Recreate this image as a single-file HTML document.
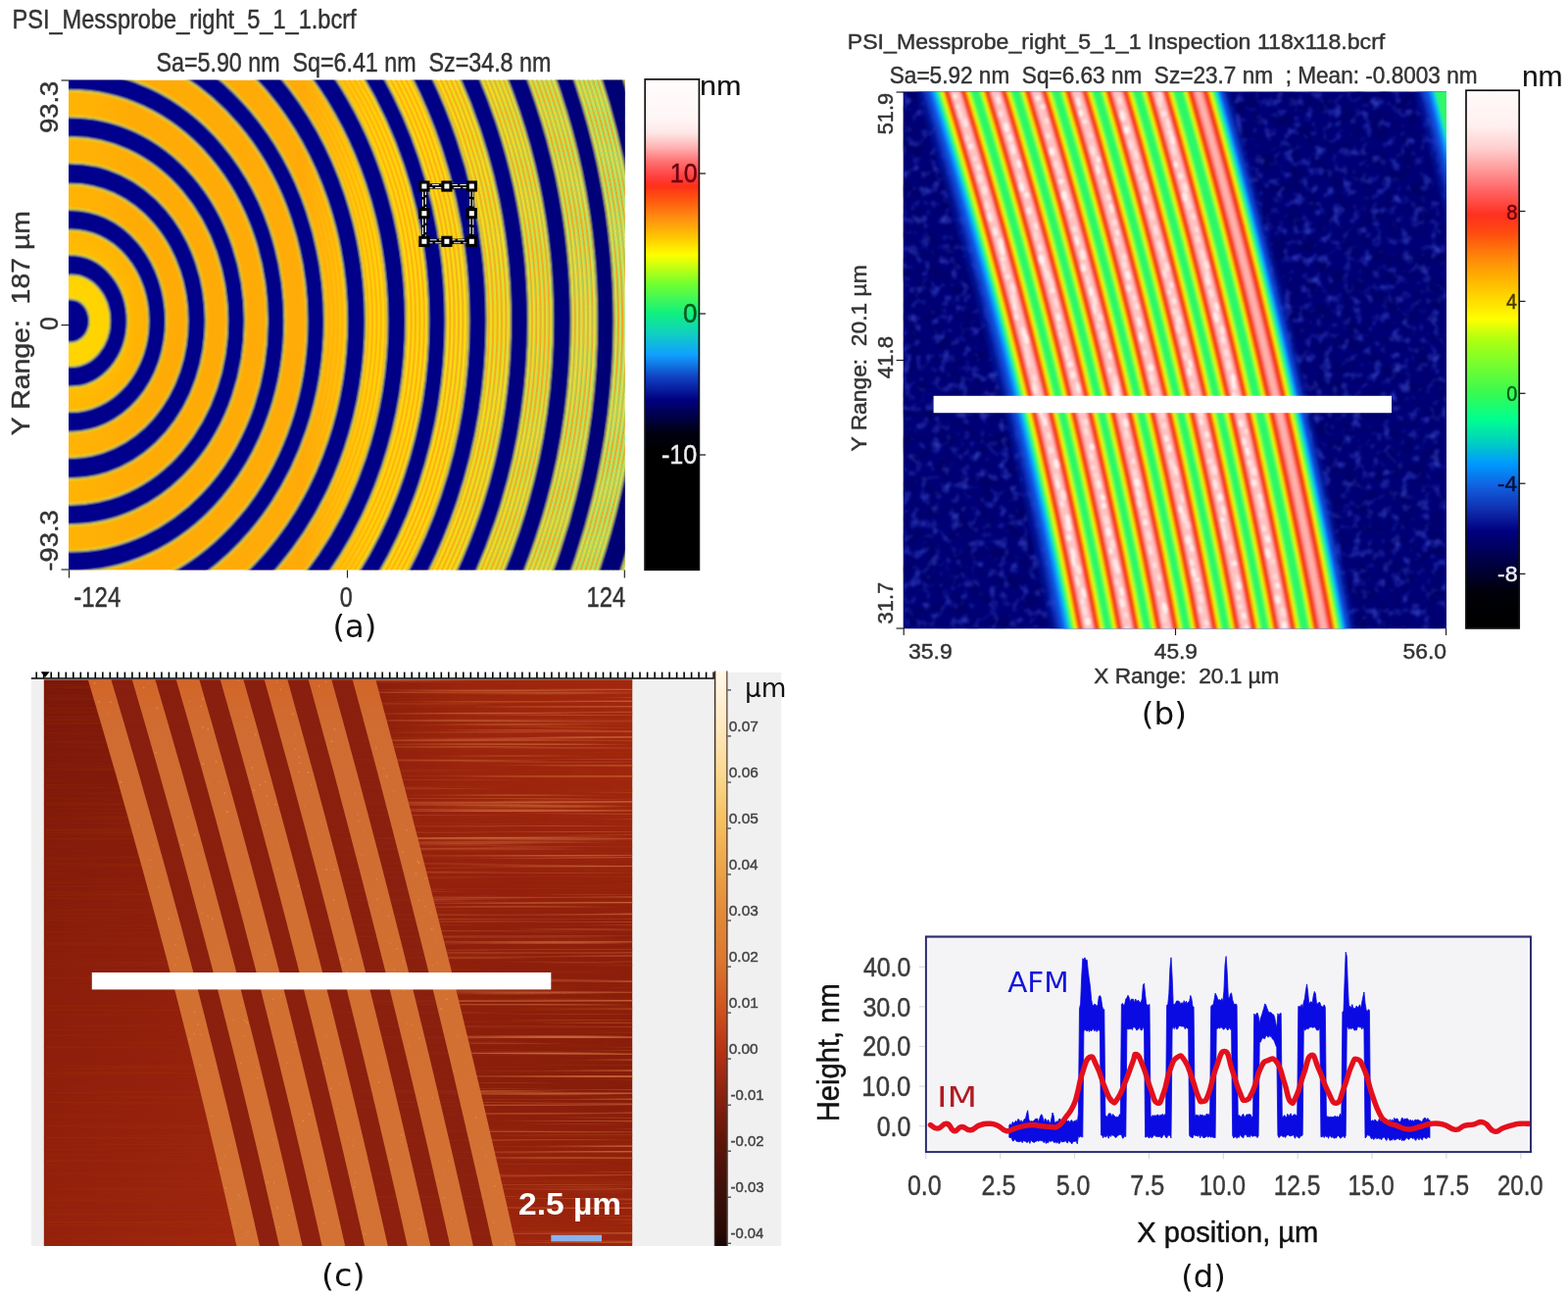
<!DOCTYPE html>
<html lang="en"><head><meta charset="utf-8"><title>Figure</title>
<style>html,body{margin:0;padding:0;background:#fff;overflow:hidden}svg{display:block}</style></head>
<body>
<svg width="1600" height="1321" viewBox="0 0 1600 1321">
<defs>
<clipPath id="ca"><rect x="70.0" y="81.6" width="567.8" height="500.0"/></clipPath>
<linearGradient id="abg" gradientUnits="userSpaceOnUse" x1="70" y1="0" x2="638" y2="0">
<stop offset="0" stop-color="#ffb404"/><stop offset="0.12" stop-color="#ffab06"/>
<stop offset="0.42" stop-color="#ffab08"/><stop offset="0.55" stop-color="#ffd208"/><stop offset="0.75" stop-color="#fbdc14"/>
<stop offset="0.88" stop-color="#f0dc30"/><stop offset="1" stop-color="#e0e050"/></linearGradient>
<linearGradient id="amo" gradientUnits="userSpaceOnUse" x1="300" y1="0" x2="638" y2="0">
<stop offset="0" stop-color="#fff" stop-opacity="0"/><stop offset="0.25" stop-color="#fff" stop-opacity="0.5"/><stop offset="1" stop-color="#fff" stop-opacity="1"/></linearGradient>
<mask id="amask" maskUnits="userSpaceOnUse" x="0" y="0" width="1600" height="700"><rect x="0" y="0" width="1600" height="700" fill="url(#amo)"/></mask>
<linearGradient id="anavy" gradientUnits="userSpaceOnUse" x1="70" y1="0" x2="638" y2="0">
<stop offset="0" stop-color="#00008c"/><stop offset="0.6" stop-color="#000086"/><stop offset="1" stop-color="#00006c"/></linearGradient>
<radialGradient id="acen" gradientUnits="userSpaceOnUse" cx="72.3" cy="327.3" r="110" gradientTransform="translate(0 -59.57) scale(1 1.182)"><stop offset="0" stop-color="#ffd800" stop-opacity="1"/><stop offset="0.36" stop-color="#ffd400" stop-opacity="0.95"/><stop offset="0.55" stop-color="#ffc400" stop-opacity="0.5"/><stop offset="1" stop-color="#ffb000" stop-opacity="0"/></radialGradient>
<filter id="blurA" x="-2%" y="-2%" width="104%" height="104%"><feGaussianBlur stdDeviation="0.9"/></filter>
<linearGradient id="ahg" gradientUnits="userSpaceOnUse" x1="440" y1="0" x2="638" y2="0"><stop offset="0" stop-color="#fff" stop-opacity="0"/><stop offset="0.45" stop-color="#fff" stop-opacity="0.55"/><stop offset="1" stop-color="#fff" stop-opacity="1"/></linearGradient>
<mask id="ahm" maskUnits="userSpaceOnUse" x="0" y="0" width="1600" height="700"><rect x="0" y="0" width="1600" height="700" fill="url(#ahg)"/></mask>
<pattern id="ahl" patternUnits="userSpaceOnUse" x="0" y="0" width="8" height="4.3"><rect x="0" y="0" width="8" height="2.1" fill="#8ae878"/></pattern>
<linearGradient id="ayg" gradientUnits="userSpaceOnUse" x1="0" y1="81.6" x2="0" y2="581.6"><stop offset="0" stop-color="#000" stop-opacity="0"/><stop offset="0.3" stop-color="#000" stop-opacity="0.35"/><stop offset="0.5" stop-color="#000" stop-opacity="0.9"/><stop offset="0.7" stop-color="#000" stop-opacity="0.35"/><stop offset="1" stop-color="#000" stop-opacity="0"/></linearGradient>
<mask id="ahm2" maskUnits="userSpaceOnUse" x="0" y="0" width="1600" height="700"><rect x="0" y="0" width="1600" height="700" fill="url(#ahg)"/><rect x="0" y="0" width="1600" height="700" fill="url(#ayg)"/></mask>
<linearGradient id="cba" gradientUnits="userSpaceOnUse" x1="0" y1="80" x2="0" y2="582"><stop offset="0.0000" stop-color="#fffdfd"/><stop offset="0.0797" stop-color="#fff6f6"/><stop offset="0.1096" stop-color="#ffe8e8"/><stop offset="0.1394" stop-color="#ffb4b4"/><stop offset="0.1693" stop-color="#ff7070"/><stop offset="0.1992" stop-color="#ff4040"/><stop offset="0.2191" stop-color="#ff3018"/><stop offset="0.2490" stop-color="#ff5a10"/><stop offset="0.2849" stop-color="#ff9010"/><stop offset="0.3287" stop-color="#ffd000"/><stop offset="0.3586" stop-color="#ffff00"/><stop offset="0.3825" stop-color="#c8ff10"/><stop offset="0.4183" stop-color="#70ff30"/><stop offset="0.4781" stop-color="#10f080"/><stop offset="0.5179" stop-color="#10d0c0"/><stop offset="0.5618" stop-color="#10a0ff"/><stop offset="0.6076" stop-color="#1040c0"/><stop offset="0.6534" stop-color="#000080"/><stop offset="0.7211" stop-color="#000010"/><stop offset="0.7570" stop-color="#000000"/><stop offset="1.0000" stop-color="#000000"/></linearGradient>
<clipPath id="cb"><rect x="921.7" y="93.6" width="554.3" height="547.6999999999999"/></clipPath>
<filter id="blurB3" x="-5%" y="-5%" width="110%" height="110%"><feGaussianBlur stdDeviation="2.6"/></filter>
<filter id="blurB" x="-5%" y="-5%" width="110%" height="110%"><feGaussianBlur stdDeviation="1.2"/></filter>
<filter id="noiseB" x="0" y="0" width="100%" height="100%"><feTurbulence type="fractalNoise" baseFrequency="0.10" numOctaves="2" seed="4"/>
<feColorMatrix type="matrix" values="0 0 0 0 0.06  0 0 0 0 0.10  0 0 0 0 0.74  1.9 0 0 0 -1.0"/><feGaussianBlur stdDeviation="1.1"/></filter>
<filter id="noiseB2" x="0" y="0" width="100%" height="100%"><feTurbulence type="fractalNoise" baseFrequency="0.07" numOctaves="2" seed="9"/>
<feColorMatrix type="matrix" values="0 0 0 0 0  0 0 0 0 0  0 0 0 0 0.12  0 2.0 0 0 -0.85"/></filter>
<linearGradient id="cbb" gradientUnits="userSpaceOnUse" x1="0" y1="92" x2="0" y2="641"><stop offset="0.0000" stop-color="#fffafa"/><stop offset="0.0656" stop-color="#fff0f0"/><stop offset="0.1071" stop-color="#ffd0d0"/><stop offset="0.1485" stop-color="#ff9898"/><stop offset="0.1894" stop-color="#ff6060"/><stop offset="0.2313" stop-color="#ff3020"/><stop offset="0.2641" stop-color="#ff4a10"/><stop offset="0.3133" stop-color="#ff8a08"/><stop offset="0.3552" stop-color="#ffb800"/><stop offset="0.4253" stop-color="#ffff00"/><stop offset="0.4627" stop-color="#b0ff10"/><stop offset="0.4882" stop-color="#90ff20"/><stop offset="0.5628" stop-color="#38fa50"/><stop offset="0.6120" stop-color="#00ff90"/><stop offset="0.6539" stop-color="#00d0c0"/><stop offset="0.6949" stop-color="#0098ff"/><stop offset="0.7359" stop-color="#1060e0"/><stop offset="0.7778" stop-color="#1030b0"/><stop offset="0.8189" stop-color="#000080"/><stop offset="0.8809" stop-color="#000040"/><stop offset="0.9344" stop-color="#000008"/><stop offset="1.0000" stop-color="#000000"/></linearGradient>
<clipPath id="cc"><rect x="44.6" y="693.2" width="600.8" height="577.8"/></clipPath>
<linearGradient id="cbg" gradientUnits="userSpaceOnUse" x1="0" y1="693" x2="0" y2="1271">
<stop offset="0" stop-color="#821b0c"/><stop offset="0.3" stop-color="#8f1f0d"/><stop offset="0.65" stop-color="#9a230e"/><stop offset="1" stop-color="#a3270f"/></linearGradient>
<linearGradient id="cbg2" gradientUnits="userSpaceOnUse" x1="44" y1="0" x2="645" y2="0">
<stop offset="0" stop-color="#5a0a00" stop-opacity="0.2"/><stop offset="0.35" stop-color="#5a0a00" stop-opacity="0.04"/><stop offset="0.6" stop-color="#5a0a00" stop-opacity="0"/></linearGradient>
<linearGradient id="cbg3" gradientUnits="userSpaceOnUse" x1="0" y1="693" x2="0" y2="1271">
<stop offset="0" stop-color="#c23410" stop-opacity="0.5"/><stop offset="0.2" stop-color="#c23410" stop-opacity="0.38"/><stop offset="0.38" stop-color="#c03410" stop-opacity="0.06"/><stop offset="0.45" stop-color="#4a0800" stop-opacity="0.08"/><stop offset="0.72" stop-color="#4a0800" stop-opacity="0.26"/><stop offset="0.9" stop-color="#4a0800" stop-opacity="0.12"/><stop offset="1" stop-color="#4a0800" stop-opacity="0.06"/></linearGradient>
<linearGradient id="cxg" gradientUnits="userSpaceOnUse" x1="330" y1="0" x2="645" y2="0"><stop offset="0" stop-color="#fff" stop-opacity="0"/><stop offset="0.45" stop-color="#fff" stop-opacity="0.8"/><stop offset="1" stop-color="#fff" stop-opacity="1"/></linearGradient>
<mask id="cxm" maskUnits="userSpaceOnUse" x="0" y="600" width="1600" height="721"><rect x="0" y="600" width="1600" height="721" fill="url(#cxg)"/></mask>
<linearGradient id="cst" gradientUnits="userSpaceOnUse" x1="0" y1="693" x2="0" y2="1271">
<stop offset="0" stop-color="#d2652a"/><stop offset="0.08" stop-color="#d06c30"/><stop offset="1" stop-color="#d47234"/></linearGradient>
<filter id="noiseC" x="0" y="0" width="100%" height="100%"><feTurbulence type="fractalNoise" baseFrequency="0.003 0.35" numOctaves="2" seed="11"/>
<feColorMatrix type="matrix" values="0 0 0 0 0.84  0 0 0 0 0.30  0 0 0 0 0.10  2.4 0 0 0 -1.30"/></filter>
<filter id="noiseC2" x="0" y="0" width="100%" height="100%"><feTurbulence type="fractalNoise" baseFrequency="0.004 0.5" numOctaves="2" seed="5"/>
<feColorMatrix type="matrix" values="0 0 0 0 0.36  0 0 0 0 0.04  0 0 0 0 0.0  0 2.0 0 0 -0.98"/></filter>
<filter id="blurC" x="-5%" y="-5%" width="110%" height="110%"><feGaussianBlur stdDeviation="0.6"/></filter>
<linearGradient id="cng" gradientUnits="userSpaceOnUse" x1="300" y1="0" x2="645" y2="0"><stop offset="0" stop-color="#fff" stop-opacity="0.05"/><stop offset="0.3" stop-color="#fff" stop-opacity="0.5"/><stop offset="1" stop-color="#fff" stop-opacity="1"/></linearGradient>
<mask id="cnm" maskUnits="userSpaceOnUse" x="0" y="600" width="1600" height="721"><rect x="0" y="600" width="1600" height="721" fill="url(#cng)"/></mask>
<linearGradient id="cbc" gradientUnits="userSpaceOnUse" x1="0" y1="684.5" x2="0" y2="1271"><stop offset="0.0000" stop-color="#fff8ea"/><stop offset="0.0963" stop-color="#fde8c0"/><stop offset="0.1782" stop-color="#fad890"/><stop offset="0.2600" stop-color="#f5c060"/><stop offset="0.3410" stop-color="#eda548"/><stop offset="0.4186" stop-color="#e28a38"/><stop offset="0.4970" stop-color="#dc7930"/><stop offset="0.5772" stop-color="#d25820"/><stop offset="0.6549" stop-color="#b83414"/><stop offset="0.7357" stop-color="#8c2210"/><stop offset="0.8176" stop-color="#601408"/><stop offset="0.8951" stop-color="#40100a"/><stop offset="0.9761" stop-color="#280a06"/><stop offset="1.0000" stop-color="#180604"/></linearGradient>
<clipPath id="cd"><rect x="944.8" y="955.5" width="617.2" height="219.70000000000005"/></clipPath>
</defs>
<rect width="1600" height="1321" fill="#fff"/>
<g clip-path="url(#ca)">
<rect x="70.0" y="81.6" width="567.8" height="500.0" fill="url(#abg)"/>
<rect x="70.0" y="81.6" width="250" height="500.0" fill="url(#acen)"/>
<g mask="url(#amask)"><g transform="translate(72.3 327.3) scale(1 1.182)" fill="none" stroke="#ff9418" stroke-width="2.0" stroke-opacity="0.9">
<circle r="255.0"/>
<circle r="259.4"/>
<circle r="263.8"/>
<circle r="268.2"/>
<circle r="272.6"/>
<circle r="277.0"/>
<circle r="281.4"/>
<circle r="285.8"/>
<circle r="290.2"/>
<circle r="294.6"/>
<circle r="299.0"/>
<circle r="303.4"/>
<circle r="307.8"/>
<circle r="312.2"/>
<circle r="316.6"/>
<circle r="321.0"/>
<circle r="325.4"/>
<circle r="329.8"/>
<circle r="334.2"/>
<circle r="338.6"/>
<circle r="343.0"/>
<circle r="347.4"/>
<circle r="351.8"/>
<circle r="356.2"/>
<circle r="360.6"/>
<circle r="365.0"/>
<circle r="369.4"/>
<circle r="373.8"/>
<circle r="378.2"/>
<circle r="382.6"/>
<circle r="387.0"/>
<circle r="391.4"/>
<circle r="395.8"/>
<circle r="400.2"/>
<circle r="404.6"/>
<circle r="409.0"/>
<circle r="413.4"/>
<circle r="417.8"/>
<circle r="422.2"/>
<circle r="426.6"/>
<circle r="431.0"/>
<circle r="435.4"/>
<circle r="439.8"/>
<circle r="444.2"/>
<circle r="448.6"/>
<circle r="453.0"/>
<circle r="457.4"/>
<circle r="461.8"/>
<circle r="466.2"/>
<circle r="470.6"/>
<circle r="475.0"/>
<circle r="479.4"/>
<circle r="483.8"/>
<circle r="488.2"/>
<circle r="492.6"/>
<circle r="497.0"/>
<circle r="501.4"/>
<circle r="505.8"/>
<circle r="510.2"/>
<circle r="514.6"/>
<circle r="519.0"/>
<circle r="523.4"/>
<circle r="527.8"/>
<circle r="532.2"/>
<circle r="536.6"/>
<circle r="541.0"/>
<circle r="545.4"/>
<circle r="549.8"/>
<circle r="554.2"/>
<circle r="558.6"/>
<circle r="563.0"/>
<circle r="567.4"/>
<circle r="571.8"/>
<circle r="576.2"/>
<circle r="580.6"/>
<circle r="585.0"/>
<circle r="589.4"/>
<circle r="593.8"/>
<circle r="598.2"/>
<circle r="602.6"/>
<circle r="607.0"/>
<circle r="611.4"/>
<circle r="615.8"/>
<circle r="620.2"/>
<circle r="624.6"/>
<circle r="629.0"/>
<circle r="633.4"/>
<circle r="637.8"/>
</g></g>
<g mask="url(#ahm)"><g transform="translate(72.3 327.3) scale(1 1.04)" fill="none" stroke="#86ea80" stroke-width="1.7" stroke-opacity="0.6">
<circle r="380.0"/>
<circle r="384.1"/>
<circle r="388.2"/>
<circle r="392.3"/>
<circle r="396.4"/>
<circle r="400.5"/>
<circle r="404.6"/>
<circle r="408.7"/>
<circle r="412.8"/>
<circle r="416.9"/>
<circle r="421.0"/>
<circle r="425.1"/>
<circle r="429.2"/>
<circle r="433.3"/>
<circle r="437.4"/>
<circle r="441.5"/>
<circle r="445.6"/>
<circle r="449.7"/>
<circle r="453.8"/>
<circle r="457.9"/>
<circle r="462.0"/>
<circle r="466.1"/>
<circle r="470.2"/>
<circle r="474.3"/>
<circle r="478.4"/>
<circle r="482.5"/>
<circle r="486.6"/>
<circle r="490.7"/>
<circle r="494.8"/>
<circle r="498.9"/>
<circle r="503.0"/>
<circle r="507.1"/>
<circle r="511.2"/>
<circle r="515.3"/>
<circle r="519.4"/>
<circle r="523.5"/>
<circle r="527.6"/>
<circle r="531.7"/>
<circle r="535.8"/>
<circle r="539.9"/>
<circle r="544.0"/>
<circle r="548.1"/>
<circle r="552.2"/>
<circle r="556.3"/>
<circle r="560.4"/>
<circle r="564.5"/>
<circle r="568.6"/>
<circle r="572.7"/>
<circle r="576.8"/>
<circle r="580.9"/>
<circle r="585.0"/>
<circle r="589.1"/>
<circle r="593.2"/>
<circle r="597.3"/>
<circle r="601.4"/>
<circle r="605.5"/>
<circle r="609.6"/>
<circle r="613.7"/>
<circle r="617.8"/>
<circle r="621.9"/>
<circle r="626.0"/>
<circle r="630.1"/>
<circle r="634.2"/>
<circle r="638.3"/>
</g></g>
<rect x="440" y="81.6" width="200" height="500.0" fill="url(#ahl)" fill-opacity="0.55" mask="url(#ahm2)"/>
<g filter="url(#blurA)"><g transform="translate(72.3 327.3)" fill="none">
<circle r="20.30" fill="#dde052" transform="scale(1 1.17)"/><circle r="18.70" fill="#00008c" transform="scale(1 1.17)"/>
<circle r="48.75" stroke="#dde052" stroke-width="20.10" transform="scale(1 1.1700)"/>
<circle r="88.12" stroke="#dde052" stroke-width="20.15" transform="scale(1 1.1700)"/>
<circle r="128.42" stroke="#dde052" stroke-width="20.75" transform="scale(1 1.1700)"/>
<circle r="168.75" stroke="#dde052" stroke-width="20.10" transform="scale(1 1.1709)"/>
<circle r="209.32" stroke="#dde052" stroke-width="20.05" transform="scale(1 1.1728)"/>
<circle r="249.95" stroke="#dde052" stroke-width="20.10" transform="scale(1 1.1748)"/>
<circle r="291.20" stroke="#dde052" stroke-width="21.30" transform="scale(1 1.1768)"/>
<circle r="332.45" stroke="#dde052" stroke-width="21.30" transform="scale(1 1.1788)"/>
<circle r="373.70" stroke="#dde052" stroke-width="20.00" transform="scale(1 1.1807)"/>
<circle r="415.25" stroke="#dde052" stroke-width="20.70" transform="scale(1 1.1820)"/>
<circle r="457.75" stroke="#dde052" stroke-width="20.70" transform="scale(1 1.1820)"/>
<circle r="501.20" stroke="#dde052" stroke-width="21.30" transform="scale(1 1.1820)"/>
<circle r="545.58" stroke="#dde052" stroke-width="20.05" transform="scale(1 1.1820)"/>
<circle r="590.70" stroke="#dde052" stroke-width="23.80" transform="scale(1 1.1820)"/>
<circle r="48.75" stroke="url(#anavy)" stroke-width="17.10" transform="scale(1 1.1700)"/>
<circle r="88.12" stroke="url(#anavy)" stroke-width="17.15" transform="scale(1 1.1700)"/>
<circle r="128.42" stroke="url(#anavy)" stroke-width="17.75" transform="scale(1 1.1700)"/>
<circle r="168.75" stroke="url(#anavy)" stroke-width="17.10" transform="scale(1 1.1709)"/>
<circle r="209.32" stroke="url(#anavy)" stroke-width="17.05" transform="scale(1 1.1728)"/>
<circle r="249.95" stroke="url(#anavy)" stroke-width="17.10" transform="scale(1 1.1748)"/>
<circle r="291.20" stroke="url(#anavy)" stroke-width="18.30" transform="scale(1 1.1768)"/>
<circle r="332.45" stroke="url(#anavy)" stroke-width="18.30" transform="scale(1 1.1788)"/>
<circle r="373.70" stroke="url(#anavy)" stroke-width="17.00" transform="scale(1 1.1807)"/>
<circle r="415.25" stroke="url(#anavy)" stroke-width="17.70" transform="scale(1 1.1820)"/>
<circle r="457.75" stroke="url(#anavy)" stroke-width="17.70" transform="scale(1 1.1820)"/>
<circle r="501.20" stroke="url(#anavy)" stroke-width="18.30" transform="scale(1 1.1820)"/>
<circle r="545.58" stroke="url(#anavy)" stroke-width="17.05" transform="scale(1 1.1820)"/>
<circle r="590.70" stroke="url(#anavy)" stroke-width="20.80" transform="scale(1 1.1820)"/>
</g></g>
<g>
<rect x="432.9" y="190.0" width="48.400000000000034" height="56.30000000000001" fill="none" stroke="#000" stroke-width="5.4"/>
<rect x="431.4" y="188.5" width="51.400000000000034" height="59.30000000000001" fill="none" stroke="#fff" stroke-width="1.1" stroke-dasharray="7 2.5"/>
<rect x="434.4" y="191.5" width="45.400000000000034" height="53.30000000000001" fill="none" stroke="#fff" stroke-width="1.1" stroke-dasharray="7 2.5"/>
<rect x="427.3" y="184.4" width="11.2" height="11.2" fill="#000"/><rect x="430.4" y="187.5" width="5" height="5" fill="#fff"/>
<rect x="427.3" y="212.1" width="11.2" height="11.2" fill="#000"/><rect x="430.4" y="215.2" width="5" height="5" fill="#fff"/>
<rect x="427.3" y="240.7" width="11.2" height="11.2" fill="#000"/><rect x="430.4" y="243.8" width="5" height="5" fill="#fff"/>
<rect x="450.3" y="184.4" width="11.2" height="11.2" fill="#000"/><rect x="453.4" y="187.5" width="5" height="5" fill="#fff"/>
<rect x="450.3" y="240.7" width="11.2" height="11.2" fill="#000"/><rect x="453.4" y="243.8" width="5" height="5" fill="#fff"/>
<rect x="475.7" y="184.4" width="11.2" height="11.2" fill="#000"/><rect x="478.8" y="187.5" width="5" height="5" fill="#fff"/>
<rect x="475.7" y="212.1" width="11.2" height="11.2" fill="#000"/><rect x="478.8" y="215.2" width="5" height="5" fill="#fff"/>
<rect x="475.7" y="240.7" width="11.2" height="11.2" fill="#000"/><rect x="478.8" y="243.8" width="5" height="5" fill="#fff"/>
</g>
</g>
<g stroke="#222" stroke-width="1.2">
<line x1="70.5" y1="581.6" x2="70.5" y2="589.5"/>
<line x1="354.5" y1="581.6" x2="354.5" y2="589.5"/>
<line x1="637.3" y1="581.6" x2="637.3" y2="589.5"/>
<line x1="62.5" y1="82" x2="70" y2="82"/>
<line x1="62.5" y1="331.6" x2="70" y2="331.6"/>
<line x1="62.5" y1="581" x2="70" y2="581"/>
</g>
<rect x="657.6" y="80.3" width="56.4" height="501.4" fill="url(#cba)"/>
<rect x="658.2" y="80.9" width="55.2" height="500.4" fill="none" stroke="#111" stroke-width="1.7"/>
<g stroke="#222" stroke-width="1.3"><line x1="714" y1="177" x2="720" y2="177"/><line x1="714" y1="320" x2="720" y2="320"/><line x1="714" y1="464" x2="720" y2="464"/></g>
<text transform="translate(12.51 29.40) scale(0.8652 1)" font-family="Liberation Sans, sans-serif" font-size="27.25" font-weight="normal" fill="#333" stroke="#333" stroke-width="0.45" xml:space="preserve" >PSI_Messprobe_right_5_1_1.bcrf</text>
<text transform="translate(159.44 72.50) scale(0.8280 1)" font-family="Liberation Sans, sans-serif" font-size="28.12" font-weight="normal" fill="#333" stroke="#333" stroke-width="0.45" xml:space="preserve" >Sa=5.90 nm  Sq=6.41 nm  Sz=34.8 nm</text>
<text transform="translate(75.29 618.80) scale(0.8223 1)" font-family="Liberation Sans, sans-serif" font-size="29.14" font-weight="normal" fill="#333" stroke="#333" stroke-width="0.45" xml:space="preserve" >-124</text>
<text transform="translate(346.77 618.80) scale(0.8007 1)" font-family="Liberation Sans, sans-serif" font-size="29.14" font-weight="normal" fill="#333" stroke="#333" stroke-width="0.45" xml:space="preserve" >0</text>
<text transform="translate(598.60 618.80) scale(0.8139 1)" font-family="Liberation Sans, sans-serif" font-size="29.14" font-weight="normal" fill="#333" stroke="#333" stroke-width="0.45" xml:space="preserve" >124</text>
<text transform="translate(339.41 649.70) scale(1.0141 1)" font-family="DejaVu Sans, sans-serif" font-size="31.69" font-weight="normal" fill="#111" stroke="#111" stroke-width="0" xml:space="preserve" >(a)</text>
<text transform="translate(714.06 96.80) scale(1.0944 1)" font-family="Liberation Sans, sans-serif" font-size="27.92" font-weight="normal" fill="#111" stroke="#111" stroke-width="0.15" xml:space="preserve" >nm</text>
<text transform="translate(683.80 186.00) scale(0.9049 1)" font-family="Liberation Sans, sans-serif" font-size="27.57" font-weight="normal" fill="#6a0010" stroke="#6a0010" stroke-width="0.45" xml:space="preserve" >10</text>
<text transform="translate(696.96 328.60) scale(0.9445 1)" font-family="Liberation Sans, sans-serif" font-size="27.57" font-weight="normal" fill="#00581c" stroke="#00581c" stroke-width="0.45" xml:space="preserve" >0</text>
<text transform="translate(674.99 473.30) scale(0.9134 1)" font-family="Liberation Sans, sans-serif" font-size="27.57" font-weight="normal" fill="#ececf4" stroke="#ececf4" stroke-width="0.45" xml:space="preserve" >-10</text>
<text transform="translate(59.40 135.86) rotate(-90) scale(1.0857 1)" font-family="Liberation Sans, sans-serif" font-size="25.14" font-weight="normal" fill="#333" stroke="#333" stroke-width="0.45" xml:space="preserve" >93.3</text>
<text transform="translate(59.10 336.99) rotate(-90) scale(0.9805 1)" font-family="Liberation Sans, sans-serif" font-size="25.29" font-weight="normal" fill="#333" stroke="#333" stroke-width="0.45" xml:space="preserve" >0</text>
<text transform="translate(59.40 582.49) rotate(-90) scale(1.0860 1)" font-family="Liberation Sans, sans-serif" font-size="25.14" font-weight="normal" fill="#333" stroke="#333" stroke-width="0.45" xml:space="preserve" >-93.3</text>
<text transform="translate(29.60 444.15) rotate(-90) scale(1.1275 1)" font-family="Liberation Sans, sans-serif" font-size="25.22" font-weight="normal" fill="#333" stroke="#333" stroke-width="0.45" xml:space="preserve" >Y Range:  187 µm</text>
<g clip-path="url(#cb)">
<rect x="919.7" y="91.6" width="558.3" height="551.6999999999999" fill="#000076"/>
<rect x="919.7" y="91.6" width="558.3" height="551.6999999999999" filter="url(#noiseB2)"/>
<rect x="919.7" y="91.6" width="558.3" height="551.6999999999999" filter="url(#noiseB)"/>
<g filter="url(#blurB)">
</g><g filter="url(#blurB3)">
<path d="M933.8 87.6L945.9 127.6L957.7 167.6L969.2 207.5L980.3 247.5L991.1 287.5L1001.5 327.5L1011.6 367.4L1021.4 407.4L1030.9 447.4L1039.9 487.4L1048.7 527.4L1057.1 567.3L1065.2 607.3L1073.0 647.3L1383.6 647.3L1376.1 607.3L1368.2 567.3L1360.1 527.4L1351.7 487.4L1343.0 447.4L1334.0 407.4L1324.8 367.4L1315.3 327.5L1305.6 287.5L1295.5 247.5L1285.2 207.5L1274.6 167.6L1263.7 127.6L1252.6 87.6Z" fill="#0a24bc" fill-opacity="0.35"/>
<path d="M1442.4 87.6L1452.5 127.6L1462.4 167.6L1472.1 207.5L1481.6 247.5L1490.8 287.5L1499.9 327.5L1508.7 367.4L1517.4 407.4L1525.8 447.4L1534.0 487.4L1542.1 527.4L1549.9 567.3L1557.5 607.3L1564.9 647.3L1690.9 647.3L1683.5 607.3L1676.0 567.3L1668.2 527.4L1660.2 487.4L1652.1 447.4L1643.8 407.4L1635.2 367.4L1626.5 327.5L1617.6 287.5L1608.5 247.5L1599.2 207.5L1589.7 167.6L1580.0 127.6L1570.1 87.6Z" fill="#0a24bc" fill-opacity="0.35"/>
<path d="M938.3 87.6L950.4 127.6L962.2 167.6L973.7 207.5L984.8 247.5L995.6 287.5L1006.0 327.5L1016.1 367.4L1025.9 407.4L1035.4 447.4L1044.4 487.4L1053.2 527.4L1061.6 567.3L1069.7 607.3L1077.5 647.3L1380.7 647.3L1373.1 607.3L1365.2 567.3L1357.1 527.4L1348.7 487.4L1340.0 447.4L1331.1 407.4L1321.9 367.4L1312.4 327.5L1302.6 287.5L1292.5 247.5L1282.2 207.5L1271.6 167.6L1260.8 127.6L1249.6 87.6Z" fill="#0c34cc" fill-opacity="0.5"/>
<path d="M1446.9 87.6L1457.0 127.6L1466.9 167.6L1476.6 207.5L1486.1 247.5L1495.3 287.5L1504.4 327.5L1513.2 367.4L1521.9 407.4L1530.3 447.4L1538.5 487.4L1546.6 527.4L1554.4 567.3L1562.0 607.3L1569.4 647.3L1686.4 647.3L1679.0 607.3L1671.5 567.3L1663.7 527.4L1655.7 487.4L1647.6 447.4L1639.3 407.4L1630.7 367.4L1622.0 327.5L1613.1 287.5L1604.0 247.5L1594.7 207.5L1585.2 167.6L1575.5 127.6L1565.6 87.6Z" fill="#0c34cc" fill-opacity="0.5"/>
<path d="M942.3 87.6L954.4 127.6L966.2 167.6L977.7 207.5L988.8 247.5L999.6 287.5L1010.0 327.5L1020.1 367.4L1029.9 407.4L1039.4 447.4L1048.4 487.4L1057.2 527.4L1065.6 567.3L1073.7 607.3L1081.5 647.3L1378.0 647.3L1370.4 607.3L1362.6 567.3L1354.5 527.4L1346.1 487.4L1337.4 447.4L1328.4 407.4L1319.2 367.4L1309.7 327.5L1299.9 287.5L1289.9 247.5L1279.6 207.5L1269.0 167.6L1258.1 127.6L1247.0 87.6Z" fill="#0e4cdc" fill-opacity="0.75"/>
<path d="M1450.9 87.6L1461.0 127.6L1470.9 167.6L1480.6 207.5L1490.1 247.5L1499.3 287.5L1508.4 327.5L1517.2 367.4L1525.9 407.4L1534.3 447.4L1542.5 487.4L1550.6 527.4L1558.4 567.3L1566.0 607.3L1573.4 647.3L1682.4 647.3L1675.0 607.3L1667.5 567.3L1659.7 527.4L1651.7 487.4L1643.6 447.4L1635.3 407.4L1626.7 367.4L1618.0 327.5L1609.1 287.5L1600.0 247.5L1590.7 207.5L1581.2 167.6L1571.5 127.6L1561.6 87.6Z" fill="#0e4cdc" fill-opacity="0.75"/>
<path d="M945.3 87.6L957.4 127.6L969.2 167.6L980.7 207.5L991.8 247.5L1002.6 287.5L1013.0 327.5L1023.1 367.4L1032.9 407.4L1042.4 447.4L1051.4 487.4L1060.2 527.4L1068.6 567.3L1076.7 607.3L1084.5 647.3L1376.0 647.3L1368.5 607.3L1360.6 567.3L1352.5 527.4L1344.1 487.4L1335.4 447.4L1326.5 407.4L1317.2 367.4L1307.7 327.5L1298.0 287.5L1287.9 247.5L1277.6 207.5L1267.0 167.6L1256.2 127.6L1245.0 87.6Z" fill="#0f60e8" fill-opacity="1"/>
<path d="M1453.9 87.6L1464.0 127.6L1473.9 167.6L1483.6 207.5L1493.1 247.5L1502.3 287.5L1511.4 327.5L1520.2 367.4L1528.9 407.4L1537.3 447.4L1545.5 487.4L1553.6 527.4L1561.4 567.3L1569.0 607.3L1576.4 647.3L1679.4 647.3L1672.0 607.3L1664.5 567.3L1656.7 527.4L1648.7 487.4L1640.6 447.4L1632.3 407.4L1623.7 367.4L1615.0 327.5L1606.1 287.5L1597.0 247.5L1587.7 207.5L1578.2 167.6L1568.5 127.6L1558.6 87.6Z" fill="#0f60e8" fill-opacity="1"/>
</g><g filter="url(#blurB)">
<path d="M947.8 87.6L959.9 127.6L971.7 167.6L983.2 207.5L994.3 247.5L1005.1 287.5L1015.5 327.5L1025.6 367.4L1035.4 407.4L1044.9 447.4L1053.9 487.4L1062.7 527.4L1071.1 567.3L1079.2 607.3L1087.0 647.3L1374.4 647.3L1366.8 607.3L1359.0 567.3L1350.8 527.4L1342.4 487.4L1333.8 447.4L1324.8 407.4L1315.6 367.4L1306.1 327.5L1296.3 287.5L1286.3 247.5L1276.0 207.5L1265.4 167.6L1254.5 127.6L1243.4 87.6Z" fill="#1080f4" />
<path d="M1456.4 87.6L1466.5 127.6L1476.4 167.6L1486.1 207.5L1495.6 247.5L1504.8 287.5L1513.9 327.5L1522.7 367.4L1531.4 407.4L1539.8 447.4L1548.0 487.4L1556.1 527.4L1563.9 567.3L1571.5 607.3L1578.9 647.3L1676.9 647.3L1669.5 607.3L1662.0 567.3L1654.2 527.4L1646.2 487.4L1638.1 447.4L1629.8 407.4L1621.2 367.4L1612.5 327.5L1603.6 287.5L1594.5 247.5L1585.2 207.5L1575.7 167.6L1566.0 127.6L1556.1 87.6Z" fill="#1080f4" />
<path d="M950.2 87.6L962.3 127.6L974.1 167.6L985.6 207.5L996.7 247.5L1007.5 287.5L1017.9 327.5L1028.0 367.4L1037.8 407.4L1047.3 447.4L1056.3 487.4L1065.1 527.4L1073.5 567.3L1081.6 607.3L1089.4 647.3L1372.8 647.3L1365.2 607.3L1357.4 567.3L1349.2 527.4L1340.8 487.4L1332.2 447.4L1323.2 407.4L1314.0 367.4L1304.5 327.5L1294.7 287.5L1284.7 247.5L1274.4 207.5L1263.8 167.6L1252.9 127.6L1241.8 87.6Z" fill="#10a8f8" />
<path d="M1458.8 87.6L1468.9 127.6L1478.8 167.6L1488.5 207.5L1498.0 247.5L1507.2 287.5L1516.3 327.5L1525.1 367.4L1533.8 407.4L1542.2 447.4L1550.4 487.4L1558.5 527.4L1566.3 567.3L1573.9 607.3L1581.3 647.3L1674.5 647.3L1667.1 607.3L1659.6 567.3L1651.8 527.4L1643.8 487.4L1635.7 447.4L1627.4 407.4L1618.8 367.4L1610.1 327.5L1601.2 287.5L1592.1 247.5L1582.8 207.5L1573.3 167.6L1563.6 127.6L1553.7 87.6Z" fill="#10a8f8" />
<path d="M952.0 87.6L964.1 127.6L975.9 167.6L987.4 207.5L998.5 247.5L1009.3 287.5L1019.7 327.5L1029.8 367.4L1039.6 407.4L1049.1 447.4L1058.1 487.4L1066.9 527.4L1075.3 567.3L1083.4 607.3L1091.2 647.3L1371.6 647.3L1364.0 607.3L1356.2 567.3L1348.1 527.4L1339.7 487.4L1331.0 447.4L1322.0 407.4L1312.8 367.4L1303.3 327.5L1293.5 287.5L1283.5 247.5L1273.2 207.5L1262.6 167.6L1251.7 127.6L1240.6 87.6Z" fill="#10d0e0" />
<path d="M1460.6 87.6L1470.7 127.6L1480.6 167.6L1490.3 207.5L1499.8 247.5L1509.0 287.5L1518.1 327.5L1526.9 367.4L1535.6 407.4L1544.0 447.4L1552.2 487.4L1560.3 527.4L1568.1 567.3L1575.7 607.3L1583.1 647.3L1672.7 647.3L1665.3 607.3L1657.8 567.3L1650.0 527.4L1642.0 487.4L1633.9 447.4L1625.6 407.4L1617.0 367.4L1608.3 327.5L1599.4 287.5L1590.3 247.5L1581.0 207.5L1571.5 167.6L1561.8 127.6L1551.9 87.6Z" fill="#10d0e0" />
<path d="M953.4 87.6L965.5 127.6L977.3 167.6L988.8 207.5L999.9 247.5L1010.7 287.5L1021.1 327.5L1031.2 367.4L1041.0 407.4L1050.5 447.4L1059.5 487.4L1068.3 527.4L1076.7 567.3L1084.8 607.3L1092.6 647.3L1370.3 647.3L1362.8 607.3L1354.9 567.3L1346.8 527.4L1338.4 487.4L1329.7 447.4L1320.7 407.4L1311.5 367.4L1302.0 327.5L1292.3 287.5L1282.2 247.5L1271.9 207.5L1261.3 167.6L1250.4 127.6L1239.3 87.6Z" fill="#18f0a0" />
<path d="M1462.0 87.6L1472.1 127.6L1482.0 167.6L1491.7 207.5L1501.2 247.5L1510.4 287.5L1519.5 327.5L1528.3 367.4L1537.0 407.4L1545.4 447.4L1553.6 487.4L1561.7 527.4L1569.5 567.3L1577.1 607.3L1584.5 647.3L1671.3 647.3L1663.9 607.3L1656.4 567.3L1648.6 527.4L1640.6 487.4L1632.5 447.4L1624.2 407.4L1615.6 367.4L1606.9 327.5L1598.0 287.5L1588.9 247.5L1579.6 207.5L1570.1 167.6L1560.4 127.6L1550.5 87.6Z" fill="#18f0a0" />
<path d="M955.2 87.6L967.3 127.6L979.1 167.6L990.6 207.5L1001.7 247.5L1012.5 287.5L1022.9 327.5L1033.0 367.4L1042.8 407.4L1052.3 447.4L1061.3 487.4L1070.1 527.4L1078.5 567.3L1086.6 607.3L1094.4 647.3L1368.5 647.3L1361.0 607.3L1353.1 567.3L1345.0 527.4L1336.6 487.4L1327.9 447.4L1318.9 407.4L1309.7 367.4L1300.2 327.5L1290.5 287.5L1280.4 247.5L1270.1 207.5L1259.5 167.6L1248.6 127.6L1237.5 87.6Z" fill="#30f868" />
<path d="M1463.8 87.6L1473.9 127.6L1483.8 167.6L1493.5 207.5L1503.0 247.5L1512.2 287.5L1521.3 327.5L1530.1 367.4L1538.8 407.4L1547.2 447.4L1555.4 487.4L1563.5 527.4L1571.3 567.3L1578.9 607.3L1586.3 647.3L1669.5 647.3L1662.1 607.3L1654.6 567.3L1646.8 527.4L1638.8 487.4L1630.7 447.4L1622.4 407.4L1613.8 367.4L1605.1 327.5L1596.2 287.5L1587.1 247.5L1577.8 207.5L1568.3 167.6L1558.6 127.6L1548.7 87.6Z" fill="#30f868" />
<path d="M956.3 87.6L968.4 127.6L980.2 167.6L991.7 207.5L1002.8 247.5L1013.6 287.5L1024.0 327.5L1034.1 367.4L1043.9 407.4L1053.4 447.4L1062.4 487.4L1071.2 527.4L1079.6 567.3L1087.7 607.3L1095.5 647.3L1367.4 647.3L1359.9 607.3L1352.0 567.3L1343.9 527.4L1335.5 487.4L1326.8 447.4L1317.8 407.4L1308.6 367.4L1299.1 327.5L1289.4 287.5L1279.3 247.5L1269.0 207.5L1258.4 167.6L1247.5 127.6L1236.4 87.6Z" fill="#2cf866" />
<path d="M955.8 87.6L967.9 127.6L979.7 167.6L991.2 207.5L1002.3 247.5L1013.1 287.5L1023.5 327.5L1033.6 367.4L1043.4 407.4L1052.9 447.4L1061.9 487.4L1070.7 527.4L1079.1 567.3L1087.2 607.3L1095.0 647.3L1129.0 647.3L1121.2 607.3L1113.1 567.3L1104.7 527.4L1095.9 487.4L1086.9 447.4L1077.4 407.4L1067.6 367.4L1057.5 327.5L1047.1 287.5L1036.3 247.5L1025.2 207.5L1013.7 167.6L1001.9 127.6L989.8 87.6Z" fill="#60fc50" />
<path d="M957.2 87.6L969.3 127.6L981.1 167.6L992.6 207.5L1003.7 247.5L1014.5 287.5L1024.9 327.5L1035.0 367.4L1044.8 407.4L1054.3 447.4L1063.3 487.4L1072.1 527.4L1080.5 567.3L1088.6 607.3L1096.4 647.3L1127.6 647.3L1119.8 607.3L1111.7 567.3L1103.3 527.4L1094.5 487.4L1085.5 447.4L1076.0 407.4L1066.2 367.4L1056.1 327.5L1045.7 287.5L1034.9 247.5L1023.8 207.5L1012.3 167.6L1000.5 127.6L988.4 87.6Z" fill="#a8ff28" />
<path d="M959.0 87.6L971.1 127.6L982.9 167.6L994.4 207.5L1005.5 247.5L1016.3 287.5L1026.7 327.5L1036.8 367.4L1046.6 407.4L1056.1 447.4L1065.1 487.4L1073.9 527.4L1082.3 567.3L1090.4 607.3L1098.2 647.3L1125.8 647.3L1118.0 607.3L1109.9 567.3L1101.5 527.4L1092.7 487.4L1083.7 447.4L1074.2 407.4L1064.4 367.4L1054.3 327.5L1043.9 287.5L1033.1 247.5L1022.0 207.5L1010.5 167.6L998.7 127.6L986.6 87.6Z" fill="#f4f000" />
<path d="M960.7 87.6L972.8 127.6L984.6 167.6L996.1 207.5L1007.2 247.5L1018.0 287.5L1028.4 327.5L1038.5 367.4L1048.3 407.4L1057.8 447.4L1066.8 487.4L1075.6 527.4L1084.0 567.3L1092.1 607.3L1099.9 647.3L1124.1 647.3L1116.3 607.3L1108.2 567.3L1099.8 527.4L1091.0 487.4L1082.0 447.4L1072.5 407.4L1062.7 367.4L1052.6 327.5L1042.2 287.5L1031.4 247.5L1020.3 207.5L1008.8 167.6L997.0 127.6L984.9 87.6Z" fill="#ff9800" />
<path d="M962.5 87.6L974.6 127.6L986.4 167.6L997.9 207.5L1009.0 247.5L1019.8 287.5L1030.2 327.5L1040.3 367.4L1050.1 407.4L1059.6 447.4L1068.6 487.4L1077.4 527.4L1085.8 567.3L1093.9 607.3L1101.7 647.3L1122.3 647.3L1114.5 607.3L1106.4 567.3L1098.0 527.4L1089.2 487.4L1080.2 447.4L1070.7 407.4L1060.9 367.4L1050.8 327.5L1040.4 287.5L1029.6 247.5L1018.5 207.5L1007.0 167.6L995.2 127.6L983.1 87.6Z" fill="#f23c16" />
<path d="M965.9 87.6L978.0 127.6L989.8 167.6L1001.3 207.5L1012.4 247.5L1023.2 287.5L1033.6 327.5L1043.7 367.4L1053.5 407.4L1063.0 447.4L1072.0 487.4L1080.8 527.4L1089.2 567.3L1097.3 607.3L1105.1 647.3L1118.9 647.3L1111.1 607.3L1103.0 567.3L1094.6 527.4L1085.8 487.4L1076.8 447.4L1067.3 407.4L1057.5 367.4L1047.4 327.5L1037.0 287.5L1026.2 247.5L1015.1 207.5L1003.6 167.6L991.8 127.6L979.7 87.6Z" fill="#ff665c" />
<path d="M967.2 87.6L979.3 127.6L991.1 167.6L1002.6 207.5L1013.7 247.5L1024.5 287.5L1034.9 327.5L1045.0 367.4L1054.8 407.4L1064.3 447.4L1073.3 487.4L1082.1 527.4L1090.5 567.3L1098.6 607.3L1106.4 647.3L1117.6 647.3L1109.8 607.3L1101.7 567.3L1093.3 527.4L1084.5 487.4L1075.5 447.4L1066.0 407.4L1056.2 367.4L1046.1 327.5L1035.7 287.5L1024.9 247.5L1013.8 207.5L1002.3 167.6L990.5 127.6L978.4 87.6Z" fill="#ff9a96" />
<path d="M968.8 87.6L980.9 127.6L992.7 167.6L1004.2 207.5L1015.3 247.5L1026.1 287.5L1036.5 327.5L1046.6 367.4L1056.4 407.4L1065.9 447.4L1074.9 487.4L1083.7 527.4L1092.1 567.3L1100.2 607.3L1108.0 647.3L1116.0 647.3L1108.2 607.3L1100.1 567.3L1091.7 527.4L1082.9 487.4L1073.9 447.4L1064.4 407.4L1054.6 367.4L1044.5 327.5L1034.1 287.5L1023.3 247.5L1012.2 207.5L1000.7 167.6L988.9 127.6L976.8 87.6Z" fill="#ffc2c2" />
<path d="M997.1 87.6L1009.1 127.6L1020.7 167.6L1032.1 207.5L1043.1 247.5L1053.7 287.5L1064.1 327.5L1074.1 367.4L1083.7 407.4L1093.1 447.4L1102.1 487.4L1110.8 527.4L1119.2 567.3L1127.2 607.3L1134.9 647.3L1168.9 647.3L1161.2 607.3L1153.2 567.3L1144.8 527.4L1136.1 487.4L1127.1 447.4L1117.7 407.4L1108.1 367.4L1098.1 327.5L1087.7 287.5L1077.1 247.5L1066.1 207.5L1054.7 167.6L1043.1 127.6L1031.1 87.6Z" fill="#60fc50" />
<path d="M998.5 87.6L1010.5 127.6L1022.1 167.6L1033.5 207.5L1044.5 247.5L1055.1 287.5L1065.5 327.5L1075.5 367.4L1085.1 407.4L1094.5 447.4L1103.5 487.4L1112.2 527.4L1120.6 567.3L1128.6 607.3L1136.3 647.3L1167.5 647.3L1159.8 607.3L1151.8 567.3L1143.4 527.4L1134.7 487.4L1125.7 447.4L1116.3 407.4L1106.7 367.4L1096.7 327.5L1086.3 287.5L1075.7 247.5L1064.7 207.5L1053.3 167.6L1041.7 127.6L1029.7 87.6Z" fill="#a8ff28" />
<path d="M1000.3 87.6L1012.3 127.6L1023.9 167.6L1035.3 207.5L1046.3 247.5L1056.9 287.5L1067.3 327.5L1077.3 367.4L1086.9 407.4L1096.3 447.4L1105.3 487.4L1114.0 527.4L1122.4 567.3L1130.4 607.3L1138.1 647.3L1165.7 647.3L1158.0 607.3L1150.0 567.3L1141.6 527.4L1132.9 487.4L1123.9 447.4L1114.5 407.4L1104.9 367.4L1094.9 327.5L1084.5 287.5L1073.9 247.5L1062.9 207.5L1051.5 167.6L1039.9 127.6L1027.9 87.6Z" fill="#f4f000" />
<path d="M1002.0 87.6L1014.0 127.6L1025.6 167.6L1037.0 207.5L1048.0 247.5L1058.6 287.5L1069.0 327.5L1079.0 367.4L1088.6 407.4L1098.0 447.4L1107.0 487.4L1115.7 527.4L1124.1 567.3L1132.1 607.3L1139.8 647.3L1164.0 647.3L1156.3 607.3L1148.3 567.3L1139.9 527.4L1131.2 487.4L1122.2 447.4L1112.8 407.4L1103.2 367.4L1093.2 327.5L1082.8 287.5L1072.2 247.5L1061.2 207.5L1049.8 167.6L1038.2 127.6L1026.2 87.6Z" fill="#ff9800" />
<path d="M1003.8 87.6L1015.8 127.6L1027.4 167.6L1038.8 207.5L1049.8 247.5L1060.4 287.5L1070.8 327.5L1080.8 367.4L1090.4 407.4L1099.8 447.4L1108.8 487.4L1117.5 527.4L1125.9 567.3L1133.9 607.3L1141.6 647.3L1162.2 647.3L1154.5 607.3L1146.5 567.3L1138.1 527.4L1129.4 487.4L1120.4 447.4L1111.0 407.4L1101.4 367.4L1091.4 327.5L1081.0 287.5L1070.4 247.5L1059.4 207.5L1048.0 167.6L1036.4 127.6L1024.4 87.6Z" fill="#f23c16" />
<path d="M1007.2 87.6L1019.2 127.6L1030.8 167.6L1042.2 207.5L1053.2 247.5L1063.8 287.5L1074.2 327.5L1084.2 367.4L1093.8 407.4L1103.2 447.4L1112.2 487.4L1120.9 527.4L1129.3 567.3L1137.3 607.3L1145.0 647.3L1158.8 647.3L1151.1 607.3L1143.1 567.3L1134.7 527.4L1126.0 487.4L1117.0 447.4L1107.6 407.4L1098.0 367.4L1088.0 327.5L1077.6 287.5L1067.0 247.5L1056.0 207.5L1044.6 167.6L1033.0 127.6L1021.0 87.6Z" fill="#ff665c" />
<path d="M1008.5 87.6L1020.5 127.6L1032.1 167.6L1043.5 207.5L1054.5 247.5L1065.1 287.5L1075.5 327.5L1085.5 367.4L1095.1 407.4L1104.5 447.4L1113.5 487.4L1122.2 527.4L1130.6 567.3L1138.6 607.3L1146.3 647.3L1157.5 647.3L1149.8 607.3L1141.8 567.3L1133.4 527.4L1124.7 487.4L1115.7 447.4L1106.3 407.4L1096.7 367.4L1086.7 327.5L1076.3 287.5L1065.7 247.5L1054.7 207.5L1043.3 167.6L1031.7 127.6L1019.7 87.6Z" fill="#ff9a96" />
<path d="M1010.1 87.6L1022.1 127.6L1033.7 167.6L1045.1 207.5L1056.1 247.5L1066.7 287.5L1077.1 327.5L1087.1 367.4L1096.7 407.4L1106.1 447.4L1115.1 487.4L1123.8 527.4L1132.2 567.3L1140.2 607.3L1147.9 647.3L1155.9 647.3L1148.2 607.3L1140.2 567.3L1131.8 527.4L1123.1 487.4L1114.1 447.4L1104.7 407.4L1095.1 367.4L1085.1 327.5L1074.7 287.5L1064.1 247.5L1053.1 207.5L1041.7 167.6L1030.1 127.6L1018.1 87.6Z" fill="#ffc2c2" />
<path d="M1038.5 87.6L1050.3 127.6L1061.8 167.6L1073.0 207.5L1083.8 247.5L1094.3 287.5L1104.6 327.5L1114.5 367.4L1124.1 407.4L1133.3 447.4L1142.3 487.4L1150.9 527.4L1159.3 567.3L1167.3 607.3L1174.9 647.3L1208.9 647.3L1201.3 607.3L1193.3 567.3L1184.9 527.4L1176.3 487.4L1167.3 447.4L1158.1 407.4L1148.5 367.4L1138.6 327.5L1128.3 287.5L1117.8 247.5L1107.0 207.5L1095.8 167.6L1084.3 127.6L1072.5 87.6Z" fill="#60fc50" />
<path d="M1039.9 87.6L1051.7 127.6L1063.2 167.6L1074.4 207.5L1085.2 247.5L1095.7 287.5L1106.0 327.5L1115.9 367.4L1125.5 407.4L1134.7 447.4L1143.7 487.4L1152.3 527.4L1160.7 567.3L1168.7 607.3L1176.3 647.3L1207.5 647.3L1199.9 607.3L1191.9 567.3L1183.5 527.4L1174.9 487.4L1165.9 447.4L1156.7 407.4L1147.1 367.4L1137.2 327.5L1126.9 287.5L1116.4 247.5L1105.6 207.5L1094.4 167.6L1082.9 127.6L1071.1 87.6Z" fill="#a8ff28" />
<path d="M1041.7 87.6L1053.5 127.6L1065.0 167.6L1076.2 207.5L1087.0 247.5L1097.5 287.5L1107.8 327.5L1117.7 367.4L1127.3 407.4L1136.5 447.4L1145.5 487.4L1154.1 527.4L1162.5 567.3L1170.5 607.3L1178.1 647.3L1205.7 647.3L1198.1 607.3L1190.1 567.3L1181.7 527.4L1173.1 487.4L1164.1 447.4L1154.9 407.4L1145.3 367.4L1135.4 327.5L1125.1 287.5L1114.6 247.5L1103.8 207.5L1092.6 167.6L1081.1 127.6L1069.3 87.6Z" fill="#f4f000" />
<path d="M1043.4 87.6L1055.2 127.6L1066.7 167.6L1077.9 207.5L1088.7 247.5L1099.2 287.5L1109.5 327.5L1119.4 367.4L1129.0 407.4L1138.2 447.4L1147.2 487.4L1155.8 527.4L1164.2 567.3L1172.2 607.3L1179.8 647.3L1204.0 647.3L1196.4 607.3L1188.4 567.3L1180.0 527.4L1171.4 487.4L1162.4 447.4L1153.2 407.4L1143.6 367.4L1133.7 327.5L1123.4 287.5L1112.9 247.5L1102.1 207.5L1090.9 167.6L1079.4 127.6L1067.6 87.6Z" fill="#ff9800" />
<path d="M1045.2 87.6L1057.0 127.6L1068.5 167.6L1079.7 207.5L1090.5 247.5L1101.0 287.5L1111.3 327.5L1121.2 367.4L1130.8 407.4L1140.0 447.4L1149.0 487.4L1157.6 527.4L1166.0 567.3L1174.0 607.3L1181.6 647.3L1202.2 647.3L1194.6 607.3L1186.6 567.3L1178.2 527.4L1169.6 487.4L1160.6 447.4L1151.4 407.4L1141.8 367.4L1131.9 327.5L1121.6 287.5L1111.1 247.5L1100.3 207.5L1089.1 167.6L1077.6 127.6L1065.8 87.6Z" fill="#f23c16" />
<path d="M1048.6 87.6L1060.4 127.6L1071.9 167.6L1083.1 207.5L1093.9 247.5L1104.4 287.5L1114.7 327.5L1124.6 367.4L1134.2 407.4L1143.4 447.4L1152.4 487.4L1161.0 527.4L1169.4 567.3L1177.4 607.3L1185.0 647.3L1198.8 647.3L1191.2 607.3L1183.2 567.3L1174.8 527.4L1166.2 487.4L1157.2 447.4L1148.0 407.4L1138.4 367.4L1128.5 327.5L1118.2 287.5L1107.7 247.5L1096.9 207.5L1085.7 167.6L1074.2 127.6L1062.4 87.6Z" fill="#ff665c" />
<path d="M1049.9 87.6L1061.7 127.6L1073.2 167.6L1084.4 207.5L1095.2 247.5L1105.7 287.5L1116.0 327.5L1125.9 367.4L1135.5 407.4L1144.7 447.4L1153.7 487.4L1162.3 527.4L1170.7 567.3L1178.7 607.3L1186.3 647.3L1197.5 647.3L1189.9 607.3L1181.9 567.3L1173.5 527.4L1164.9 487.4L1155.9 447.4L1146.7 407.4L1137.1 367.4L1127.2 327.5L1116.9 287.5L1106.4 247.5L1095.6 207.5L1084.4 167.6L1072.9 127.6L1061.1 87.6Z" fill="#ff9a96" />
<path d="M1051.5 87.6L1063.3 127.6L1074.8 167.6L1086.0 207.5L1096.8 247.5L1107.3 287.5L1117.6 327.5L1127.5 367.4L1137.1 407.4L1146.3 447.4L1155.3 487.4L1163.9 527.4L1172.3 567.3L1180.3 607.3L1187.9 647.3L1195.9 647.3L1188.3 607.3L1180.3 567.3L1171.9 527.4L1163.3 487.4L1154.3 447.4L1145.1 407.4L1135.5 367.4L1125.6 327.5L1115.3 287.5L1104.8 247.5L1094.0 207.5L1082.8 167.6L1071.3 127.6L1059.5 87.6Z" fill="#ffc2c2" />
<path d="M1079.8 87.6L1091.5 127.6L1102.8 167.6L1113.8 207.5L1124.6 247.5L1135.0 287.5L1145.1 327.5L1154.9 367.4L1164.4 407.4L1173.6 447.4L1182.5 487.4L1191.0 527.4L1199.3 567.3L1207.3 607.3L1214.9 647.3L1248.9 647.3L1241.3 607.3L1233.3 567.3L1225.0 527.4L1216.5 487.4L1207.6 447.4L1198.4 407.4L1188.9 367.4L1179.1 327.5L1169.0 287.5L1158.6 247.5L1147.8 207.5L1136.8 167.6L1125.5 127.6L1113.8 87.6Z" fill="#60fc50" />
<path d="M1081.2 87.6L1092.9 127.6L1104.2 167.6L1115.2 207.5L1126.0 247.5L1136.4 287.5L1146.5 327.5L1156.3 367.4L1165.8 407.4L1175.0 447.4L1183.9 487.4L1192.4 527.4L1200.7 567.3L1208.7 607.3L1216.3 647.3L1247.5 647.3L1239.9 607.3L1231.9 567.3L1223.6 527.4L1215.1 487.4L1206.2 447.4L1197.0 407.4L1187.5 367.4L1177.7 327.5L1167.6 287.5L1157.2 247.5L1146.4 207.5L1135.4 167.6L1124.1 127.6L1112.4 87.6Z" fill="#a8ff28" />
<path d="M1083.0 87.6L1094.7 127.6L1106.0 167.6L1117.0 207.5L1127.8 247.5L1138.2 287.5L1148.3 327.5L1158.1 367.4L1167.6 407.4L1176.8 447.4L1185.7 487.4L1194.2 527.4L1202.5 567.3L1210.5 607.3L1218.1 647.3L1245.7 647.3L1238.1 607.3L1230.1 567.3L1221.8 527.4L1213.3 487.4L1204.4 447.4L1195.2 407.4L1185.7 367.4L1175.9 327.5L1165.8 287.5L1155.4 247.5L1144.6 207.5L1133.6 167.6L1122.3 127.6L1110.6 87.6Z" fill="#f4f000" />
<path d="M1084.7 87.6L1096.4 127.6L1107.7 167.6L1118.7 207.5L1129.5 247.5L1139.9 287.5L1150.0 327.5L1159.8 367.4L1169.3 407.4L1178.5 447.4L1187.4 487.4L1195.9 527.4L1204.2 567.3L1212.2 607.3L1219.8 647.3L1244.0 647.3L1236.4 607.3L1228.4 567.3L1220.1 527.4L1211.6 487.4L1202.7 447.4L1193.5 407.4L1184.0 367.4L1174.2 327.5L1164.1 287.5L1153.7 247.5L1142.9 207.5L1131.9 167.6L1120.6 127.6L1108.9 87.6Z" fill="#ff9800" />
<path d="M1086.5 87.6L1098.2 127.6L1109.5 167.6L1120.5 207.5L1131.3 247.5L1141.7 287.5L1151.8 327.5L1161.6 367.4L1171.1 407.4L1180.3 447.4L1189.2 487.4L1197.7 527.4L1206.0 567.3L1214.0 607.3L1221.6 647.3L1242.2 647.3L1234.6 607.3L1226.6 567.3L1218.3 527.4L1209.8 487.4L1200.9 447.4L1191.7 407.4L1182.2 367.4L1172.4 327.5L1162.3 287.5L1151.9 247.5L1141.1 207.5L1130.1 167.6L1118.8 127.6L1107.1 87.6Z" fill="#f23c16" />
<path d="M1089.9 87.6L1101.6 127.6L1112.9 167.6L1123.9 207.5L1134.7 247.5L1145.1 287.5L1155.2 327.5L1165.0 367.4L1174.5 407.4L1183.7 447.4L1192.6 487.4L1201.1 527.4L1209.4 567.3L1217.4 607.3L1225.0 647.3L1238.8 647.3L1231.2 607.3L1223.2 567.3L1214.9 527.4L1206.4 487.4L1197.5 447.4L1188.3 407.4L1178.8 367.4L1169.0 327.5L1158.9 287.5L1148.5 247.5L1137.7 207.5L1126.7 167.6L1115.4 127.6L1103.7 87.6Z" fill="#ff665c" />
<path d="M1091.2 87.6L1102.9 127.6L1114.2 167.6L1125.2 207.5L1136.0 247.5L1146.4 287.5L1156.5 327.5L1166.3 367.4L1175.8 407.4L1185.0 447.4L1193.9 487.4L1202.4 527.4L1210.7 567.3L1218.7 607.3L1226.3 647.3L1237.5 647.3L1229.9 607.3L1221.9 567.3L1213.6 527.4L1205.1 487.4L1196.2 447.4L1187.0 407.4L1177.5 367.4L1167.7 327.5L1157.6 287.5L1147.2 247.5L1136.4 207.5L1125.4 167.6L1114.1 127.6L1102.4 87.6Z" fill="#ff9a96" />
<path d="M1092.8 87.6L1104.5 127.6L1115.8 167.6L1126.8 207.5L1137.6 247.5L1148.0 287.5L1158.1 327.5L1167.9 367.4L1177.4 407.4L1186.6 447.4L1195.5 487.4L1204.0 527.4L1212.3 567.3L1220.3 607.3L1227.9 647.3L1235.9 647.3L1228.3 607.3L1220.3 567.3L1212.0 527.4L1203.5 487.4L1194.6 447.4L1185.4 407.4L1175.9 367.4L1166.1 327.5L1156.0 287.5L1145.6 247.5L1134.8 207.5L1123.8 167.6L1112.5 127.6L1100.8 87.6Z" fill="#ffc2c2" />
<path d="M1121.2 87.6L1132.7 127.6L1143.8 167.6L1154.7 207.5L1165.3 247.5L1175.6 287.5L1185.6 327.5L1195.3 367.4L1204.7 407.4L1213.8 447.4L1222.6 487.4L1231.1 527.4L1239.4 567.3L1247.3 607.3L1254.9 647.3L1288.9 647.3L1281.3 607.3L1273.4 567.3L1265.1 527.4L1256.6 487.4L1247.8 447.4L1238.7 407.4L1229.3 367.4L1219.6 327.5L1209.6 287.5L1199.3 247.5L1188.7 207.5L1177.8 167.6L1166.7 127.6L1155.2 87.6Z" fill="#60fc50" />
<path d="M1122.6 87.6L1134.1 127.6L1145.2 167.6L1156.1 207.5L1166.7 247.5L1177.0 287.5L1187.0 327.5L1196.7 367.4L1206.1 407.4L1215.2 447.4L1224.0 487.4L1232.5 527.4L1240.8 567.3L1248.7 607.3L1256.3 647.3L1287.5 647.3L1279.9 607.3L1272.0 567.3L1263.7 527.4L1255.2 487.4L1246.4 447.4L1237.3 407.4L1227.9 367.4L1218.2 327.5L1208.2 287.5L1197.9 247.5L1187.3 207.5L1176.4 167.6L1165.3 127.6L1153.8 87.6Z" fill="#a8ff28" />
<path d="M1124.4 87.6L1135.9 127.6L1147.0 167.6L1157.9 207.5L1168.5 247.5L1178.8 287.5L1188.8 327.5L1198.5 367.4L1207.9 407.4L1217.0 447.4L1225.8 487.4L1234.3 527.4L1242.6 567.3L1250.5 607.3L1258.1 647.3L1285.7 647.3L1278.1 607.3L1270.2 567.3L1261.9 527.4L1253.4 487.4L1244.6 447.4L1235.5 407.4L1226.1 367.4L1216.4 327.5L1206.4 287.5L1196.1 247.5L1185.5 207.5L1174.6 167.6L1163.5 127.6L1152.0 87.6Z" fill="#f4f000" />
<path d="M1126.1 87.6L1137.6 127.6L1148.7 167.6L1159.6 207.5L1170.2 247.5L1180.5 287.5L1190.5 327.5L1200.2 367.4L1209.6 407.4L1218.7 447.4L1227.5 487.4L1236.0 527.4L1244.3 567.3L1252.2 607.3L1259.8 647.3L1284.0 647.3L1276.4 607.3L1268.5 567.3L1260.2 527.4L1251.7 487.4L1242.9 447.4L1233.8 407.4L1224.4 367.4L1214.7 327.5L1204.7 287.5L1194.4 247.5L1183.8 207.5L1172.9 167.6L1161.8 127.6L1150.3 87.6Z" fill="#ff9800" />
<path d="M1127.9 87.6L1139.4 127.6L1150.5 167.6L1161.4 207.5L1172.0 247.5L1182.3 287.5L1192.3 327.5L1202.0 367.4L1211.4 407.4L1220.5 447.4L1229.3 487.4L1237.8 527.4L1246.1 567.3L1254.0 607.3L1261.6 647.3L1282.2 647.3L1274.6 607.3L1266.7 567.3L1258.4 527.4L1249.9 487.4L1241.1 447.4L1232.0 407.4L1222.6 367.4L1212.9 327.5L1202.9 287.5L1192.6 247.5L1182.0 207.5L1171.1 167.6L1160.0 127.6L1148.5 87.6Z" fill="#f23c16" />
<path d="M1131.3 87.6L1142.8 127.6L1153.9 167.6L1164.8 207.5L1175.4 247.5L1185.7 287.5L1195.7 327.5L1205.4 367.4L1214.8 407.4L1223.9 447.4L1232.7 487.4L1241.2 527.4L1249.5 567.3L1257.4 607.3L1265.0 647.3L1278.8 647.3L1271.2 607.3L1263.3 567.3L1255.0 527.4L1246.5 487.4L1237.7 447.4L1228.6 407.4L1219.2 367.4L1209.5 327.5L1199.5 287.5L1189.2 247.5L1178.6 207.5L1167.7 167.6L1156.6 127.6L1145.1 87.6Z" fill="#ff665c" />
<path d="M1132.6 87.6L1144.1 127.6L1155.2 167.6L1166.1 207.5L1176.7 247.5L1187.0 287.5L1197.0 327.5L1206.7 367.4L1216.1 407.4L1225.2 447.4L1234.0 487.4L1242.5 527.4L1250.8 567.3L1258.7 607.3L1266.3 647.3L1277.5 647.3L1269.9 607.3L1262.0 567.3L1253.7 527.4L1245.2 487.4L1236.4 447.4L1227.3 407.4L1217.9 367.4L1208.2 327.5L1198.2 287.5L1187.9 247.5L1177.3 207.5L1166.4 167.6L1155.3 127.6L1143.8 87.6Z" fill="#ff9a96" />
<path d="M1134.2 87.6L1145.7 127.6L1156.8 167.6L1167.7 207.5L1178.3 247.5L1188.6 287.5L1198.6 327.5L1208.3 367.4L1217.7 407.4L1226.8 447.4L1235.6 487.4L1244.1 527.4L1252.4 567.3L1260.3 607.3L1267.9 647.3L1275.9 647.3L1268.3 607.3L1260.4 567.3L1252.1 527.4L1243.6 487.4L1234.8 447.4L1225.7 407.4L1216.3 367.4L1206.6 327.5L1196.6 287.5L1186.3 247.5L1175.7 207.5L1164.8 167.6L1153.7 127.6L1142.2 87.6Z" fill="#ffc2c2" />
<path d="M1162.6 87.6L1173.9 127.6L1184.9 167.6L1195.6 207.5L1206.1 247.5L1216.2 287.5L1226.1 327.5L1235.7 367.4L1245.0 407.4L1254.1 447.4L1262.8 487.4L1271.3 527.4L1279.4 567.3L1287.3 607.3L1294.9 647.3L1328.9 647.3L1321.3 607.3L1313.4 567.3L1305.3 527.4L1296.8 487.4L1288.1 447.4L1279.0 407.4L1269.7 367.4L1260.1 327.5L1250.2 287.5L1240.1 247.5L1229.6 207.5L1218.9 167.6L1207.9 127.6L1196.6 87.6Z" fill="#60fc50" />
<path d="M1164.0 87.6L1175.3 127.6L1186.3 167.6L1197.0 207.5L1207.5 247.5L1217.6 287.5L1227.5 327.5L1237.1 367.4L1246.4 407.4L1255.5 447.4L1264.2 487.4L1272.7 527.4L1280.8 567.3L1288.7 607.3L1296.3 647.3L1327.5 647.3L1319.9 607.3L1312.0 567.3L1303.9 527.4L1295.4 487.4L1286.7 447.4L1277.6 407.4L1268.3 367.4L1258.7 327.5L1248.8 287.5L1238.7 247.5L1228.2 207.5L1217.5 167.6L1206.5 127.6L1195.2 87.6Z" fill="#a8ff28" />
<path d="M1165.8 87.6L1177.1 127.6L1188.1 167.6L1198.8 207.5L1209.3 247.5L1219.4 287.5L1229.3 327.5L1238.9 367.4L1248.2 407.4L1257.3 447.4L1266.0 487.4L1274.5 527.4L1282.6 567.3L1290.5 607.3L1298.1 647.3L1325.7 647.3L1318.1 607.3L1310.2 567.3L1302.1 527.4L1293.6 487.4L1284.9 447.4L1275.8 407.4L1266.5 367.4L1256.9 327.5L1247.0 287.5L1236.9 247.5L1226.4 207.5L1215.7 167.6L1204.7 127.6L1193.4 87.6Z" fill="#f4f000" />
<path d="M1167.5 87.6L1178.8 127.6L1189.8 167.6L1200.5 207.5L1211.0 247.5L1221.1 287.5L1231.0 327.5L1240.6 367.4L1249.9 407.4L1259.0 447.4L1267.7 487.4L1276.2 527.4L1284.3 567.3L1292.2 607.3L1299.8 647.3L1324.0 647.3L1316.4 607.3L1308.5 567.3L1300.4 527.4L1291.9 487.4L1283.2 447.4L1274.1 407.4L1264.8 367.4L1255.2 327.5L1245.3 287.5L1235.2 247.5L1224.7 207.5L1214.0 167.6L1203.0 127.6L1191.7 87.6Z" fill="#ff9800" />
<path d="M1169.3 87.6L1180.6 127.6L1191.6 167.6L1202.3 207.5L1212.8 247.5L1222.9 287.5L1232.8 327.5L1242.4 367.4L1251.7 407.4L1260.8 447.4L1269.5 487.4L1278.0 527.4L1286.1 567.3L1294.0 607.3L1301.6 647.3L1322.2 647.3L1314.6 607.3L1306.7 567.3L1298.6 527.4L1290.1 487.4L1281.4 447.4L1272.3 407.4L1263.0 367.4L1253.4 327.5L1243.5 287.5L1233.4 247.5L1222.9 207.5L1212.2 167.6L1201.2 127.6L1189.9 87.6Z" fill="#f23c16" />
<path d="M1172.7 87.6L1184.0 127.6L1195.0 167.6L1205.7 207.5L1216.2 247.5L1226.3 287.5L1236.2 327.5L1245.8 367.4L1255.1 407.4L1264.2 447.4L1272.9 487.4L1281.4 527.4L1289.5 567.3L1297.4 607.3L1305.0 647.3L1318.8 647.3L1311.2 607.3L1303.3 567.3L1295.2 527.4L1286.7 487.4L1278.0 447.4L1268.9 407.4L1259.6 367.4L1250.0 327.5L1240.1 287.5L1230.0 247.5L1219.5 207.5L1208.8 167.6L1197.8 127.6L1186.5 87.6Z" fill="#ff665c" />
<path d="M1174.0 87.6L1185.3 127.6L1196.3 167.6L1207.0 207.5L1217.5 247.5L1227.6 287.5L1237.5 327.5L1247.1 367.4L1256.4 407.4L1265.5 447.4L1274.2 487.4L1282.7 527.4L1290.8 567.3L1298.7 607.3L1306.3 647.3L1317.5 647.3L1309.9 607.3L1302.0 567.3L1293.9 527.4L1285.4 487.4L1276.7 447.4L1267.6 407.4L1258.3 367.4L1248.7 327.5L1238.8 287.5L1228.7 247.5L1218.2 207.5L1207.5 167.6L1196.5 127.6L1185.2 87.6Z" fill="#ff9a96" />
<path d="M1175.6 87.6L1186.9 127.6L1197.9 167.6L1208.6 207.5L1219.1 247.5L1229.2 287.5L1239.1 327.5L1248.7 367.4L1258.0 407.4L1267.1 447.4L1275.8 487.4L1284.3 527.4L1292.4 567.3L1300.3 607.3L1307.9 647.3L1315.9 647.3L1308.3 607.3L1300.4 567.3L1292.3 527.4L1283.8 487.4L1275.1 447.4L1266.0 407.4L1256.7 367.4L1247.1 327.5L1237.2 287.5L1227.1 247.5L1216.6 207.5L1205.9 167.6L1194.9 127.6L1183.6 87.6Z" fill="#ffc2c2" />
<path d="M1204.9 87.6L1216.0 127.6L1226.9 167.6L1237.5 207.5L1247.8 247.5L1257.9 287.5L1267.6 327.5L1277.1 367.4L1286.3 407.4L1295.3 447.4L1304.0 487.4L1312.4 527.4L1320.5 567.3L1328.4 607.3L1335.9 647.3L1367.9 647.3L1360.4 607.3L1352.5 567.3L1344.4 527.4L1336.0 487.4L1327.3 447.4L1318.3 407.4L1309.1 367.4L1299.6 327.5L1289.9 287.5L1279.8 247.5L1269.5 207.5L1258.9 167.6L1248.0 127.6L1236.9 87.6Z" fill="#60fc50" />
<path d="M1206.3 87.6L1217.4 127.6L1228.3 167.6L1238.9 207.5L1249.2 247.5L1259.3 287.5L1269.0 327.5L1278.5 367.4L1287.7 407.4L1296.7 447.4L1305.4 487.4L1313.8 527.4L1321.9 567.3L1329.8 607.3L1337.3 647.3L1366.5 647.3L1359.0 607.3L1351.1 567.3L1343.0 527.4L1334.6 487.4L1325.9 447.4L1316.9 407.4L1307.7 367.4L1298.2 327.5L1288.5 287.5L1278.4 247.5L1268.1 207.5L1257.5 167.6L1246.6 127.6L1235.5 87.6Z" fill="#a8ff28" />
<path d="M1208.0 87.6L1219.1 127.6L1230.0 167.6L1240.6 207.5L1250.9 247.5L1261.0 287.5L1270.7 327.5L1280.2 367.4L1289.4 407.4L1298.4 447.4L1307.1 487.4L1315.5 527.4L1323.6 567.3L1331.5 607.3L1339.0 647.3L1364.8 647.3L1357.3 607.3L1349.4 567.3L1341.3 527.4L1332.9 487.4L1324.2 447.4L1315.2 407.4L1306.0 367.4L1296.5 327.5L1286.8 287.5L1276.7 247.5L1266.4 207.5L1255.8 167.6L1244.9 127.6L1233.8 87.6Z" fill="#f4f000" />
<path d="M1209.6 87.6L1220.7 127.6L1231.6 167.6L1242.2 207.5L1252.5 247.5L1262.6 287.5L1272.3 327.5L1281.8 367.4L1291.0 407.4L1300.0 447.4L1308.7 487.4L1317.1 527.4L1325.2 567.3L1333.1 607.3L1340.6 647.3L1363.2 647.3L1355.7 607.3L1347.8 567.3L1339.7 527.4L1331.3 487.4L1322.6 447.4L1313.6 407.4L1304.4 367.4L1294.9 327.5L1285.2 287.5L1275.1 247.5L1264.8 207.5L1254.2 167.6L1243.3 127.6L1232.2 87.6Z" fill="#ff9800" />
<path d="M1211.3 87.6L1222.4 127.6L1233.3 167.6L1243.9 207.5L1254.2 247.5L1264.3 287.5L1274.0 327.5L1283.5 367.4L1292.7 407.4L1301.7 447.4L1310.4 487.4L1318.8 527.4L1326.9 567.3L1334.8 607.3L1342.3 647.3L1361.5 647.3L1354.0 607.3L1346.1 567.3L1338.0 527.4L1329.6 487.4L1320.9 447.4L1311.9 407.4L1302.7 367.4L1293.2 327.5L1283.5 287.5L1273.4 247.5L1263.1 207.5L1252.5 167.6L1241.6 127.6L1230.5 87.6Z" fill="#f23c16" />
<path d="M1215.1 87.6L1226.2 127.6L1237.1 167.6L1247.7 207.5L1258.0 247.5L1268.1 287.5L1277.8 327.5L1287.3 367.4L1296.5 407.4L1305.5 447.4L1314.2 487.4L1322.6 527.4L1330.7 567.3L1338.6 607.3L1346.1 647.3L1357.7 647.3L1350.2 607.3L1342.3 567.3L1334.2 527.4L1325.8 487.4L1317.1 447.4L1308.1 407.4L1298.9 367.4L1289.4 327.5L1279.7 287.5L1269.6 247.5L1259.3 207.5L1248.7 167.6L1237.8 127.6L1226.7 87.6Z" fill="#ff665c" />
<path d="M1216.5 87.6L1227.6 127.6L1238.5 167.6L1249.1 207.5L1259.4 247.5L1269.5 287.5L1279.2 327.5L1288.7 367.4L1297.9 407.4L1306.9 447.4L1315.6 487.4L1324.0 527.4L1332.1 567.3L1340.0 607.3L1347.5 647.3L1356.3 647.3L1348.8 607.3L1340.9 567.3L1332.8 527.4L1324.4 487.4L1315.7 447.4L1306.7 407.4L1297.5 367.4L1288.0 327.5L1278.3 287.5L1268.2 247.5L1257.9 207.5L1247.3 167.6L1236.4 127.6L1225.3 87.6Z" fill="#ff8e88" />
<path d="M1218.1 87.6L1229.2 127.6L1240.1 167.6L1250.7 207.5L1261.0 247.5L1271.1 287.5L1280.8 327.5L1290.3 367.4L1299.5 407.4L1308.5 447.4L1317.2 487.4L1325.6 527.4L1333.7 567.3L1341.6 607.3L1349.1 647.3L1354.7 647.3L1347.2 607.3L1339.3 567.3L1331.2 527.4L1322.8 487.4L1314.1 447.4L1305.1 407.4L1295.9 367.4L1286.4 327.5L1276.7 287.5L1266.6 247.5L1256.3 207.5L1245.7 167.6L1234.8 127.6L1223.7 87.6Z" fill="#ffb0ac" />
</g>
<g fill="#fff" filter="url(#blurB)">
<ellipse cx="974.6" cy="98.5" rx="2.6" ry="2.8" transform="rotate(-14 974.6 98.5)" fill-opacity="0.59"/>
<ellipse cx="977.3" cy="108.8" rx="2.4" ry="2.6" transform="rotate(-14 977.3 108.8)" fill-opacity="0.55"/>
<ellipse cx="979.8" cy="116.4" rx="2.3" ry="5.4" transform="rotate(-14 979.8 116.4)" fill-opacity="0.41"/>
<ellipse cx="984.8" cy="125.4" rx="2.9" ry="4.5" transform="rotate(-14 984.8 125.4)" fill-opacity="0.53"/>
<ellipse cx="987.0" cy="141.2" rx="2.8" ry="3.5" transform="rotate(-14 987.0 141.2)" fill-opacity="0.41"/>
<ellipse cx="990.5" cy="149.3" rx="2.8" ry="3.1" transform="rotate(-14 990.5 149.3)" fill-opacity="0.61"/>
<ellipse cx="994.5" cy="162.0" rx="2.5" ry="2.7" transform="rotate(-14 994.5 162.0)" fill-opacity="0.38"/>
<ellipse cx="998.5" cy="170.9" rx="2.3" ry="3.6" transform="rotate(-14 998.5 170.9)" fill-opacity="0.61"/>
<ellipse cx="1000.0" cy="182.0" rx="2.8" ry="4.9" transform="rotate(-14 1000.0 182.0)" fill-opacity="0.46"/>
<ellipse cx="1004.5" cy="194.1" rx="2.9" ry="5.1" transform="rotate(-14 1004.5 194.1)" fill-opacity="0.48"/>
<ellipse cx="1007.2" cy="210.0" rx="2.3" ry="5.1" transform="rotate(-14 1007.2 210.0)" fill-opacity="0.42"/>
<ellipse cx="1010.0" cy="221.4" rx="2.6" ry="5.2" transform="rotate(-14 1010.0 221.4)" fill-opacity="0.61"/>
<ellipse cx="1015.4" cy="236.2" rx="2.6" ry="4.6" transform="rotate(-14 1015.4 236.2)" fill-opacity="0.61"/>
<ellipse cx="1020.8" cy="247.3" rx="2.9" ry="4.2" transform="rotate(-14 1020.8 247.3)" fill-opacity="0.65"/>
<ellipse cx="1022.2" cy="254.9" rx="2.6" ry="6.0" transform="rotate(-14 1022.2 254.9)" fill-opacity="0.72"/>
<ellipse cx="1023.4" cy="264.5" rx="2.6" ry="2.6" transform="rotate(-14 1023.4 264.5)" fill-opacity="0.56"/>
<ellipse cx="1024.5" cy="273.0" rx="1.9" ry="5.2" transform="rotate(-14 1024.5 273.0)" fill-opacity="0.41"/>
<ellipse cx="1028.2" cy="282.2" rx="2.8" ry="2.8" transform="rotate(-14 1028.2 282.2)" fill-opacity="0.55"/>
<ellipse cx="1033.5" cy="294.1" rx="2.8" ry="5.5" transform="rotate(-14 1033.5 294.1)" fill-opacity="0.48"/>
<ellipse cx="1034.1" cy="304.9" rx="2.9" ry="5.9" transform="rotate(-14 1034.1 304.9)" fill-opacity="0.42"/>
<ellipse cx="1035.7" cy="313.5" rx="2.1" ry="4.2" transform="rotate(-14 1035.7 313.5)" fill-opacity="0.62"/>
<ellipse cx="1037.2" cy="322.8" rx="2.3" ry="3.8" transform="rotate(-14 1037.2 322.8)" fill-opacity="0.60"/>
<ellipse cx="1044.2" cy="338.4" rx="2.4" ry="4.7" transform="rotate(-14 1044.2 338.4)" fill-opacity="0.65"/>
<ellipse cx="1047.0" cy="345.9" rx="2.7" ry="5.6" transform="rotate(-14 1047.0 345.9)" fill-opacity="0.71"/>
<ellipse cx="1047.4" cy="356.4" rx="1.9" ry="4.7" transform="rotate(-14 1047.4 356.4)" fill-opacity="0.38"/>
<ellipse cx="1048.5" cy="364.0" rx="2.0" ry="3.7" transform="rotate(-14 1048.5 364.0)" fill-opacity="0.37"/>
<ellipse cx="1050.0" cy="371.0" rx="1.9" ry="3.8" transform="rotate(-14 1050.0 371.0)" fill-opacity="0.36"/>
<ellipse cx="1055.7" cy="385.9" rx="2.0" ry="3.4" transform="rotate(-14 1055.7 385.9)" fill-opacity="0.51"/>
<ellipse cx="1056.0" cy="396.2" rx="2.8" ry="6.0" transform="rotate(-14 1056.0 396.2)" fill-opacity="0.56"/>
<ellipse cx="1058.6" cy="407.5" rx="1.9" ry="3.7" transform="rotate(-14 1058.6 407.5)" fill-opacity="0.47"/>
<ellipse cx="1062.4" cy="422.0" rx="1.8" ry="5.8" transform="rotate(-14 1062.4 422.0)" fill-opacity="0.59"/>
<ellipse cx="1066.1" cy="430.3" rx="1.8" ry="4.3" transform="rotate(-14 1066.1 430.3)" fill-opacity="0.79"/>
<ellipse cx="1070.2" cy="445.1" rx="2.1" ry="3.8" transform="rotate(-14 1070.2 445.1)" fill-opacity="0.43"/>
<ellipse cx="1072.7" cy="459.0" rx="2.7" ry="3.7" transform="rotate(-14 1072.7 459.0)" fill-opacity="0.45"/>
<ellipse cx="1077.9" cy="473.3" rx="2.8" ry="5.3" transform="rotate(-14 1077.9 473.3)" fill-opacity="0.72"/>
<ellipse cx="1077.7" cy="487.0" rx="2.4" ry="3.7" transform="rotate(-14 1077.7 487.0)" fill-opacity="0.36"/>
<ellipse cx="1079.5" cy="494.2" rx="2.1" ry="4.9" transform="rotate(-14 1079.5 494.2)" fill-opacity="0.78"/>
<ellipse cx="1084.8" cy="505.3" rx="3.0" ry="5.8" transform="rotate(-14 1084.8 505.3)" fill-opacity="0.51"/>
<ellipse cx="1083.7" cy="514.3" rx="2.0" ry="3.2" transform="rotate(-14 1083.7 514.3)" fill-opacity="0.63"/>
<ellipse cx="1089.6" cy="529.4" rx="2.4" ry="4.8" transform="rotate(-14 1089.6 529.4)" fill-opacity="0.71"/>
<ellipse cx="1090.5" cy="537.1" rx="2.9" ry="5.2" transform="rotate(-14 1090.5 537.1)" fill-opacity="0.69"/>
<ellipse cx="1090.8" cy="548.4" rx="2.7" ry="3.7" transform="rotate(-14 1090.8 548.4)" fill-opacity="0.71"/>
<ellipse cx="1095.0" cy="564.2" rx="2.3" ry="5.8" transform="rotate(-14 1095.0 564.2)" fill-opacity="0.68"/>
<ellipse cx="1095.6" cy="572.7" rx="2.0" ry="5.7" transform="rotate(-14 1095.6 572.7)" fill-opacity="0.71"/>
<ellipse cx="1100.4" cy="581.0" rx="3.0" ry="4.8" transform="rotate(-14 1100.4 581.0)" fill-opacity="0.51"/>
<ellipse cx="1099.7" cy="593.0" rx="1.8" ry="5.9" transform="rotate(-14 1099.7 593.0)" fill-opacity="0.64"/>
<ellipse cx="1105.6" cy="604.7" rx="2.3" ry="5.6" transform="rotate(-14 1105.6 604.7)" fill-opacity="0.72"/>
<ellipse cx="1104.4" cy="613.6" rx="2.2" ry="3.3" transform="rotate(-14 1104.4 613.6)" fill-opacity="0.61"/>
<ellipse cx="1106.9" cy="622.9" rx="2.0" ry="5.7" transform="rotate(-14 1106.9 622.9)" fill-opacity="0.51"/>
<ellipse cx="1109.8" cy="634.0" rx="2.9" ry="4.0" transform="rotate(-14 1109.8 634.0)" fill-opacity="0.76"/>
<ellipse cx="1111.8" cy="645.6" rx="2.4" ry="2.6" transform="rotate(-14 1111.8 645.6)" fill-opacity="0.55"/>
<ellipse cx="1111.1" cy="654.2" rx="2.8" ry="3.1" transform="rotate(-14 1111.1 654.2)" fill-opacity="0.56"/>
<ellipse cx="1018.8" cy="102.1" rx="2.2" ry="4.3" transform="rotate(-14 1018.8 102.1)" fill-opacity="0.60"/>
<ellipse cx="1021.0" cy="116.2" rx="2.5" ry="3.4" transform="rotate(-14 1021.0 116.2)" fill-opacity="0.47"/>
<ellipse cx="1026.9" cy="130.1" rx="2.5" ry="5.2" transform="rotate(-14 1026.9 130.1)" fill-opacity="0.76"/>
<ellipse cx="1030.6" cy="141.1" rx="2.4" ry="4.3" transform="rotate(-14 1030.6 141.1)" fill-opacity="0.66"/>
<ellipse cx="1033.5" cy="152.2" rx="2.4" ry="5.8" transform="rotate(-14 1033.5 152.2)" fill-opacity="0.66"/>
<ellipse cx="1039.6" cy="167.1" rx="2.1" ry="4.5" transform="rotate(-14 1039.6 167.1)" fill-opacity="0.77"/>
<ellipse cx="1040.2" cy="181.6" rx="1.9" ry="4.0" transform="rotate(-14 1040.2 181.6)" fill-opacity="0.38"/>
<ellipse cx="1042.5" cy="190.8" rx="2.6" ry="5.2" transform="rotate(-14 1042.5 190.8)" fill-opacity="0.75"/>
<ellipse cx="1047.7" cy="199.2" rx="2.6" ry="3.0" transform="rotate(-14 1047.7 199.2)" fill-opacity="0.75"/>
<ellipse cx="1049.9" cy="214.9" rx="2.9" ry="3.9" transform="rotate(-14 1049.9 214.9)" fill-opacity="0.57"/>
<ellipse cx="1057.0" cy="230.8" rx="2.0" ry="4.0" transform="rotate(-14 1057.0 230.8)" fill-opacity="0.58"/>
<ellipse cx="1056.9" cy="240.9" rx="2.2" ry="5.0" transform="rotate(-14 1056.9 240.9)" fill-opacity="0.36"/>
<ellipse cx="1061.2" cy="252.9" rx="1.8" ry="3.7" transform="rotate(-14 1061.2 252.9)" fill-opacity="0.63"/>
<ellipse cx="1062.7" cy="264.5" rx="3.0" ry="5.3" transform="rotate(-14 1062.7 264.5)" fill-opacity="0.79"/>
<ellipse cx="1065.7" cy="272.4" rx="1.8" ry="5.2" transform="rotate(-14 1065.7 272.4)" fill-opacity="0.47"/>
<ellipse cx="1068.6" cy="280.6" rx="2.9" ry="5.4" transform="rotate(-14 1068.6 280.6)" fill-opacity="0.47"/>
<ellipse cx="1072.9" cy="288.9" rx="2.5" ry="5.0" transform="rotate(-14 1072.9 288.9)" fill-opacity="0.39"/>
<ellipse cx="1073.9" cy="296.4" rx="2.3" ry="2.8" transform="rotate(-14 1073.9 296.4)" fill-opacity="0.77"/>
<ellipse cx="1077.7" cy="309.1" rx="1.9" ry="5.5" transform="rotate(-14 1077.7 309.1)" fill-opacity="0.38"/>
<ellipse cx="1079.9" cy="323.9" rx="2.2" ry="4.4" transform="rotate(-14 1079.9 323.9)" fill-opacity="0.77"/>
<ellipse cx="1080.9" cy="333.3" rx="2.4" ry="3.3" transform="rotate(-14 1080.9 333.3)" fill-opacity="0.40"/>
<ellipse cx="1082.7" cy="341.8" rx="2.0" ry="3.6" transform="rotate(-14 1082.7 341.8)" fill-opacity="0.49"/>
<ellipse cx="1087.2" cy="355.6" rx="2.4" ry="3.1" transform="rotate(-14 1087.2 355.6)" fill-opacity="0.51"/>
<ellipse cx="1088.8" cy="362.8" rx="1.8" ry="5.1" transform="rotate(-14 1088.8 362.8)" fill-opacity="0.60"/>
<ellipse cx="1091.9" cy="371.5" rx="2.9" ry="2.9" transform="rotate(-14 1091.9 371.5)" fill-opacity="0.72"/>
<ellipse cx="1094.7" cy="382.4" rx="2.8" ry="3.9" transform="rotate(-14 1094.7 382.4)" fill-opacity="0.58"/>
<ellipse cx="1100.0" cy="395.6" rx="2.2" ry="5.4" transform="rotate(-14 1100.0 395.6)" fill-opacity="0.67"/>
<ellipse cx="1100.5" cy="408.3" rx="2.2" ry="2.7" transform="rotate(-14 1100.5 408.3)" fill-opacity="0.41"/>
<ellipse cx="1103.8" cy="415.9" rx="2.1" ry="3.1" transform="rotate(-14 1103.8 415.9)" fill-opacity="0.39"/>
<ellipse cx="1107.8" cy="430.5" rx="2.6" ry="3.5" transform="rotate(-14 1107.8 430.5)" fill-opacity="0.46"/>
<ellipse cx="1108.2" cy="440.1" rx="2.0" ry="4.1" transform="rotate(-14 1108.2 440.1)" fill-opacity="0.47"/>
<ellipse cx="1114.1" cy="455.8" rx="2.5" ry="3.4" transform="rotate(-14 1114.1 455.8)" fill-opacity="0.78"/>
<ellipse cx="1113.6" cy="465.6" rx="1.8" ry="3.8" transform="rotate(-14 1113.6 465.6)" fill-opacity="0.56"/>
<ellipse cx="1115.5" cy="477.1" rx="2.4" ry="2.5" transform="rotate(-14 1115.5 477.1)" fill-opacity="0.47"/>
<ellipse cx="1118.1" cy="484.9" rx="1.9" ry="2.6" transform="rotate(-14 1118.1 484.9)" fill-opacity="0.49"/>
<ellipse cx="1121.0" cy="494.0" rx="2.4" ry="5.1" transform="rotate(-14 1121.0 494.0)" fill-opacity="0.65"/>
<ellipse cx="1125.2" cy="507.4" rx="2.3" ry="3.6" transform="rotate(-14 1125.2 507.4)" fill-opacity="0.79"/>
<ellipse cx="1126.3" cy="515.8" rx="2.6" ry="2.7" transform="rotate(-14 1126.3 515.8)" fill-opacity="0.73"/>
<ellipse cx="1129.1" cy="530.8" rx="2.7" ry="5.3" transform="rotate(-14 1129.1 530.8)" fill-opacity="0.41"/>
<ellipse cx="1131.1" cy="542.5" rx="2.8" ry="5.3" transform="rotate(-14 1131.1 542.5)" fill-opacity="0.72"/>
<ellipse cx="1135.3" cy="554.8" rx="2.6" ry="4.9" transform="rotate(-14 1135.3 554.8)" fill-opacity="0.45"/>
<ellipse cx="1133.5" cy="562.1" rx="2.2" ry="2.9" transform="rotate(-14 1133.5 562.1)" fill-opacity="0.73"/>
<ellipse cx="1138.1" cy="574.1" rx="2.6" ry="4.9" transform="rotate(-14 1138.1 574.1)" fill-opacity="0.57"/>
<ellipse cx="1140.3" cy="581.1" rx="2.7" ry="4.3" transform="rotate(-14 1140.3 581.1)" fill-opacity="0.59"/>
<ellipse cx="1139.7" cy="594.1" rx="2.7" ry="3.4" transform="rotate(-14 1139.7 594.1)" fill-opacity="0.38"/>
<ellipse cx="1144.5" cy="603.4" rx="2.0" ry="5.1" transform="rotate(-14 1144.5 603.4)" fill-opacity="0.79"/>
<ellipse cx="1145.2" cy="614.9" rx="2.4" ry="4.9" transform="rotate(-14 1145.2 614.9)" fill-opacity="0.70"/>
<ellipse cx="1148.8" cy="627.4" rx="1.9" ry="3.0" transform="rotate(-14 1148.8 627.4)" fill-opacity="0.46"/>
<ellipse cx="1149.9" cy="641.1" rx="2.5" ry="2.5" transform="rotate(-14 1149.9 641.1)" fill-opacity="0.38"/>
<ellipse cx="1153.3" cy="650.6" rx="2.6" ry="4.9" transform="rotate(-14 1153.3 650.6)" fill-opacity="0.48"/>
<ellipse cx="1059.1" cy="100.2" rx="2.4" ry="2.9" transform="rotate(-14 1059.1 100.2)" fill-opacity="0.75"/>
<ellipse cx="1064.0" cy="109.0" rx="2.9" ry="2.6" transform="rotate(-14 1064.0 109.0)" fill-opacity="0.56"/>
<ellipse cx="1068.1" cy="123.4" rx="2.3" ry="3.4" transform="rotate(-14 1068.1 123.4)" fill-opacity="0.44"/>
<ellipse cx="1069.3" cy="138.9" rx="2.5" ry="3.0" transform="rotate(-14 1069.3 138.9)" fill-opacity="0.59"/>
<ellipse cx="1073.4" cy="154.5" rx="2.8" ry="4.3" transform="rotate(-14 1073.4 154.5)" fill-opacity="0.75"/>
<ellipse cx="1077.7" cy="167.8" rx="2.9" ry="4.2" transform="rotate(-14 1077.7 167.8)" fill-opacity="0.36"/>
<ellipse cx="1080.8" cy="174.9" rx="2.3" ry="3.6" transform="rotate(-14 1080.8 174.9)" fill-opacity="0.41"/>
<ellipse cx="1082.9" cy="185.0" rx="2.8" ry="2.5" transform="rotate(-14 1082.9 185.0)" fill-opacity="0.69"/>
<ellipse cx="1086.1" cy="199.5" rx="2.9" ry="5.0" transform="rotate(-14 1086.1 199.5)" fill-opacity="0.76"/>
<ellipse cx="1089.8" cy="209.1" rx="2.3" ry="6.0" transform="rotate(-14 1089.8 209.1)" fill-opacity="0.62"/>
<ellipse cx="1092.9" cy="219.4" rx="2.1" ry="2.7" transform="rotate(-14 1092.9 219.4)" fill-opacity="0.40"/>
<ellipse cx="1096.2" cy="233.9" rx="2.9" ry="3.4" transform="rotate(-14 1096.2 233.9)" fill-opacity="0.47"/>
<ellipse cx="1098.9" cy="245.5" rx="2.2" ry="5.8" transform="rotate(-14 1098.9 245.5)" fill-opacity="0.75"/>
<ellipse cx="1104.7" cy="259.8" rx="2.9" ry="5.8" transform="rotate(-14 1104.7 259.8)" fill-opacity="0.60"/>
<ellipse cx="1105.6" cy="273.3" rx="2.7" ry="4.1" transform="rotate(-14 1105.6 273.3)" fill-opacity="0.69"/>
<ellipse cx="1110.0" cy="286.1" rx="1.9" ry="5.7" transform="rotate(-14 1110.0 286.1)" fill-opacity="0.41"/>
<ellipse cx="1113.2" cy="297.3" rx="2.2" ry="5.1" transform="rotate(-14 1113.2 297.3)" fill-opacity="0.79"/>
<ellipse cx="1117.0" cy="306.7" rx="2.2" ry="4.5" transform="rotate(-14 1117.0 306.7)" fill-opacity="0.53"/>
<ellipse cx="1117.0" cy="315.2" rx="2.0" ry="5.7" transform="rotate(-14 1117.0 315.2)" fill-opacity="0.57"/>
<ellipse cx="1122.5" cy="324.1" rx="3.0" ry="4.1" transform="rotate(-14 1122.5 324.1)" fill-opacity="0.41"/>
<ellipse cx="1121.1" cy="332.9" rx="2.2" ry="2.8" transform="rotate(-14 1121.1 332.9)" fill-opacity="0.46"/>
<ellipse cx="1125.6" cy="342.2" rx="2.9" ry="5.1" transform="rotate(-14 1125.6 342.2)" fill-opacity="0.54"/>
<ellipse cx="1128.0" cy="352.9" rx="2.3" ry="3.7" transform="rotate(-14 1128.0 352.9)" fill-opacity="0.38"/>
<ellipse cx="1132.3" cy="362.4" rx="2.0" ry="4.3" transform="rotate(-14 1132.3 362.4)" fill-opacity="0.63"/>
<ellipse cx="1132.6" cy="377.2" rx="2.1" ry="3.4" transform="rotate(-14 1132.6 377.2)" fill-opacity="0.53"/>
<ellipse cx="1138.5" cy="388.2" rx="2.8" ry="5.6" transform="rotate(-14 1138.5 388.2)" fill-opacity="0.36"/>
<ellipse cx="1139.2" cy="395.5" rx="2.9" ry="4.2" transform="rotate(-14 1139.2 395.5)" fill-opacity="0.61"/>
<ellipse cx="1139.4" cy="402.5" rx="2.9" ry="5.4" transform="rotate(-14 1139.4 402.5)" fill-opacity="0.73"/>
<ellipse cx="1142.5" cy="418.2" rx="1.9" ry="3.0" transform="rotate(-14 1142.5 418.2)" fill-opacity="0.59"/>
<ellipse cx="1148.6" cy="431.4" rx="2.7" ry="4.8" transform="rotate(-14 1148.6 431.4)" fill-opacity="0.69"/>
<ellipse cx="1149.4" cy="442.5" rx="1.8" ry="5.2" transform="rotate(-14 1149.4 442.5)" fill-opacity="0.45"/>
<ellipse cx="1153.3" cy="457.8" rx="2.2" ry="2.9" transform="rotate(-14 1153.3 457.8)" fill-opacity="0.46"/>
<ellipse cx="1156.4" cy="470.5" rx="1.9" ry="2.7" transform="rotate(-14 1156.4 470.5)" fill-opacity="0.59"/>
<ellipse cx="1157.8" cy="482.7" rx="2.1" ry="4.6" transform="rotate(-14 1157.8 482.7)" fill-opacity="0.35"/>
<ellipse cx="1160.2" cy="492.5" rx="3.0" ry="4.8" transform="rotate(-14 1160.2 492.5)" fill-opacity="0.75"/>
<ellipse cx="1161.7" cy="503.7" rx="2.1" ry="5.9" transform="rotate(-14 1161.7 503.7)" fill-opacity="0.67"/>
<ellipse cx="1162.9" cy="513.5" rx="2.4" ry="4.9" transform="rotate(-14 1162.9 513.5)" fill-opacity="0.54"/>
<ellipse cx="1167.7" cy="522.8" rx="2.9" ry="3.3" transform="rotate(-14 1167.7 522.8)" fill-opacity="0.37"/>
<ellipse cx="1168.7" cy="532.9" rx="2.6" ry="3.2" transform="rotate(-14 1168.7 532.9)" fill-opacity="0.71"/>
<ellipse cx="1172.0" cy="546.5" rx="2.0" ry="5.9" transform="rotate(-14 1172.0 546.5)" fill-opacity="0.49"/>
<ellipse cx="1173.7" cy="560.9" rx="2.1" ry="5.2" transform="rotate(-14 1173.7 560.9)" fill-opacity="0.48"/>
<ellipse cx="1178.1" cy="576.5" rx="2.0" ry="3.3" transform="rotate(-14 1178.1 576.5)" fill-opacity="0.54"/>
<ellipse cx="1182.7" cy="589.5" rx="2.0" ry="3.9" transform="rotate(-14 1182.7 589.5)" fill-opacity="0.45"/>
<ellipse cx="1182.3" cy="605.2" rx="1.9" ry="2.7" transform="rotate(-14 1182.3 605.2)" fill-opacity="0.53"/>
<ellipse cx="1188.5" cy="620.3" rx="2.7" ry="6.0" transform="rotate(-14 1188.5 620.3)" fill-opacity="0.77"/>
<ellipse cx="1187.3" cy="630.3" rx="2.9" ry="5.1" transform="rotate(-14 1187.3 630.3)" fill-opacity="0.36"/>
<ellipse cx="1190.6" cy="643.2" rx="2.2" ry="3.7" transform="rotate(-14 1190.6 643.2)" fill-opacity="0.43"/>
<ellipse cx="1191.5" cy="650.3" rx="2.2" ry="5.8" transform="rotate(-14 1191.5 650.3)" fill-opacity="0.41"/>
<ellipse cx="1100.4" cy="104.3" rx="2.2" ry="5.4" transform="rotate(-14 1100.4 104.3)" fill-opacity="0.72"/>
<ellipse cx="1102.9" cy="115.2" rx="2.4" ry="3.8" transform="rotate(-14 1102.9 115.2)" fill-opacity="0.76"/>
<ellipse cx="1106.8" cy="123.9" rx="2.9" ry="2.6" transform="rotate(-14 1106.8 123.9)" fill-opacity="0.53"/>
<ellipse cx="1112.7" cy="138.2" rx="1.8" ry="2.6" transform="rotate(-14 1112.7 138.2)" fill-opacity="0.38"/>
<ellipse cx="1114.8" cy="153.5" rx="2.7" ry="5.6" transform="rotate(-14 1114.8 153.5)" fill-opacity="0.50"/>
<ellipse cx="1120.5" cy="162.9" rx="2.5" ry="3.4" transform="rotate(-14 1120.5 162.9)" fill-opacity="0.67"/>
<ellipse cx="1120.3" cy="172.8" rx="1.8" ry="5.1" transform="rotate(-14 1120.3 172.8)" fill-opacity="0.76"/>
<ellipse cx="1126.7" cy="185.5" rx="1.8" ry="3.3" transform="rotate(-14 1126.7 185.5)" fill-opacity="0.56"/>
<ellipse cx="1131.1" cy="201.1" rx="2.3" ry="3.4" transform="rotate(-14 1131.1 201.1)" fill-opacity="0.54"/>
<ellipse cx="1134.1" cy="212.6" rx="2.0" ry="5.3" transform="rotate(-14 1134.1 212.6)" fill-opacity="0.68"/>
<ellipse cx="1137.3" cy="227.0" rx="2.5" ry="3.6" transform="rotate(-14 1137.3 227.0)" fill-opacity="0.49"/>
<ellipse cx="1140.1" cy="237.2" rx="1.9" ry="3.2" transform="rotate(-14 1140.1 237.2)" fill-opacity="0.69"/>
<ellipse cx="1139.4" cy="246.4" rx="1.8" ry="4.4" transform="rotate(-14 1139.4 246.4)" fill-opacity="0.50"/>
<ellipse cx="1147.1" cy="262.3" rx="3.0" ry="3.4" transform="rotate(-14 1147.1 262.3)" fill-opacity="0.39"/>
<ellipse cx="1147.5" cy="270.1" rx="2.7" ry="4.1" transform="rotate(-14 1147.5 270.1)" fill-opacity="0.46"/>
<ellipse cx="1150.8" cy="280.9" rx="2.6" ry="5.1" transform="rotate(-14 1150.8 280.9)" fill-opacity="0.73"/>
<ellipse cx="1151.9" cy="293.9" rx="2.8" ry="3.5" transform="rotate(-14 1151.9 293.9)" fill-opacity="0.61"/>
<ellipse cx="1157.3" cy="304.2" rx="2.0" ry="3.4" transform="rotate(-14 1157.3 304.2)" fill-opacity="0.46"/>
<ellipse cx="1160.0" cy="312.6" rx="2.5" ry="3.6" transform="rotate(-14 1160.0 312.6)" fill-opacity="0.53"/>
<ellipse cx="1162.4" cy="328.5" rx="2.1" ry="5.3" transform="rotate(-14 1162.4 328.5)" fill-opacity="0.64"/>
<ellipse cx="1164.5" cy="344.4" rx="2.4" ry="5.4" transform="rotate(-14 1164.5 344.4)" fill-opacity="0.73"/>
<ellipse cx="1168.0" cy="359.7" rx="2.2" ry="2.9" transform="rotate(-14 1168.0 359.7)" fill-opacity="0.44"/>
<ellipse cx="1174.2" cy="375.4" rx="2.9" ry="3.8" transform="rotate(-14 1174.2 375.4)" fill-opacity="0.74"/>
<ellipse cx="1175.4" cy="386.5" rx="2.7" ry="5.8" transform="rotate(-14 1175.4 386.5)" fill-opacity="0.40"/>
<ellipse cx="1179.9" cy="398.8" rx="2.1" ry="3.8" transform="rotate(-14 1179.9 398.8)" fill-opacity="0.41"/>
<ellipse cx="1180.4" cy="407.7" rx="2.5" ry="4.8" transform="rotate(-14 1180.4 407.7)" fill-opacity="0.44"/>
<ellipse cx="1182.3" cy="414.8" rx="2.6" ry="3.1" transform="rotate(-14 1182.3 414.8)" fill-opacity="0.49"/>
<ellipse cx="1186.4" cy="423.6" rx="2.5" ry="2.7" transform="rotate(-14 1186.4 423.6)" fill-opacity="0.40"/>
<ellipse cx="1187.8" cy="434.2" rx="2.6" ry="2.8" transform="rotate(-14 1187.8 434.2)" fill-opacity="0.42"/>
<ellipse cx="1190.2" cy="447.4" rx="2.1" ry="3.6" transform="rotate(-14 1190.2 447.4)" fill-opacity="0.78"/>
<ellipse cx="1193.1" cy="457.2" rx="2.2" ry="4.0" transform="rotate(-14 1193.1 457.2)" fill-opacity="0.74"/>
<ellipse cx="1195.7" cy="473.2" rx="2.0" ry="5.0" transform="rotate(-14 1195.7 473.2)" fill-opacity="0.44"/>
<ellipse cx="1199.7" cy="480.3" rx="2.3" ry="5.4" transform="rotate(-14 1199.7 480.3)" fill-opacity="0.53"/>
<ellipse cx="1201.0" cy="495.2" rx="2.0" ry="2.6" transform="rotate(-14 1201.0 495.2)" fill-opacity="0.60"/>
<ellipse cx="1205.7" cy="508.0" rx="1.9" ry="4.7" transform="rotate(-14 1205.7 508.0)" fill-opacity="0.52"/>
<ellipse cx="1204.8" cy="519.5" rx="2.1" ry="4.3" transform="rotate(-14 1204.8 519.5)" fill-opacity="0.77"/>
<ellipse cx="1208.0" cy="527.5" rx="2.8" ry="5.9" transform="rotate(-14 1208.0 527.5)" fill-opacity="0.44"/>
<ellipse cx="1211.7" cy="535.6" rx="3.0" ry="4.2" transform="rotate(-14 1211.7 535.6)" fill-opacity="0.37"/>
<ellipse cx="1212.5" cy="551.0" rx="2.9" ry="4.7" transform="rotate(-14 1212.5 551.0)" fill-opacity="0.72"/>
<ellipse cx="1216.0" cy="559.4" rx="2.1" ry="3.9" transform="rotate(-14 1216.0 559.4)" fill-opacity="0.73"/>
<ellipse cx="1216.2" cy="573.9" rx="2.1" ry="3.9" transform="rotate(-14 1216.2 573.9)" fill-opacity="0.58"/>
<ellipse cx="1218.1" cy="584.3" rx="2.1" ry="5.0" transform="rotate(-14 1218.1 584.3)" fill-opacity="0.75"/>
<ellipse cx="1221.5" cy="591.7" rx="2.7" ry="2.6" transform="rotate(-14 1221.5 591.7)" fill-opacity="0.73"/>
<ellipse cx="1223.2" cy="599.8" rx="2.5" ry="4.7" transform="rotate(-14 1223.2 599.8)" fill-opacity="0.49"/>
<ellipse cx="1225.3" cy="610.5" rx="2.3" ry="4.8" transform="rotate(-14 1225.3 610.5)" fill-opacity="0.55"/>
<ellipse cx="1224.9" cy="621.5" rx="2.5" ry="4.2" transform="rotate(-14 1224.9 621.5)" fill-opacity="0.46"/>
<ellipse cx="1230.9" cy="635.4" rx="2.3" ry="3.1" transform="rotate(-14 1230.9 635.4)" fill-opacity="0.56"/>
<ellipse cx="1229.6" cy="643.3" rx="2.3" ry="2.8" transform="rotate(-14 1229.6 643.3)" fill-opacity="0.55"/>
<ellipse cx="1231.3" cy="654.9" rx="2.6" ry="2.8" transform="rotate(-14 1231.3 654.9)" fill-opacity="0.68"/>
<ellipse cx="1142.6" cy="102.6" rx="1.9" ry="4.3" transform="rotate(-14 1142.6 102.6)" fill-opacity="0.52"/>
<ellipse cx="1145.4" cy="118.2" rx="2.8" ry="6.0" transform="rotate(-14 1145.4 118.2)" fill-opacity="0.68"/>
<ellipse cx="1149.7" cy="132.5" rx="3.0" ry="4.2" transform="rotate(-14 1149.7 132.5)" fill-opacity="0.78"/>
<ellipse cx="1153.9" cy="147.7" rx="2.7" ry="5.8" transform="rotate(-14 1153.9 147.7)" fill-opacity="0.38"/>
<ellipse cx="1159.3" cy="157.9" rx="2.0" ry="5.6" transform="rotate(-14 1159.3 157.9)" fill-opacity="0.47"/>
<ellipse cx="1160.6" cy="172.2" rx="2.4" ry="5.7" transform="rotate(-14 1160.6 172.2)" fill-opacity="0.44"/>
<ellipse cx="1164.7" cy="181.6" rx="2.2" ry="2.6" transform="rotate(-14 1164.7 181.6)" fill-opacity="0.43"/>
<ellipse cx="1168.9" cy="190.1" rx="2.6" ry="5.6" transform="rotate(-14 1168.9 190.1)" fill-opacity="0.43"/>
<ellipse cx="1169.1" cy="204.1" rx="2.4" ry="4.7" transform="rotate(-14 1169.1 204.1)" fill-opacity="0.51"/>
<ellipse cx="1175.0" cy="219.0" rx="2.5" ry="5.6" transform="rotate(-14 1175.0 219.0)" fill-opacity="0.40"/>
<ellipse cx="1179.6" cy="234.9" rx="2.3" ry="5.3" transform="rotate(-14 1179.6 234.9)" fill-opacity="0.47"/>
<ellipse cx="1183.5" cy="250.8" rx="2.2" ry="5.2" transform="rotate(-14 1183.5 250.8)" fill-opacity="0.55"/>
<ellipse cx="1186.5" cy="259.4" rx="1.9" ry="5.4" transform="rotate(-14 1186.5 259.4)" fill-opacity="0.46"/>
<ellipse cx="1190.8" cy="272.2" rx="2.5" ry="4.8" transform="rotate(-14 1190.8 272.2)" fill-opacity="0.49"/>
<ellipse cx="1188.4" cy="279.2" rx="2.0" ry="4.7" transform="rotate(-14 1188.4 279.2)" fill-opacity="0.54"/>
<ellipse cx="1195.2" cy="290.8" rx="2.0" ry="3.3" transform="rotate(-14 1195.2 290.8)" fill-opacity="0.64"/>
<ellipse cx="1193.1" cy="298.0" rx="2.2" ry="2.9" transform="rotate(-14 1193.1 298.0)" fill-opacity="0.51"/>
<ellipse cx="1197.9" cy="307.0" rx="2.5" ry="3.2" transform="rotate(-14 1197.9 307.0)" fill-opacity="0.63"/>
<ellipse cx="1198.7" cy="318.3" rx="2.9" ry="3.4" transform="rotate(-14 1198.7 318.3)" fill-opacity="0.42"/>
<ellipse cx="1202.9" cy="326.2" rx="2.8" ry="5.2" transform="rotate(-14 1202.9 326.2)" fill-opacity="0.53"/>
<ellipse cx="1202.4" cy="335.5" rx="2.6" ry="4.5" transform="rotate(-14 1202.4 335.5)" fill-opacity="0.51"/>
<ellipse cx="1207.5" cy="348.3" rx="2.9" ry="5.1" transform="rotate(-14 1207.5 348.3)" fill-opacity="0.46"/>
<ellipse cx="1209.3" cy="363.5" rx="2.4" ry="3.9" transform="rotate(-14 1209.3 363.5)" fill-opacity="0.46"/>
<ellipse cx="1214.4" cy="371.0" rx="1.8" ry="4.4" transform="rotate(-14 1214.4 371.0)" fill-opacity="0.77"/>
<ellipse cx="1213.8" cy="379.3" rx="2.5" ry="4.3" transform="rotate(-14 1213.8 379.3)" fill-opacity="0.64"/>
<ellipse cx="1217.1" cy="393.6" rx="2.2" ry="3.6" transform="rotate(-14 1217.1 393.6)" fill-opacity="0.37"/>
<ellipse cx="1223.2" cy="408.6" rx="2.7" ry="2.5" transform="rotate(-14 1223.2 408.6)" fill-opacity="0.73"/>
<ellipse cx="1225.0" cy="422.3" rx="2.7" ry="4.1" transform="rotate(-14 1225.0 422.3)" fill-opacity="0.45"/>
<ellipse cx="1225.8" cy="430.3" rx="1.8" ry="3.7" transform="rotate(-14 1225.8 430.3)" fill-opacity="0.69"/>
<ellipse cx="1231.5" cy="443.5" rx="2.7" ry="3.4" transform="rotate(-14 1231.5 443.5)" fill-opacity="0.60"/>
<ellipse cx="1233.7" cy="454.4" rx="2.4" ry="3.4" transform="rotate(-14 1233.7 454.4)" fill-opacity="0.64"/>
<ellipse cx="1234.6" cy="470.1" rx="2.9" ry="2.6" transform="rotate(-14 1234.6 470.1)" fill-opacity="0.47"/>
<ellipse cx="1238.9" cy="479.2" rx="2.9" ry="5.1" transform="rotate(-14 1238.9 479.2)" fill-opacity="0.50"/>
<ellipse cx="1240.3" cy="494.2" rx="2.1" ry="5.7" transform="rotate(-14 1240.3 494.2)" fill-opacity="0.63"/>
<ellipse cx="1244.7" cy="507.4" rx="3.0" ry="4.1" transform="rotate(-14 1244.7 507.4)" fill-opacity="0.73"/>
<ellipse cx="1248.3" cy="520.7" rx="2.3" ry="5.0" transform="rotate(-14 1248.3 520.7)" fill-opacity="0.61"/>
<ellipse cx="1247.5" cy="530.5" rx="2.5" ry="2.8" transform="rotate(-14 1247.5 530.5)" fill-opacity="0.76"/>
<ellipse cx="1248.4" cy="538.8" rx="1.9" ry="5.8" transform="rotate(-14 1248.4 538.8)" fill-opacity="0.51"/>
<ellipse cx="1250.2" cy="547.0" rx="1.8" ry="4.9" transform="rotate(-14 1250.2 547.0)" fill-opacity="0.64"/>
<ellipse cx="1256.0" cy="560.3" rx="1.9" ry="4.6" transform="rotate(-14 1256.0 560.3)" fill-opacity="0.51"/>
<ellipse cx="1259.3" cy="574.7" rx="2.9" ry="2.7" transform="rotate(-14 1259.3 574.7)" fill-opacity="0.74"/>
<ellipse cx="1262.8" cy="589.9" rx="1.9" ry="3.2" transform="rotate(-14 1262.8 589.9)" fill-opacity="0.40"/>
<ellipse cx="1263.9" cy="597.2" rx="2.8" ry="4.7" transform="rotate(-14 1263.9 597.2)" fill-opacity="0.72"/>
<ellipse cx="1263.9" cy="609.9" rx="1.9" ry="2.8" transform="rotate(-14 1263.9 609.9)" fill-opacity="0.69"/>
<ellipse cx="1265.7" cy="618.7" rx="2.3" ry="2.6" transform="rotate(-14 1265.7 618.7)" fill-opacity="0.47"/>
<ellipse cx="1269.3" cy="628.3" rx="2.2" ry="3.6" transform="rotate(-14 1269.3 628.3)" fill-opacity="0.78"/>
<ellipse cx="1272.1" cy="639.8" rx="2.5" ry="2.6" transform="rotate(-14 1272.1 639.8)" fill-opacity="0.54"/>
<ellipse cx="1273.8" cy="650.7" rx="2.2" ry="5.0" transform="rotate(-14 1273.8 650.7)" fill-opacity="0.59"/>
<ellipse cx="1184.0" cy="97.5" rx="1.9" ry="5.4" transform="rotate(-14 1184.0 97.5)" fill-opacity="0.43"/>
<ellipse cx="1183.1" cy="104.6" rx="2.7" ry="5.9" transform="rotate(-14 1183.1 104.6)" fill-opacity="0.35"/>
<ellipse cx="1187.6" cy="116.0" rx="2.8" ry="3.1" transform="rotate(-14 1187.6 116.0)" fill-opacity="0.57"/>
<ellipse cx="1191.9" cy="126.1" rx="2.1" ry="5.8" transform="rotate(-14 1191.9 126.1)" fill-opacity="0.48"/>
<ellipse cx="1193.8" cy="135.0" rx="2.4" ry="2.9" transform="rotate(-14 1193.8 135.0)" fill-opacity="0.64"/>
<ellipse cx="1196.3" cy="142.8" rx="2.6" ry="5.3" transform="rotate(-14 1196.3 142.8)" fill-opacity="0.63"/>
<ellipse cx="1197.5" cy="153.0" rx="2.3" ry="5.6" transform="rotate(-14 1197.5 153.0)" fill-opacity="0.39"/>
<ellipse cx="1199.9" cy="168.0" rx="2.0" ry="3.4" transform="rotate(-14 1199.9 168.0)" fill-opacity="0.76"/>
<ellipse cx="1204.6" cy="179.5" rx="2.9" ry="3.3" transform="rotate(-14 1204.6 179.5)" fill-opacity="0.56"/>
<ellipse cx="1209.4" cy="191.3" rx="2.7" ry="4.8" transform="rotate(-14 1209.4 191.3)" fill-opacity="0.51"/>
<ellipse cx="1209.4" cy="201.2" rx="2.8" ry="4.8" transform="rotate(-14 1209.4 201.2)" fill-opacity="0.68"/>
<ellipse cx="1212.9" cy="209.7" rx="2.7" ry="4.5" transform="rotate(-14 1212.9 209.7)" fill-opacity="0.41"/>
<ellipse cx="1217.8" cy="220.9" rx="2.1" ry="3.2" transform="rotate(-14 1217.8 220.9)" fill-opacity="0.49"/>
<ellipse cx="1221.1" cy="234.2" rx="2.0" ry="3.0" transform="rotate(-14 1221.1 234.2)" fill-opacity="0.46"/>
<ellipse cx="1222.3" cy="244.1" rx="2.0" ry="3.6" transform="rotate(-14 1222.3 244.1)" fill-opacity="0.44"/>
<ellipse cx="1227.3" cy="259.9" rx="1.9" ry="5.9" transform="rotate(-14 1227.3 259.9)" fill-opacity="0.40"/>
<ellipse cx="1231.0" cy="270.4" rx="2.8" ry="5.1" transform="rotate(-14 1231.0 270.4)" fill-opacity="0.55"/>
<ellipse cx="1231.7" cy="279.1" rx="1.9" ry="3.2" transform="rotate(-14 1231.7 279.1)" fill-opacity="0.52"/>
<ellipse cx="1232.5" cy="286.5" rx="2.7" ry="4.9" transform="rotate(-14 1232.5 286.5)" fill-opacity="0.58"/>
<ellipse cx="1236.0" cy="299.1" rx="2.0" ry="4.6" transform="rotate(-14 1236.0 299.1)" fill-opacity="0.53"/>
<ellipse cx="1241.3" cy="312.8" rx="2.3" ry="4.5" transform="rotate(-14 1241.3 312.8)" fill-opacity="0.69"/>
<ellipse cx="1241.0" cy="323.6" rx="2.7" ry="5.6" transform="rotate(-14 1241.0 323.6)" fill-opacity="0.70"/>
<ellipse cx="1247.0" cy="336.9" rx="2.6" ry="4.7" transform="rotate(-14 1247.0 336.9)" fill-opacity="0.55"/>
<ellipse cx="1248.3" cy="346.7" rx="1.9" ry="4.0" transform="rotate(-14 1248.3 346.7)" fill-opacity="0.70"/>
<ellipse cx="1251.5" cy="360.1" rx="2.1" ry="4.0" transform="rotate(-14 1251.5 360.1)" fill-opacity="0.55"/>
<ellipse cx="1253.6" cy="372.7" rx="2.6" ry="5.8" transform="rotate(-14 1253.6 372.7)" fill-opacity="0.43"/>
<ellipse cx="1258.2" cy="385.6" rx="2.3" ry="4.2" transform="rotate(-14 1258.2 385.6)" fill-opacity="0.79"/>
<ellipse cx="1258.9" cy="393.0" rx="2.0" ry="5.2" transform="rotate(-14 1258.9 393.0)" fill-opacity="0.77"/>
<ellipse cx="1259.6" cy="404.6" rx="2.5" ry="4.4" transform="rotate(-14 1259.6 404.6)" fill-opacity="0.67"/>
<ellipse cx="1264.7" cy="416.2" rx="2.8" ry="4.3" transform="rotate(-14 1264.7 416.2)" fill-opacity="0.53"/>
<ellipse cx="1266.3" cy="431.8" rx="2.6" ry="3.9" transform="rotate(-14 1266.3 431.8)" fill-opacity="0.69"/>
<ellipse cx="1271.5" cy="439.9" rx="2.2" ry="2.7" transform="rotate(-14 1271.5 439.9)" fill-opacity="0.47"/>
<ellipse cx="1269.6" cy="450.5" rx="2.3" ry="4.0" transform="rotate(-14 1269.6 450.5)" fill-opacity="0.66"/>
<ellipse cx="1272.9" cy="460.6" rx="2.1" ry="5.1" transform="rotate(-14 1272.9 460.6)" fill-opacity="0.77"/>
<ellipse cx="1275.3" cy="472.4" rx="2.8" ry="3.9" transform="rotate(-14 1275.3 472.4)" fill-opacity="0.45"/>
<ellipse cx="1279.5" cy="480.6" rx="2.8" ry="4.7" transform="rotate(-14 1279.5 480.6)" fill-opacity="0.56"/>
<ellipse cx="1279.7" cy="492.6" rx="3.0" ry="3.7" transform="rotate(-14 1279.7 492.6)" fill-opacity="0.64"/>
<ellipse cx="1285.4" cy="507.0" rx="2.4" ry="3.5" transform="rotate(-14 1285.4 507.0)" fill-opacity="0.60"/>
<ellipse cx="1287.2" cy="515.1" rx="2.2" ry="5.5" transform="rotate(-14 1287.2 515.1)" fill-opacity="0.47"/>
<ellipse cx="1286.8" cy="525.5" rx="2.3" ry="3.2" transform="rotate(-14 1286.8 525.5)" fill-opacity="0.35"/>
<ellipse cx="1289.7" cy="539.0" rx="2.1" ry="3.6" transform="rotate(-14 1289.7 539.0)" fill-opacity="0.57"/>
<ellipse cx="1293.5" cy="549.8" rx="2.6" ry="3.8" transform="rotate(-14 1293.5 549.8)" fill-opacity="0.77"/>
<ellipse cx="1293.9" cy="564.5" rx="2.8" ry="5.7" transform="rotate(-14 1293.9 564.5)" fill-opacity="0.70"/>
<ellipse cx="1299.0" cy="572.8" rx="2.6" ry="2.6" transform="rotate(-14 1299.0 572.8)" fill-opacity="0.36"/>
<ellipse cx="1301.3" cy="588.4" rx="2.1" ry="2.9" transform="rotate(-14 1301.3 588.4)" fill-opacity="0.41"/>
<ellipse cx="1303.6" cy="597.5" rx="2.2" ry="3.0" transform="rotate(-14 1303.6 597.5)" fill-opacity="0.76"/>
<ellipse cx="1303.7" cy="611.6" rx="2.9" ry="4.6" transform="rotate(-14 1303.7 611.6)" fill-opacity="0.70"/>
<ellipse cx="1309.4" cy="624.6" rx="2.7" ry="5.4" transform="rotate(-14 1309.4 624.6)" fill-opacity="0.44"/>
<ellipse cx="1310.3" cy="637.8" rx="2.7" ry="4.0" transform="rotate(-14 1310.3 637.8)" fill-opacity="0.75"/>
<ellipse cx="1311.4" cy="649.8" rx="2.1" ry="3.0" transform="rotate(-14 1311.4 649.8)" fill-opacity="0.57"/>
</g>
</g>
<rect x="952.6" y="403.8" width="467.4" height="17.4" fill="#fff"/>
<g stroke="#222" stroke-width="1.2">
<line x1="922.2" y1="641" x2="922.2" y2="648"/>
<line x1="1199.5" y1="641" x2="1199.5" y2="648"/>
<line x1="1475.6" y1="641" x2="1475.6" y2="648"/>
<line x1="914.5" y1="94" x2="922" y2="94"/>
<line x1="914.5" y1="367.5" x2="922" y2="367.5"/>
<line x1="914.5" y1="641" x2="922" y2="641"/>
</g>
<rect x="1495.4" y="91.6" width="55.4" height="549.8" fill="url(#cbb)"/>
<rect x="1496" y="92.2" width="54.2" height="548.6" fill="none" stroke="#111" stroke-width="1.7"/>
<g stroke="#222" stroke-width="1.3">
<line x1="1550.8" y1="215.5" x2="1556.5" y2="215.5"/>
<line x1="1550.8" y1="307.4" x2="1556.5" y2="307.4"/>
<line x1="1550.8" y1="401.3" x2="1556.5" y2="401.3"/>
<line x1="1550.8" y1="493.2" x2="1556.5" y2="493.2"/>
<line x1="1550.8" y1="585.4" x2="1556.5" y2="585.4"/>
</g>
<text transform="translate(864.75 50.40) scale(1.0183 1)" font-family="Liberation Sans, sans-serif" font-size="22.75" font-weight="normal" fill="#333" stroke="#333" stroke-width="0.45" xml:space="preserve" >PSI_Messprobe_right_5_1_1 Inspection 118x118.bcrf</text>
<text transform="translate(907.77 85.20) scale(0.9571 1)" font-family="Liberation Sans, sans-serif" font-size="23.62" font-weight="normal" fill="#333" stroke="#333" stroke-width="0.45" xml:space="preserve" >Sa=5.92 nm  Sq=6.63 nm  Sz=23.7 nm  ; Mean: -0.8003 nm</text>
<text transform="translate(926.98 672.00) scale(1.0236 1)" font-family="Liberation Sans, sans-serif" font-size="22.43" font-weight="normal" fill="#333" stroke="#333" stroke-width="0.45" xml:space="preserve" >35.9</text>
<text transform="translate(1177.74 672.00) scale(1.0150 1)" font-family="Liberation Sans, sans-serif" font-size="22.43" font-weight="normal" fill="#333" stroke="#333" stroke-width="0.45" xml:space="preserve" >45.9</text>
<text transform="translate(1431.48 672.00) scale(1.0205 1)" font-family="Liberation Sans, sans-serif" font-size="22.43" font-weight="normal" fill="#333" stroke="#333" stroke-width="0.45" xml:space="preserve" >56.0</text>
<text transform="translate(1116.32 697.30) scale(1.0014 1)" font-family="Liberation Sans, sans-serif" font-size="22.61" font-weight="normal" fill="#333" stroke="#333" stroke-width="0.45" xml:space="preserve" >X Range:  20.1 µm</text>
<text transform="translate(1164.87 739.30) scale(1.0356 1)" font-family="DejaVu Sans, sans-serif" font-size="31.46" font-weight="normal" fill="#111" stroke="#111" stroke-width="0" xml:space="preserve" >(b)</text>
<text transform="translate(1552.89 87.60) scale(1.0352 1)" font-family="Liberation Sans, sans-serif" font-size="29.06" font-weight="normal" fill="#111" stroke="#111" stroke-width="0.15" xml:space="preserve" >nm</text>
<text transform="translate(1537.19 223.50) scale(0.8843 1)" font-family="Liberation Sans, sans-serif" font-size="22.86" font-weight="normal" fill="#6a0010" stroke="#6a0010" stroke-width="0.45" xml:space="preserve" >8</text>
<text transform="translate(1537.11 315.40) scale(0.8578 1)" font-family="Liberation Sans, sans-serif" font-size="22.86" font-weight="normal" fill="#4a3a00" stroke="#4a3a00" stroke-width="0.45" xml:space="preserve" >4</text>
<text transform="translate(1537.21 409.30) scale(0.8659 1)" font-family="Liberation Sans, sans-serif" font-size="22.86" font-weight="normal" fill="#00581c" stroke="#00581c" stroke-width="0.45" xml:space="preserve" >0</text>
<text transform="translate(1528.10 501.20) scale(0.9870 1)" font-family="Liberation Sans, sans-serif" font-size="22.86" font-weight="normal" fill="#04103c" stroke="#04103c" stroke-width="0.45" xml:space="preserve" >-4</text>
<text transform="translate(1528.08 593.40) scale(1.0117 1)" font-family="Liberation Sans, sans-serif" font-size="22.86" font-weight="normal" fill="#ececf4" stroke="#ececf4" stroke-width="0.45" xml:space="preserve" >-8</text>
<text transform="translate(910.50 137.27) rotate(-90) scale(0.9746 1)" font-family="Liberation Sans, sans-serif" font-size="22.29" font-weight="normal" fill="#333" stroke="#333" stroke-width="0.45" xml:space="preserve" >51.9</text>
<text transform="translate(910.50 386.24) rotate(-90) scale(0.9977 1)" font-family="Liberation Sans, sans-serif" font-size="22.29" font-weight="normal" fill="#333" stroke="#333" stroke-width="0.45" xml:space="preserve" >41.8</text>
<text transform="translate(910.50 636.48) rotate(-90) scale(0.9867 1)" font-family="Liberation Sans, sans-serif" font-size="22.29" font-weight="normal" fill="#333" stroke="#333" stroke-width="0.45" xml:space="preserve" >31.7</text>
<text transform="translate(884.00 460.48) rotate(-90) scale(1.0157 1)" font-family="Liberation Sans, sans-serif" font-size="22.46" font-weight="normal" fill="#333" stroke="#333" stroke-width="0.45" xml:space="preserve" >Y Range:  20.1 µm</text>
<rect x="31.8" y="686" width="765.4" height="585" fill="#f0f0f0"/>
<rect x="31.8" y="686" width="698" height="7" fill="#fdfdfd"/>
<g clip-path="url(#cc)">
<rect x="44.6" y="693.2" width="600.8" height="577.8" fill="url(#cbg)"/>
<rect x="44.6" y="693.2" width="600.8" height="577.8" fill="url(#cbg2)"/>
<rect x="44.6" y="693.2" width="600.8" height="577.8" fill="url(#cbg3)" mask="url(#cxm)"/>
<g mask="url(#cnm)"><rect x="44.6" y="693.2" width="600.8" height="577.8" filter="url(#noiseC)"/></g>
<rect x="44.6" y="693.2" width="600.8" height="577.8" filter="url(#noiseC2)" opacity="0.45"/>
<g filter="url(#blurC)">
<path d="M100.4 689.2L114.9 738.0L129.1 786.8L143.0 835.7L156.6 884.5L169.9 933.3L182.9 982.1L195.6 1030.9L207.9 1079.7L219.9 1128.5L231.6 1177.4L243.0 1226.2L254.1 1275.0L515.6 1275.0L504.7 1226.2L493.5 1177.4L482.1 1128.5L470.6 1079.7L458.8 1030.9L446.8 982.1L434.5 933.3L422.1 884.5L409.5 835.7L396.7 786.8L383.6 738.0L370.4 689.2Z" fill="#8a1f10" fill-opacity="0.85"/>
<path d="M88.6 689.2L103.1 738.0L117.3 786.8L131.2 835.7L144.8 884.5L158.1 933.3L171.1 982.1L183.8 1030.9L196.1 1079.7L208.1 1128.5L219.8 1177.4L231.2 1226.2L242.3 1275.0L265.9 1275.0L254.8 1226.2L243.4 1177.4L231.7 1128.5L219.7 1079.7L207.4 1030.9L194.7 982.1L181.7 933.3L168.4 884.5L154.8 835.7L140.9 786.8L126.7 738.0L112.2 689.2Z" fill="url(#cst)"/>
<path d="M133.6 689.2L147.9 738.0L161.9 786.8L175.7 835.7L189.1 884.5L202.2 933.3L215.1 982.1L227.6 1030.9L239.9 1079.7L251.8 1128.5L263.5 1177.4L274.8 1226.2L285.9 1275.0L309.5 1275.0L298.4 1226.2L287.1 1177.4L275.4 1128.5L263.5 1079.7L251.2 1030.9L238.7 982.1L225.8 933.3L212.7 884.5L199.3 835.7L185.5 786.8L171.5 738.0L157.2 689.2Z" fill="url(#cst)"/>
<path d="M178.6 689.2L192.7 738.0L206.5 786.8L220.1 835.7L233.3 884.5L246.3 933.3L259.1 982.1L271.5 1030.9L283.6 1079.7L295.5 1128.5L307.1 1177.4L318.4 1226.2L329.5 1275.0L353.1 1275.0L342.0 1226.2L330.7 1177.4L319.1 1128.5L307.2 1079.7L295.1 1030.9L282.7 982.1L269.9 933.3L256.9 884.5L243.7 835.7L230.1 786.8L216.3 738.0L202.2 689.2Z" fill="url(#cst)"/>
<path d="M223.6 689.2L237.5 738.0L251.1 786.8L264.5 835.7L277.6 884.5L290.4 933.3L303.0 982.1L315.4 1030.9L327.4 1079.7L339.2 1128.5L350.8 1177.4L362.0 1226.2L373.1 1275.0L396.7 1275.0L385.6 1226.2L374.4 1177.4L362.8 1128.5L351.0 1079.7L339.0 1030.9L326.6 982.1L314.0 933.3L301.2 884.5L288.1 835.7L274.7 786.8L261.1 738.0L247.2 689.2Z" fill="url(#cst)"/>
<path d="M268.6 689.2L282.2 738.0L295.7 786.8L308.9 835.7L321.8 884.5L334.5 933.3L347.0 982.1L359.2 1030.9L371.2 1079.7L382.9 1128.5L394.4 1177.4L405.7 1226.2L416.6 1275.0L440.2 1275.0L429.3 1226.2L418.0 1177.4L406.5 1128.5L394.8 1079.7L382.8 1030.9L370.6 982.1L358.1 933.3L345.4 884.5L332.5 835.7L319.3 786.8L305.8 738.0L292.2 689.2Z" fill="url(#cst)"/>
<path d="M313.6 689.2L327.0 738.0L340.3 786.8L353.3 835.7L366.1 884.5L378.6 933.3L391.0 982.1L403.1 1030.9L415.0 1079.7L426.6 1128.5L438.1 1177.4L449.3 1226.2L460.2 1275.0L483.8 1275.0L472.9 1226.2L461.7 1177.4L450.2 1128.5L438.6 1079.7L426.7 1030.9L414.6 982.1L402.2 933.3L389.7 884.5L376.9 835.7L363.9 786.8L350.6 738.0L337.2 689.2Z" fill="url(#cst)"/>
<path d="M358.6 689.2L371.8 738.0L384.9 786.8L397.7 835.7L410.3 884.5L422.7 933.3L435.0 982.1L447.0 1030.9L458.8 1079.7L470.3 1128.5L481.7 1177.4L492.9 1226.2L503.8 1275.0L527.4 1275.0L516.5 1226.2L505.3 1177.4L493.9 1128.5L482.4 1079.7L470.6 1030.9L458.6 982.1L446.3 933.3L433.9 884.5L421.3 835.7L408.5 786.8L395.4 738.0L382.2 689.2Z" fill="url(#cst)"/>
</g>
<g fill="#e89050" fill-opacity="0.7">
<circle cx="111.0" cy="727.0" r="0.6"/>
<circle cx="181.6" cy="977.1" r="0.8"/>
<circle cx="225.3" cy="1191.8" r="0.9"/>
<circle cx="179.2" cy="963.6" r="0.8"/>
<circle cx="229.5" cy="1178.9" r="0.7"/>
<circle cx="239.7" cy="1248.2" r="0.8"/>
<circle cx="193.9" cy="1060.8" r="0.8"/>
<circle cx="218.3" cy="1087.6" r="0.7"/>
<circle cx="251.0" cy="1260.4" r="0.7"/>
<circle cx="230.6" cy="1211.8" r="0.9"/>
<circle cx="198.4" cy="1054.5" r="0.9"/>
<circle cx="161.7" cy="904.8" r="0.8"/>
<circle cx="216.6" cy="1138.4" r="0.7"/>
<circle cx="172.1" cy="937.3" r="0.9"/>
<circle cx="157.0" cy="862.4" r="0.7"/>
<circle cx="179.0" cy="984.3" r="0.8"/>
<circle cx="253.0" cy="1256.6" r="0.9"/>
<circle cx="153.0" cy="884.4" r="0.6"/>
<circle cx="198.5" cy="1032.1" r="0.9"/>
<circle cx="112.8" cy="716.3" r="0.9"/>
<circle cx="180.9" cy="1008.3" r="0.7"/>
<circle cx="96.6" cy="696.8" r="1.0"/>
<circle cx="202.2" cy="1044.9" r="0.9"/>
<circle cx="243.5" cy="1218.9" r="0.8"/>
<circle cx="205.6" cy="1055.4" r="0.8"/>
<circle cx="204.0" cy="1086.7" r="0.8"/>
<circle cx="181.6" cy="957.8" r="0.6"/>
<circle cx="123.3" cy="798.0" r="0.9"/>
<circle cx="244.9" cy="1221.4" r="0.7"/>
<circle cx="235.1" cy="1168.5" r="0.8"/>
<circle cx="141.0" cy="842.3" r="0.7"/>
<circle cx="153.3" cy="877.2" r="0.8"/>
<circle cx="235.8" cy="1232.8" r="0.8"/>
<circle cx="100.9" cy="716.0" r="0.9"/>
<circle cx="246.3" cy="1025.6" r="0.7"/>
<circle cx="146.7" cy="701.4" r="0.8"/>
<circle cx="298.1" cy="1235.0" r="0.7"/>
<circle cx="205.8" cy="931.5" r="0.8"/>
<circle cx="175.1" cy="815.9" r="0.5"/>
<circle cx="151.0" cy="696.0" r="0.6"/>
<circle cx="284.3" cy="1251.6" r="0.9"/>
<circle cx="158.8" cy="767.7" r="0.9"/>
<circle cx="191.3" cy="833.2" r="0.6"/>
<circle cx="160.4" cy="722.2" r="0.9"/>
<circle cx="282.2" cy="1187.5" r="0.5"/>
<circle cx="250.0" cy="1056.4" r="0.7"/>
<circle cx="283.1" cy="1231.9" r="1.0"/>
<circle cx="248.9" cy="1107.6" r="0.5"/>
<circle cx="255.3" cy="1069.2" r="0.5"/>
<circle cx="202.2" cy="872.9" r="0.6"/>
<circle cx="278.1" cy="1190.7" r="0.5"/>
<circle cx="208.1" cy="905.6" r="0.7"/>
<circle cx="245.8" cy="1084.3" r="0.9"/>
<circle cx="208.8" cy="903.1" r="0.8"/>
<circle cx="212.2" cy="934.7" r="0.9"/>
<circle cx="295.2" cy="1239.2" r="0.8"/>
<circle cx="186.2" cy="862.1" r="1.0"/>
<circle cx="263.0" cy="1099.5" r="0.7"/>
<circle cx="251.9" cy="1043.2" r="0.9"/>
<circle cx="238.1" cy="1040.5" r="0.7"/>
<circle cx="279.6" cy="1206.4" r="0.8"/>
<circle cx="249.7" cy="1040.9" r="0.9"/>
<circle cx="183.6" cy="856.9" r="0.6"/>
<circle cx="216.8" cy="937.3" r="0.9"/>
<circle cx="273.0" cy="1206.0" r="0.9"/>
<circle cx="278.9" cy="1162.2" r="0.8"/>
<circle cx="198.7" cy="851.4" r="0.9"/>
<circle cx="262.0" cy="1088.8" r="0.7"/>
<circle cx="206.8" cy="742.3" r="0.9"/>
<circle cx="229.4" cy="809.0" r="1.0"/>
<circle cx="232.0" cy="828.4" r="0.8"/>
<circle cx="259.9" cy="962.1" r="0.6"/>
<circle cx="312.7" cy="1127.2" r="0.7"/>
<circle cx="212.2" cy="743.9" r="0.9"/>
<circle cx="231.3" cy="827.8" r="0.9"/>
<circle cx="325.7" cy="1204.6" r="0.7"/>
<circle cx="277.9" cy="1033.7" r="0.6"/>
<circle cx="225.3" cy="797.6" r="0.7"/>
<circle cx="278.5" cy="1019.3" r="0.8"/>
<circle cx="207.3" cy="779.3" r="1.0"/>
<circle cx="244.1" cy="909.3" r="0.8"/>
<circle cx="305.3" cy="1148.1" r="0.8"/>
<circle cx="247.7" cy="892.5" r="0.5"/>
<circle cx="206.8" cy="712.6" r="0.9"/>
<circle cx="270.1" cy="974.2" r="0.6"/>
<circle cx="309.4" cy="1143.4" r="1.0"/>
<circle cx="315.5" cy="1136.5" r="1.0"/>
<circle cx="224.0" cy="840.0" r="0.6"/>
<circle cx="213.2" cy="797.6" r="0.5"/>
<circle cx="286.6" cy="1015.3" r="0.7"/>
<circle cx="341.5" cy="1240.5" r="0.5"/>
<circle cx="283.3" cy="1038.8" r="0.6"/>
<circle cx="330.3" cy="1247.5" r="0.8"/>
<circle cx="300.3" cy="1063.4" r="0.8"/>
<circle cx="253.7" cy="920.3" r="0.6"/>
<circle cx="345.6" cy="1251.2" r="0.6"/>
<circle cx="193.2" cy="715.5" r="0.7"/>
<circle cx="335.5" cy="1214.8" r="0.9"/>
<circle cx="205.0" cy="720.4" r="0.9"/>
<circle cx="301.8" cy="1066.9" r="0.5"/>
<circle cx="220.5" cy="776.9" r="1.0"/>
<circle cx="292.6" cy="1084.3" r="0.8"/>
<circle cx="343.9" cy="1131.1" r="0.7"/>
<circle cx="270.5" cy="841.7" r="0.7"/>
<circle cx="258.8" cy="790.6" r="0.6"/>
<circle cx="330.9" cy="1084.7" r="0.9"/>
<circle cx="259.1" cy="805.9" r="1.0"/>
<circle cx="280.7" cy="820.6" r="0.9"/>
<circle cx="362.3" cy="1206.7" r="0.7"/>
<circle cx="260.8" cy="749.2" r="0.9"/>
<circle cx="332.5" cy="1056.3" r="0.7"/>
<circle cx="360.1" cy="1168.8" r="0.8"/>
<circle cx="254.4" cy="775.7" r="0.5"/>
<circle cx="346.6" cy="1105.6" r="0.6"/>
<circle cx="362.4" cy="1196.3" r="0.7"/>
<circle cx="257.4" cy="783.2" r="0.9"/>
<circle cx="283.4" cy="886.5" r="0.7"/>
<circle cx="295.3" cy="877.0" r="0.6"/>
<circle cx="372.5" cy="1258.6" r="0.9"/>
<circle cx="333.5" cy="1079.3" r="0.7"/>
<circle cx="277.7" cy="858.6" r="0.6"/>
<circle cx="304.1" cy="903.7" r="1.0"/>
<circle cx="366.3" cy="1227.7" r="0.6"/>
<circle cx="361.7" cy="1211.0" r="0.9"/>
<circle cx="293.0" cy="862.8" r="0.5"/>
<circle cx="355.3" cy="1159.5" r="0.6"/>
<circle cx="243.3" cy="694.3" r="0.8"/>
<circle cx="265.4" cy="800.6" r="1.0"/>
<circle cx="273.2" cy="819.3" r="0.6"/>
<circle cx="271.1" cy="797.3" r="0.9"/>
<circle cx="260.2" cy="806.9" r="0.5"/>
<circle cx="330.5" cy="1044.8" r="0.6"/>
<circle cx="272.1" cy="812.2" r="0.9"/>
<circle cx="360.6" cy="1162.1" r="0.6"/>
<circle cx="251.9" cy="731.2" r="0.7"/>
<circle cx="337.9" cy="1110.2" r="0.9"/>
<circle cx="341.0" cy="886.9" r="0.9"/>
<circle cx="348.3" cy="978.1" r="1.0"/>
<circle cx="362.7" cy="968.6" r="0.6"/>
<circle cx="317.8" cy="800.7" r="0.7"/>
<circle cx="305.2" cy="787.7" r="0.8"/>
<circle cx="282.6" cy="695.9" r="0.7"/>
<circle cx="353.7" cy="991.1" r="0.9"/>
<circle cx="410.5" cy="1165.0" r="0.7"/>
<circle cx="386.6" cy="1104.1" r="0.9"/>
<circle cx="298.7" cy="728.6" r="1.0"/>
<circle cx="358.3" cy="979.1" r="0.8"/>
<circle cx="354.8" cy="1003.7" r="1.0"/>
<circle cx="310.9" cy="822.5" r="0.6"/>
<circle cx="327.5" cy="837.9" r="0.5"/>
<circle cx="301.0" cy="748.9" r="0.6"/>
<circle cx="286.3" cy="703.4" r="0.8"/>
<circle cx="366.1" cy="995.3" r="0.6"/>
<circle cx="414.7" cy="1195.6" r="0.5"/>
<circle cx="301.2" cy="764.3" r="0.8"/>
<circle cx="318.4" cy="854.8" r="0.7"/>
<circle cx="305.3" cy="772.3" r="0.9"/>
<circle cx="306.6" cy="778.3" r="0.9"/>
<circle cx="314.2" cy="788.1" r="1.0"/>
<circle cx="340.8" cy="917.8" r="0.9"/>
<circle cx="360.5" cy="996.9" r="1.0"/>
<circle cx="394.8" cy="1142.1" r="0.6"/>
<circle cx="333.0" cy="886.8" r="1.0"/>
<circle cx="409.8" cy="1158.0" r="0.9"/>
<circle cx="398.8" cy="1183.0" r="0.8"/>
<circle cx="430.6" cy="1246.7" r="0.6"/>
<circle cx="349.9" cy="937.1" r="0.7"/>
<circle cx="354.8" cy="999.9" r="0.7"/>
<circle cx="350.1" cy="984.9" r="0.6"/>
<circle cx="429.1" cy="1253.5" r="1.0"/>
<circle cx="427.8" cy="1059.1" r="0.9"/>
<circle cx="447.0" cy="1204.3" r="0.8"/>
<circle cx="371.5" cy="846.8" r="0.6"/>
<circle cx="417.2" cy="1006.5" r="0.8"/>
<circle cx="366.1" cy="838.0" r="0.7"/>
<circle cx="460.6" cy="1242.6" r="0.7"/>
<circle cx="416.3" cy="1067.3" r="0.8"/>
<circle cx="465.7" cy="1245.6" r="0.6"/>
<circle cx="398.6" cy="962.7" r="0.6"/>
<circle cx="338.9" cy="764.8" r="0.6"/>
<circle cx="385.0" cy="928.1" r="0.6"/>
<circle cx="341.4" cy="744.0" r="0.9"/>
<circle cx="419.9" cy="1045.6" r="0.8"/>
<circle cx="362.3" cy="809.4" r="0.7"/>
<circle cx="411.9" cy="1009.9" r="0.7"/>
<circle cx="369.7" cy="872.6" r="0.6"/>
<circle cx="402.3" cy="989.3" r="0.8"/>
<circle cx="325.5" cy="700.1" r="0.9"/>
<circle cx="365.0" cy="831.0" r="0.7"/>
<circle cx="380.5" cy="857.8" r="0.6"/>
<circle cx="434.3" cy="1139.3" r="0.5"/>
<circle cx="453.1" cy="1196.6" r="0.5"/>
<circle cx="385.2" cy="917.3" r="0.9"/>
<circle cx="338.4" cy="756.3" r="1.0"/>
<circle cx="429.6" cy="1120.0" r="0.7"/>
<circle cx="384.5" cy="896.8" r="0.8"/>
<circle cx="457.8" cy="1184.3" r="0.8"/>
<circle cx="441.2" cy="1120.1" r="0.9"/>
<circle cx="404.8" cy="967.8" r="0.9"/>
<circle cx="452.7" cy="1221.7" r="0.9"/>
<circle cx="332.4" cy="695.7" r="0.8"/>
<circle cx="411.5" cy="980.9" r="0.8"/>
<circle cx="396.4" cy="934.7" r="0.9"/>
<circle cx="415.8" cy="1044.1" r="0.7"/>
<circle cx="445.1" cy="957.8" r="0.6"/>
<circle cx="432.0" cy="918.9" r="0.7"/>
<circle cx="426.4" cy="879.2" r="0.9"/>
<circle cx="445.6" cy="981.8" r="0.6"/>
<circle cx="411.2" cy="868.9" r="0.8"/>
<circle cx="450.3" cy="1029.2" r="1.0"/>
<circle cx="427.8" cy="880.3" r="0.9"/>
<circle cx="503.6" cy="1247.2" r="0.7"/>
<circle cx="493.5" cy="1219.3" r="0.5"/>
<circle cx="455.9" cy="1019.6" r="1.0"/>
<circle cx="485.6" cy="1140.1" r="1.0"/>
<circle cx="449.6" cy="992.2" r="0.8"/>
<circle cx="428.0" cy="918.3" r="0.8"/>
<circle cx="433.9" cy="896.1" r="0.8"/>
<circle cx="442.5" cy="996.7" r="0.7"/>
<circle cx="433.6" cy="924.8" r="0.8"/>
<circle cx="508.2" cy="1201.6" r="0.7"/>
<circle cx="440.6" cy="947.5" r="1.0"/>
<circle cx="424.5" cy="891.5" r="0.9"/>
<circle cx="394.4" cy="791.8" r="1.0"/>
<circle cx="492.2" cy="1170.5" r="0.6"/>
<circle cx="504.7" cy="1210.0" r="0.9"/>
<circle cx="521.1" cy="1265.4" r="0.7"/>
<circle cx="391.7" cy="783.6" r="0.8"/>
<circle cx="441.3" cy="984.9" r="0.6"/>
<circle cx="467.2" cy="1057.3" r="0.7"/>
<circle cx="516.6" cy="1267.4" r="0.5"/>
<circle cx="439.6" cy="930.9" r="0.7"/>
<circle cx="463.8" cy="1092.3" r="0.7"/>
<circle cx="495.8" cy="1179.8" r="0.8"/>
<circle cx="401.9" cy="806.8" r="0.8"/>
<circle cx="415.3" cy="846.9" r="0.8"/>
<circle cx="515.8" cy="1269.3" r="0.7"/>
<circle cx="383.7" cy="763.4" r="0.9"/>
</g>
</g>
<rect x="93.8" y="992" width="468.5" height="17.4" fill="#fff"/>
<rect x="562.3" y="1259.8" width="51.7" height="6.6" fill="#8ab2ec"/>
<text transform="translate(528.99 1239.40) scale(1.0485 1)" font-family="Liberation Sans, sans-serif" font-size="32.00" font-weight="bold" fill="#fff" stroke="#fff" stroke-width="0" xml:space="preserve" >2.5 µm</text>
<g stroke="#000" stroke-width="1.6">
<line x1="31.8" y1="691.9" x2="730" y2="691.9" stroke-width="1.5"/>
<line x1="37.2" y1="685.6" x2="37.2" y2="691.8"/>
<line x1="44.7" y1="685.6" x2="44.7" y2="691.8"/>
<line x1="52.2" y1="685.6" x2="52.2" y2="691.8"/>
<line x1="59.8" y1="685.6" x2="59.8" y2="691.8"/>
<line x1="67.3" y1="685.6" x2="67.3" y2="691.8"/>
<line x1="74.8" y1="685.6" x2="74.8" y2="691.8"/>
<line x1="82.3" y1="685.6" x2="82.3" y2="691.8"/>
<line x1="89.8" y1="685.6" x2="89.8" y2="691.8"/>
<line x1="97.3" y1="685.6" x2="97.3" y2="691.8"/>
<line x1="104.8" y1="685.6" x2="104.8" y2="691.8"/>
<line x1="112.3" y1="685.6" x2="112.3" y2="691.8"/>
<line x1="119.8" y1="685.6" x2="119.8" y2="691.8"/>
<line x1="127.4" y1="685.6" x2="127.4" y2="691.8"/>
<line x1="134.9" y1="685.6" x2="134.9" y2="691.8"/>
<line x1="142.4" y1="685.6" x2="142.4" y2="691.8"/>
<line x1="149.9" y1="685.6" x2="149.9" y2="691.8"/>
<line x1="157.4" y1="685.6" x2="157.4" y2="691.8"/>
<line x1="164.9" y1="685.6" x2="164.9" y2="691.8"/>
<line x1="172.4" y1="685.6" x2="172.4" y2="691.8"/>
<line x1="179.9" y1="685.6" x2="179.9" y2="691.8"/>
<line x1="187.4" y1="685.6" x2="187.4" y2="691.8"/>
<line x1="194.9" y1="685.6" x2="194.9" y2="691.8"/>
<line x1="202.4" y1="685.6" x2="202.4" y2="691.8"/>
<line x1="210.0" y1="685.6" x2="210.0" y2="691.8"/>
<line x1="217.5" y1="685.6" x2="217.5" y2="691.8"/>
<line x1="225.0" y1="685.6" x2="225.0" y2="691.8"/>
<line x1="232.5" y1="685.6" x2="232.5" y2="691.8"/>
<line x1="240.0" y1="685.6" x2="240.0" y2="691.8"/>
<line x1="247.5" y1="685.6" x2="247.5" y2="691.8"/>
<line x1="255.0" y1="685.6" x2="255.0" y2="691.8"/>
<line x1="262.5" y1="685.6" x2="262.5" y2="691.8"/>
<line x1="270.0" y1="685.6" x2="270.0" y2="691.8"/>
<line x1="277.5" y1="685.6" x2="277.5" y2="691.8"/>
<line x1="285.1" y1="685.6" x2="285.1" y2="691.8"/>
<line x1="292.6" y1="685.6" x2="292.6" y2="691.8"/>
<line x1="300.1" y1="685.6" x2="300.1" y2="691.8"/>
<line x1="307.6" y1="685.6" x2="307.6" y2="691.8"/>
<line x1="315.1" y1="685.6" x2="315.1" y2="691.8"/>
<line x1="322.6" y1="685.6" x2="322.6" y2="691.8"/>
<line x1="330.1" y1="685.6" x2="330.1" y2="691.8"/>
<line x1="337.6" y1="685.6" x2="337.6" y2="691.8"/>
<line x1="345.1" y1="685.6" x2="345.1" y2="691.8"/>
<line x1="352.6" y1="685.6" x2="352.6" y2="691.8"/>
<line x1="360.2" y1="685.6" x2="360.2" y2="691.8"/>
<line x1="367.7" y1="685.6" x2="367.7" y2="691.8"/>
<line x1="375.2" y1="685.6" x2="375.2" y2="691.8"/>
<line x1="382.7" y1="685.6" x2="382.7" y2="691.8"/>
<line x1="390.2" y1="685.6" x2="390.2" y2="691.8"/>
<line x1="397.7" y1="685.6" x2="397.7" y2="691.8"/>
<line x1="405.2" y1="685.6" x2="405.2" y2="691.8"/>
<line x1="412.7" y1="685.6" x2="412.7" y2="691.8"/>
<line x1="420.2" y1="685.6" x2="420.2" y2="691.8"/>
<line x1="427.7" y1="685.6" x2="427.7" y2="691.8"/>
<line x1="435.3" y1="685.6" x2="435.3" y2="691.8"/>
<line x1="442.8" y1="685.6" x2="442.8" y2="691.8"/>
<line x1="450.3" y1="685.6" x2="450.3" y2="691.8"/>
<line x1="457.8" y1="685.6" x2="457.8" y2="691.8"/>
<line x1="465.3" y1="685.6" x2="465.3" y2="691.8"/>
<line x1="472.8" y1="685.6" x2="472.8" y2="691.8"/>
<line x1="480.3" y1="685.6" x2="480.3" y2="691.8"/>
<line x1="487.8" y1="685.6" x2="487.8" y2="691.8"/>
<line x1="495.3" y1="685.6" x2="495.3" y2="691.8"/>
<line x1="502.8" y1="685.6" x2="502.8" y2="691.8"/>
<line x1="510.4" y1="685.6" x2="510.4" y2="691.8"/>
<line x1="517.9" y1="685.6" x2="517.9" y2="691.8"/>
<line x1="525.4" y1="685.6" x2="525.4" y2="691.8"/>
<line x1="532.9" y1="685.6" x2="532.9" y2="691.8"/>
<line x1="540.4" y1="685.6" x2="540.4" y2="691.8"/>
<line x1="547.9" y1="685.6" x2="547.9" y2="691.8"/>
<line x1="555.4" y1="685.6" x2="555.4" y2="691.8"/>
<line x1="562.9" y1="685.6" x2="562.9" y2="691.8"/>
<line x1="570.4" y1="685.6" x2="570.4" y2="691.8"/>
<line x1="577.9" y1="685.6" x2="577.9" y2="691.8"/>
<line x1="585.5" y1="685.6" x2="585.5" y2="691.8"/>
<line x1="593.0" y1="685.6" x2="593.0" y2="691.8"/>
<line x1="600.5" y1="685.6" x2="600.5" y2="691.8"/>
<line x1="608.0" y1="685.6" x2="608.0" y2="691.8"/>
<line x1="615.5" y1="685.6" x2="615.5" y2="691.8"/>
<line x1="623.0" y1="685.6" x2="623.0" y2="691.8"/>
<line x1="630.5" y1="685.6" x2="630.5" y2="691.8"/>
<line x1="638.0" y1="685.6" x2="638.0" y2="691.8"/>
<line x1="645.5" y1="685.6" x2="645.5" y2="691.8"/>
<line x1="653.0" y1="685.6" x2="653.0" y2="691.8"/>
<line x1="660.6" y1="685.6" x2="660.6" y2="691.8"/>
<line x1="668.1" y1="685.6" x2="668.1" y2="691.8"/>
<line x1="675.6" y1="685.6" x2="675.6" y2="691.8"/>
<line x1="683.1" y1="685.6" x2="683.1" y2="691.8"/>
<line x1="690.6" y1="685.6" x2="690.6" y2="691.8"/>
<line x1="698.1" y1="685.6" x2="698.1" y2="691.8"/>
<line x1="705.6" y1="685.6" x2="705.6" y2="691.8"/>
<line x1="713.1" y1="685.6" x2="713.1" y2="691.8"/>
<line x1="720.6" y1="685.6" x2="720.6" y2="691.8"/>
<line x1="728.1" y1="685.6" x2="728.1" y2="691.8"/>
</g>
<path d="M41.6 685.2L50.6 685.2L46.1 691Z" fill="#000"/>
<rect x="728.9" y="684.5" width="13.6" height="586.5" fill="url(#cbc)"/>
<line x1="729.6" y1="684.5" x2="729.6" y2="1271" stroke="#3c2a20" stroke-width="1.4"/>
<line x1="741.8" y1="684.5" x2="741.8" y2="1271" stroke="#4a3428" stroke-width="1.4" stroke-opacity="0.85"/>
<g stroke="#3a3a3a" stroke-width="1.2">
<line x1="742.4" y1="703.9" x2="746" y2="703.9"/>
<line x1="742.4" y1="750.9" x2="746" y2="750.9"/>
<line x1="742.4" y1="798.0" x2="746" y2="798.0"/>
<line x1="742.4" y1="845.0" x2="746" y2="845.0"/>
<line x1="742.4" y1="892.0" x2="746" y2="892.0"/>
<line x1="742.4" y1="939.0" x2="746" y2="939.0"/>
<line x1="742.4" y1="986.1" x2="746" y2="986.1"/>
<line x1="742.4" y1="1033.1" x2="746" y2="1033.1"/>
<line x1="742.4" y1="1080.1" x2="746" y2="1080.1"/>
<line x1="742.4" y1="1127.2" x2="746" y2="1127.2"/>
<line x1="742.4" y1="1174.2" x2="746" y2="1174.2"/>
<line x1="742.4" y1="1221.2" x2="746" y2="1221.2"/>
<line x1="742.4" y1="1268.3" x2="746" y2="1268.3"/>
</g>
<text transform="translate(743.78 745.90) scale(1.0094 1)" font-family="Liberation Sans, sans-serif" font-size="15.29" font-weight="normal" fill="#444" stroke="#444" stroke-width="0.45" xml:space="preserve" >0.07</text>
<text transform="translate(743.78 792.95) scale(1.0094 1)" font-family="Liberation Sans, sans-serif" font-size="15.29" font-weight="normal" fill="#444" stroke="#444" stroke-width="0.45" xml:space="preserve" >0.06</text>
<text transform="translate(743.78 840.00) scale(1.0094 1)" font-family="Liberation Sans, sans-serif" font-size="15.29" font-weight="normal" fill="#444" stroke="#444" stroke-width="0.45" xml:space="preserve" >0.05</text>
<text transform="translate(743.79 887.05) scale(0.9987 1)" font-family="Liberation Sans, sans-serif" font-size="15.29" font-weight="normal" fill="#444" stroke="#444" stroke-width="0.45" xml:space="preserve" >0.04</text>
<text transform="translate(743.78 934.10) scale(1.0094 1)" font-family="Liberation Sans, sans-serif" font-size="15.29" font-weight="normal" fill="#444" stroke="#444" stroke-width="0.45" xml:space="preserve" >0.03</text>
<text transform="translate(743.78 981.15) scale(1.0094 1)" font-family="Liberation Sans, sans-serif" font-size="15.29" font-weight="normal" fill="#444" stroke="#444" stroke-width="0.45" xml:space="preserve" >0.02</text>
<text transform="translate(743.78 1028.20) scale(1.0094 1)" font-family="Liberation Sans, sans-serif" font-size="15.29" font-weight="normal" fill="#444" stroke="#444" stroke-width="0.45" xml:space="preserve" >0.01</text>
<text transform="translate(743.79 1075.25) scale(1.0040 1)" font-family="Liberation Sans, sans-serif" font-size="15.29" font-weight="normal" fill="#444" stroke="#444" stroke-width="0.45" xml:space="preserve" >0.00</text>
<text transform="translate(745.60 1122.30) scale(0.9738 1)" font-family="Liberation Sans, sans-serif" font-size="15.29" font-weight="normal" fill="#444" stroke="#444" stroke-width="0.45" xml:space="preserve" >-0.01</text>
<text transform="translate(745.60 1169.35) scale(0.9738 1)" font-family="Liberation Sans, sans-serif" font-size="15.29" font-weight="normal" fill="#444" stroke="#444" stroke-width="0.45" xml:space="preserve" >-0.02</text>
<text transform="translate(745.60 1216.40) scale(0.9738 1)" font-family="Liberation Sans, sans-serif" font-size="15.29" font-weight="normal" fill="#444" stroke="#444" stroke-width="0.45" xml:space="preserve" >-0.03</text>
<text transform="translate(745.61 1263.45) scale(0.9650 1)" font-family="Liberation Sans, sans-serif" font-size="15.29" font-weight="normal" fill="#444" stroke="#444" stroke-width="0.45" xml:space="preserve" >-0.04</text>
<text transform="translate(759.93 711.40) scale(0.9667 1)" font-family="DejaVu Sans, sans-serif" font-size="27.27" font-weight="normal" fill="#111" stroke="#111" stroke-width="0" xml:space="preserve" >µm</text>
<text transform="translate(327.99 1312.00) scale(1.0641 1)" font-family="DejaVu Sans, sans-serif" font-size="31.46" font-weight="normal" fill="#111" stroke="#111" stroke-width="0" xml:space="preserve" >(c)</text>
<rect x="944.8" y="955.5" width="617.2" height="219.70000000000005" fill="#f4f4f7" stroke="#2b2b6e" stroke-width="1.7"/>
<g stroke="#dadae2" stroke-width="1.2">
<line x1="944.8" y1="1176.2" x2="944.8" y2="1182.2"/>
<line x1="1020.7" y1="1176.2" x2="1020.7" y2="1182.2"/>
<line x1="1096.5" y1="1176.2" x2="1096.5" y2="1182.2"/>
<line x1="1172.4" y1="1176.2" x2="1172.4" y2="1182.2"/>
<line x1="1248.3" y1="1176.2" x2="1248.3" y2="1182.2"/>
<line x1="1324.2" y1="1176.2" x2="1324.2" y2="1182.2"/>
<line x1="1400.0" y1="1176.2" x2="1400.0" y2="1182.2"/>
<line x1="1475.9" y1="1176.2" x2="1475.9" y2="1182.2"/>
<line x1="1551.8" y1="1176.2" x2="1551.8" y2="1182.2"/>
<line x1="937.8" y1="1148.7" x2="943.8" y2="1148.7"/>
<line x1="937.8" y1="1108.1" x2="943.8" y2="1108.1"/>
<line x1="937.8" y1="1067.5" x2="943.8" y2="1067.5"/>
<line x1="937.8" y1="1026.9" x2="943.8" y2="1026.9"/>
<line x1="937.8" y1="986.3" x2="943.8" y2="986.3"/>
</g>
<g clip-path="url(#cd)" stroke-linejoin="round" stroke-linecap="round">
<path d="M1030.0 1147.5L1031.1 1146.6L1032.2 1148.3L1033.3 1144.2L1034.4 1146.2L1035.5 1144.5L1036.6 1143.3L1037.7 1144.8L1038.8 1141.6L1039.9 1142.1L1041.0 1145.2L1042.1 1142.8L1043.2 1145.3L1044.3 1143.3L1045.4 1141.5L1046.5 1141.3L1047.6 1136.1L1048.7 1132.7L1049.8 1141.6L1050.9 1144.5L1052.0 1143.5L1053.1 1144.1L1054.2 1143.7L1055.3 1142.8L1056.4 1141.4L1057.5 1141.3L1058.6 1141.0L1059.7 1144.7L1060.8 1141.1L1061.9 1137.7L1063.0 1136.7L1064.1 1139.8L1065.2 1145.2L1066.3 1141.0L1067.4 1141.9L1068.5 1144.8L1069.6 1142.0L1070.7 1145.3L1071.8 1145.3L1072.9 1140.8L1074.0 1135.0L1075.1 1137.8L1076.2 1145.1L1077.3 1145.3L1078.4 1143.6L1079.5 1144.8L1080.6 1141.6L1081.7 1141.2L1082.8 1143.8L1083.9 1143.1L1085.0 1142.8L1086.1 1142.7L1087.2 1143.2L1088.3 1142.2L1089.4 1144.1L1090.5 1143.1L1091.6 1145.4L1092.7 1142.9L1093.8 1142.7L1094.9 1145.2L1096.0 1143.4L1097.1 1143.9L1098.2 1142.2L1099.3 1145.2L1100.4 1135.9L1101.5 1028.9L1102.6 1023.8L1103.7 996.8L1104.8 977.7L1105.9 978.8L1107.0 976.8L1108.1 979.5L1109.2 979.2L1110.3 990.6L1111.4 998.7L1112.5 1006.7L1113.6 1019.3L1114.7 1024.9L1115.8 1026.1L1116.9 1024.0L1118.0 1024.9L1119.1 1026.4L1120.2 1024.9L1121.3 1016.4L1122.4 1015.6L1123.5 1017.5L1124.6 1026.1L1125.7 1029.7L1126.8 1029.7L1127.9 1138.3L1129.0 1138.3L1130.1 1139.5L1131.2 1136.0L1132.3 1135.8L1133.4 1135.9L1134.5 1139.2L1135.6 1136.4L1136.7 1137.9L1137.8 1138.7L1138.9 1139.9L1140.0 1138.9L1141.1 1140.0L1142.2 1137.1L1143.3 1136.2L1144.4 1024.3L1145.5 1023.6L1146.6 1025.6L1147.7 1024.6L1148.8 1019.1L1149.9 1017.7L1151.0 1015.3L1152.1 1017.4L1153.2 1022.0L1154.3 1019.2L1155.4 1019.3L1156.5 1019.2L1157.6 1022.8L1158.7 1019.0L1159.8 1021.6L1160.9 1020.5L1162.0 1020.7L1163.1 1022.8L1164.2 1022.3L1165.3 1018.9L1166.4 1004.8L1167.5 1003.2L1168.6 1014.5L1169.7 1024.0L1170.8 1025.3L1171.9 1025.4L1173.0 1024.4L1174.1 1138.5L1175.2 1139.4L1176.3 1137.5L1177.4 1138.5L1178.5 1137.4L1179.6 1138.5L1180.7 1137.0L1181.8 1137.1L1182.9 1139.1L1184.0 1137.1L1185.1 1138.3L1186.2 1136.2L1187.3 1138.5L1188.4 1136.6L1189.5 1138.1L1190.6 1025.3L1191.7 1025.0L1192.8 1013.8L1193.9 987.3L1195.0 976.8L1196.1 996.2L1197.2 1024.7L1198.3 1024.4L1199.4 1024.1L1200.5 1021.1L1201.6 1021.1L1202.7 1021.1L1203.8 1022.3L1204.9 1024.7L1206.0 1022.6L1207.1 1024.4L1208.2 1020.7L1209.3 1023.4L1210.4 1021.2L1211.5 1024.1L1212.6 1022.1L1213.7 1021.4L1214.8 1015.4L1215.9 1018.6L1217.0 1026.7L1218.1 1027.1L1219.2 1139.5L1220.3 1136.8L1221.4 1137.9L1222.5 1137.3L1223.6 1139.5L1224.7 1136.8L1225.8 1137.9L1226.9 1137.0L1228.0 1139.0L1229.1 1137.6L1230.2 1139.1L1231.3 1135.9L1232.4 1137.0L1233.5 1136.4L1234.6 1139.0L1235.7 1026.8L1236.8 1025.2L1237.9 1025.3L1239.0 1019.9L1240.1 1013.2L1241.2 1015.3L1242.3 1018.2L1243.4 1020.4L1244.5 1019.6L1245.6 1021.1L1246.7 1018.6L1247.8 1021.8L1248.9 1011.2L1250.0 984.4L1251.1 975.5L1252.2 991.5L1253.3 1016.8L1254.4 1018.8L1255.5 1013.7L1256.6 1012.9L1257.7 1020.0L1258.8 1023.2L1259.9 1025.3L1261.0 1023.9L1262.1 1025.4L1263.2 1138.0L1264.3 1137.6L1265.4 1138.4L1266.5 1139.6L1267.6 1137.2L1268.7 1136.2L1269.8 1139.7L1270.9 1138.5L1272.0 1136.8L1273.1 1137.2L1274.2 1136.6L1275.3 1136.8L1276.4 1137.2L1277.5 1139.7L1278.6 1138.6L1279.7 1034.0L1280.8 1036.2L1281.9 1034.2L1283.0 1033.1L1284.1 1036.5L1285.2 1044.5L1286.3 1038.3L1287.4 1036.1L1288.5 1032.1L1289.6 1028.6L1290.7 1023.9L1291.8 1025.3L1292.9 1028.4L1294.0 1031.3L1295.1 1033.0L1296.2 1032.6L1297.3 1033.1L1298.4 1034.4L1299.5 1034.9L1300.6 1037.4L1301.7 1043.5L1302.8 1048.6L1303.9 1033.8L1305.0 1036.2L1306.1 1033.7L1307.2 1033.7L1308.3 1139.5L1309.4 1139.3L1310.5 1137.6L1311.6 1139.1L1312.7 1140.0L1313.8 1136.2L1314.9 1138.5L1316.0 1137.6L1317.1 1135.8L1318.2 1138.8L1319.3 1138.0L1320.4 1136.9L1321.5 1136.7L1322.6 1138.0L1323.7 1138.1L1324.8 1026.6L1325.9 1026.7L1327.0 1026.9L1328.1 1024.6L1329.2 1028.3L1330.3 1022.1L1331.4 1018.5L1332.5 1009.5L1333.6 1003.9L1334.7 1013.0L1335.8 1024.3L1336.9 1022.2L1338.0 1021.7L1339.1 1023.3L1340.2 1015.7L1341.3 1011.4L1342.4 1013.6L1343.5 1023.8L1344.6 1024.0L1345.7 1022.6L1346.8 1022.5L1347.9 1026.0L1349.0 1026.9L1350.1 1027.1L1351.2 1024.9L1352.3 1027.3L1353.4 1137.8L1354.5 1139.2L1355.6 1139.2L1356.7 1139.5L1357.8 1139.3L1358.9 1139.4L1360.0 1139.4L1361.1 1139.7L1362.2 1138.0L1363.3 1140.1L1364.4 1138.4L1365.5 1139.9L1366.6 1138.4L1367.7 1135.9L1368.8 1139.8L1369.9 1032.3L1371.0 1031.4L1372.1 999.9L1373.2 971.2L1374.3 975.5L1375.4 1006.2L1376.5 1027.7L1377.6 1026.1L1378.7 1028.5L1379.8 1024.6L1380.9 1028.9L1382.0 1028.5L1383.1 1028.8L1384.2 1026.0L1385.3 1028.0L1386.4 1026.8L1387.5 1024.8L1388.6 1028.8L1389.7 1022.5L1390.8 1016.9L1391.9 1012.0L1393.0 1023.3L1394.1 1030.0L1395.2 1032.2L1396.3 1029.7L1397.4 1030.5L1398.5 1143.0L1399.6 1143.6L1400.7 1142.5L1401.8 1143.9L1402.9 1141.9L1404.0 1142.9L1405.1 1144.0L1406.2 1144.5L1407.3 1141.3L1408.4 1144.2L1409.5 1140.9L1410.6 1140.7L1411.7 1142.6L1412.8 1141.4L1413.9 1143.0L1415.0 1142.9L1416.1 1144.2L1417.2 1144.1L1418.3 1141.7L1419.4 1144.4L1420.5 1141.8L1421.6 1144.6L1422.7 1140.3L1423.8 1142.1L1424.9 1141.2L1426.0 1141.1L1427.1 1143.8L1428.2 1144.3L1429.3 1144.1L1430.4 1140.3L1431.5 1140.7L1432.6 1142.6L1433.7 1140.9L1434.8 1141.8L1435.9 1140.7L1437.0 1141.9L1438.1 1144.1L1439.2 1142.0L1440.3 1143.7L1441.4 1142.6L1442.5 1144.3L1443.6 1142.5L1444.7 1142.2L1445.8 1142.8L1446.9 1141.9L1448.0 1143.1L1449.1 1143.1L1450.2 1144.3L1451.3 1143.9L1452.4 1141.4L1453.5 1140.2L1454.6 1140.5L1455.7 1142.8L1456.8 1140.6L1457.9 1142.5L1459.0 1142.8L1459.0 1160.6L1457.9 1159.9L1456.8 1159.9L1455.7 1161.5L1454.6 1161.2L1453.5 1160.2L1452.4 1159.9L1451.3 1162.8L1450.2 1162.0L1449.1 1159.7L1448.0 1162.9L1446.9 1161.1L1445.8 1160.7L1444.7 1163.4L1443.6 1162.3L1442.5 1160.8L1441.4 1161.5L1440.3 1160.4L1439.2 1160.3L1438.1 1161.9L1437.0 1162.3L1435.9 1160.6L1434.8 1161.2L1433.7 1162.8L1432.6 1163.4L1431.5 1162.9L1430.4 1163.6L1429.3 1160.4L1428.2 1163.0L1427.1 1161.5L1426.0 1161.3L1424.9 1162.0L1423.8 1162.8L1422.7 1162.8L1421.6 1161.3L1420.5 1163.1L1419.4 1162.7L1418.3 1163.4L1417.2 1161.4L1416.1 1159.8L1415.0 1163.4L1413.9 1162.4L1412.8 1160.1L1411.7 1160.2L1410.6 1161.1L1409.5 1162.8L1408.4 1161.0L1407.3 1161.8L1406.2 1160.8L1405.1 1161.7L1404.0 1160.8L1402.9 1160.8L1401.8 1162.6L1400.7 1160.6L1399.6 1162.0L1398.5 1160.0L1397.4 1157.9L1396.3 1158.3L1395.2 1157.5L1394.1 1159.9L1393.0 1160.8L1391.9 1050.1L1390.8 1047.4L1389.7 1050.0L1388.6 1047.4L1387.5 1048.0L1386.4 1047.3L1385.3 1047.6L1384.2 1051.0L1383.1 1050.6L1382.0 1051.1L1380.9 1048.9L1379.8 1048.5L1378.7 1049.9L1377.6 1048.0L1376.5 1050.2L1375.4 1047.5L1374.3 1048.1L1373.2 1158.3L1372.1 1160.8L1371.0 1158.8L1369.9 1159.4L1368.8 1160.4L1367.7 1161.2L1366.6 1159.6L1365.5 1158.4L1364.4 1159.5L1363.3 1161.0L1362.2 1160.6L1361.1 1161.2L1360.0 1159.6L1358.9 1160.4L1357.8 1159.4L1356.7 1158.1L1355.6 1161.3L1354.5 1158.9L1353.4 1159.8L1352.3 1158.4L1351.2 1160.6L1350.1 1158.2L1349.0 1160.0L1347.9 1159.6L1346.8 1048.4L1345.7 1050.6L1344.6 1050.9L1343.5 1050.8L1342.4 1048.2L1341.3 1047.8L1340.2 1048.0L1339.1 1048.3L1338.0 1047.5L1336.9 1047.8L1335.8 1048.4L1334.7 1049.9L1333.6 1049.1L1332.5 1050.3L1331.4 1051.1L1330.3 1048.0L1329.2 1157.7L1328.1 1159.0L1327.0 1158.7L1325.9 1161.1L1324.8 1160.5L1323.7 1159.2L1322.6 1158.6L1321.5 1161.3L1320.4 1158.8L1319.3 1157.8L1318.2 1158.5L1317.1 1158.7L1316.0 1159.0L1314.9 1157.4L1313.8 1158.0L1312.7 1158.1L1311.6 1160.5L1310.5 1159.1L1309.4 1159.7L1308.3 1158.9L1307.2 1158.0L1306.1 1159.6L1305.0 1160.5L1303.9 1158.1L1302.8 1068.6L1301.7 1066.0L1300.6 1062.9L1299.5 1060.4L1298.4 1060.0L1297.3 1057.3L1296.2 1057.8L1295.1 1056.0L1294.0 1058.3L1292.9 1056.4L1291.8 1056.5L1290.7 1059.6L1289.6 1059.2L1288.5 1058.8L1287.4 1060.3L1286.3 1063.1L1285.2 1062.9L1284.1 1158.6L1283.0 1160.6L1281.9 1158.7L1280.8 1159.0L1279.7 1158.4L1278.6 1159.3L1277.5 1159.1L1276.4 1157.4L1275.3 1160.2L1274.2 1158.6L1273.1 1160.1L1272.0 1158.1L1270.9 1157.5L1269.8 1157.6L1268.7 1160.8L1267.6 1160.2L1266.5 1159.1L1265.4 1157.4L1264.3 1160.4L1263.2 1159.5L1262.1 1161.3L1261.0 1158.9L1259.9 1160.1L1258.8 1160.9L1257.7 1158.3L1256.6 1050.0L1255.5 1050.2L1254.4 1047.8L1253.3 1050.5L1252.2 1050.5L1251.1 1047.8L1250.0 1048.5L1248.9 1050.3L1247.8 1049.4L1246.7 1048.3L1245.6 1047.8L1244.5 1049.3L1243.4 1047.9L1242.3 1049.4L1241.2 1049.3L1240.1 1160.7L1239.0 1160.0L1237.9 1160.6L1236.8 1159.3L1235.7 1160.4L1234.6 1158.9L1233.5 1159.6L1232.4 1160.1L1231.3 1158.5L1230.2 1160.0L1229.1 1160.5L1228.0 1160.5L1226.9 1159.5L1225.8 1157.6L1224.7 1160.9L1223.6 1157.6L1222.5 1159.3L1221.4 1158.6L1220.3 1158.5L1219.2 1158.3L1218.1 1157.3L1217.0 1160.9L1215.9 1159.9L1214.8 1159.8L1213.7 1158.2L1212.6 1049.0L1211.5 1049.1L1210.4 1047.8L1209.3 1049.8L1208.2 1047.0L1207.1 1047.1L1206.0 1046.9L1204.9 1046.8L1203.8 1046.2L1202.7 1047.3L1201.6 1049.5L1200.5 1049.9L1199.4 1046.5L1198.3 1049.7L1197.2 1046.9L1196.1 1050.0L1195.0 1160.9L1193.9 1158.3L1192.8 1158.1L1191.7 1158.6L1190.6 1160.8L1189.5 1160.2L1188.4 1157.6L1187.3 1157.5L1186.2 1159.6L1185.1 1161.0L1184.0 1159.1L1182.9 1159.4L1181.8 1159.6L1180.7 1159.3L1179.6 1159.5L1178.5 1158.0L1177.4 1158.1L1176.3 1159.8L1175.2 1161.0L1174.1 1158.4L1173.0 1160.8L1171.9 1160.5L1170.8 1158.9L1169.7 1159.9L1168.6 1160.0L1167.5 1050.9L1166.4 1047.3L1165.3 1050.8L1164.2 1051.0L1163.1 1048.1L1162.0 1049.5L1160.9 1050.2L1159.8 1051.1L1158.7 1048.7L1157.6 1047.9L1156.5 1047.5L1155.4 1050.6L1154.3 1049.1L1153.2 1049.8L1152.1 1049.3L1151.0 1050.2L1149.9 1048.8L1148.8 1159.6L1147.7 1158.6L1146.6 1160.6L1145.5 1161.2L1144.4 1157.6L1143.3 1157.5L1142.2 1157.6L1141.1 1158.0L1140.0 1158.9L1138.9 1160.4L1137.8 1160.1L1136.7 1158.6L1135.6 1158.3L1134.5 1157.5L1133.4 1159.5L1132.3 1157.7L1131.2 1161.3L1130.1 1157.5L1129.0 1159.6L1127.9 1159.9L1126.8 1158.1L1125.7 1160.8L1124.6 1158.0L1123.5 1158.0L1122.4 1052.5L1121.3 1050.0L1120.2 1051.1L1119.1 1052.4L1118.0 1049.7L1116.9 1051.9L1115.8 1049.8L1114.7 1049.9L1113.6 1052.0L1112.5 1050.5L1111.4 1052.5L1110.3 1050.0L1109.2 1052.0L1108.1 1051.0L1107.0 1050.2L1105.9 1052.1L1104.8 1159.8L1103.7 1159.8L1102.6 1158.9L1101.5 1160.3L1100.4 1158.5L1099.3 1166.9L1098.2 1164.1L1097.1 1164.2L1096.0 1164.4L1094.9 1164.4L1093.8 1166.9L1092.7 1165.3L1091.6 1164.7L1090.5 1163.0L1089.4 1166.0L1088.3 1165.2L1087.2 1163.2L1086.1 1164.7L1085.0 1164.4L1083.9 1165.1L1082.8 1163.3L1081.7 1165.7L1080.6 1166.8L1079.5 1164.5L1078.4 1166.2L1077.3 1164.5L1076.2 1165.7L1075.1 1164.9L1074.0 1163.4L1072.9 1164.1L1071.8 1164.5L1070.7 1163.4L1069.6 1165.8L1068.5 1165.3L1067.4 1166.6L1066.3 1163.5L1065.2 1165.8L1064.1 1163.6L1063.0 1164.1L1061.9 1163.3L1060.8 1163.5L1059.7 1164.2L1058.6 1163.5L1057.5 1164.2L1056.4 1164.6L1055.3 1165.5L1054.2 1164.9L1053.1 1164.4L1052.0 1163.1L1050.9 1166.4L1049.8 1163.4L1048.7 1165.2L1047.6 1165.4L1046.5 1164.1L1045.4 1164.1L1044.3 1163.5L1043.2 1165.7L1042.1 1163.9L1041.0 1164.2L1039.9 1164.8L1038.8 1164.4L1037.7 1164.4L1036.6 1163.6L1035.5 1161.7L1034.4 1163.8L1033.3 1163.9L1032.2 1160.5L1031.1 1160.7L1030.0 1160.3Z" fill="#0a0ae2" stroke="#0a0ae2" stroke-width="0.8"/>
<path d="M949.4 1147.5C951.4 1148.5 952.5 1151.5 956.9 1151.1C961.4 1150.8 961.6 1145.6 966.0 1146.3C970.5 1146.9 969.6 1152.7 973.6 1153.6C977.7 1154.4 976.8 1149.7 981.2 1149.5C985.7 1149.3 985.5 1153.2 990.3 1152.8C995.2 1152.3 994.6 1149.6 999.4 1147.9C1004.3 1146.2 1003.7 1146.3 1008.5 1146.3C1013.4 1146.3 1012.8 1145.9 1017.6 1147.9C1022.5 1149.8 1021.9 1152.7 1026.7 1153.6C1031.6 1154.4 1031.0 1152.4 1035.8 1151.1C1040.7 1149.8 1040.1 1149.7 1045.0 1148.7C1049.8 1147.7 1049.2 1147.5 1054.1 1147.5C1058.9 1147.5 1058.3 1148.2 1063.2 1148.7C1068.0 1149.2 1067.8 1149.5 1072.3 1149.5C1076.7 1149.5 1075.8 1151.3 1079.9 1148.7C1083.9 1146.1 1083.4 1145.2 1087.4 1139.8C1091.5 1134.4 1091.8 1135.2 1095.0 1128.4C1098.3 1121.6 1097.2 1122.9 1099.6 1114.2C1102.0 1105.5 1100.9 1105.4 1104.1 1095.9C1107.4 1086.4 1107.7 1080.6 1111.7 1078.5C1115.8 1076.3 1115.3 1079.9 1119.3 1087.8C1123.4 1095.7 1122.9 1098.7 1126.9 1108.1C1130.9 1117.5 1130.8 1119.9 1134.5 1123.1C1138.1 1126.4 1136.9 1125.4 1140.6 1120.3C1144.2 1115.2 1144.1 1113.8 1148.1 1104.0C1152.2 1094.3 1152.7 1091.3 1155.7 1083.7C1158.8 1076.2 1156.8 1074.5 1159.7 1075.6C1162.5 1076.7 1162.6 1078.6 1166.4 1087.8C1170.2 1097.0 1170.1 1100.2 1173.9 1110.1C1177.8 1120.1 1177.3 1124.1 1180.9 1125.2C1184.6 1126.2 1184.2 1123.1 1187.6 1114.2C1191.0 1105.3 1190.0 1101.4 1193.7 1091.9C1197.3 1082.3 1197.2 1081.2 1201.3 1078.5C1205.3 1075.8 1204.8 1076.0 1208.8 1081.7C1212.9 1087.4 1212.8 1090.2 1216.4 1100.0C1220.1 1109.7 1219.7 1112.0 1222.5 1118.2C1225.3 1124.5 1224.2 1124.1 1227.1 1123.5C1229.9 1123.0 1229.5 1125.2 1233.1 1116.2C1236.8 1107.2 1236.3 1101.5 1240.7 1089.8C1245.2 1078.1 1245.4 1071.8 1249.8 1072.4C1254.3 1072.9 1253.4 1080.7 1257.4 1091.9C1261.5 1103.0 1261.4 1106.1 1265.0 1114.2C1268.6 1122.3 1267.4 1122.9 1271.1 1122.3C1274.7 1121.8 1274.6 1120.8 1278.7 1112.2C1282.7 1103.5 1282.2 1098.0 1286.2 1089.8C1290.3 1081.7 1289.4 1083.3 1293.8 1081.7C1298.3 1080.1 1298.5 1077.8 1302.9 1083.7C1307.4 1089.7 1306.9 1093.4 1310.5 1104.0C1314.2 1114.7 1313.4 1119.7 1316.6 1123.5C1319.8 1127.3 1319.0 1125.6 1322.7 1118.2C1326.3 1110.9 1326.2 1107.1 1330.2 1095.9C1334.3 1084.8 1333.8 1078.1 1337.8 1076.4C1341.9 1074.8 1341.0 1080.3 1345.4 1089.8C1349.9 1099.4 1349.7 1102.7 1354.5 1112.2C1359.4 1121.6 1359.2 1125.7 1363.6 1125.2C1368.1 1124.6 1367.2 1120.1 1371.2 1110.1C1375.3 1100.2 1375.2 1095.7 1378.8 1087.8C1382.4 1079.9 1381.2 1079.4 1384.9 1080.5C1388.5 1081.6 1388.4 1082.3 1392.5 1091.9C1396.5 1101.4 1396.0 1104.5 1400.0 1116.2C1404.1 1127.9 1403.6 1128.1 1407.6 1135.7C1411.7 1143.3 1410.8 1141.4 1415.2 1144.6C1419.7 1147.9 1418.7 1145.9 1424.3 1147.9C1430.0 1149.8 1430.0 1151.5 1436.5 1151.9C1442.9 1152.4 1442.1 1151.0 1448.6 1149.5C1455.1 1148.0 1454.3 1146.9 1460.8 1146.3C1467.2 1145.6 1466.4 1145.5 1472.9 1147.1C1479.4 1148.7 1479.4 1152.0 1485.0 1152.4C1490.7 1152.7 1489.3 1149.7 1494.1 1148.3C1499.0 1146.9 1498.0 1147.9 1503.2 1147.1C1508.5 1146.2 1508.2 1143.2 1513.9 1145.0C1519.5 1146.9 1519.2 1152.5 1524.5 1154.0C1529.7 1155.5 1528.7 1152.4 1533.6 1150.7C1538.4 1149.1 1538.2 1149.1 1542.7 1147.9C1547.1 1146.7 1545.4 1146.7 1550.3 1146.3C1555.1 1145.8 1558.1 1146.3 1560.9 1146.3" fill="none" stroke="#e40f1c" stroke-width="5.4"/>
</g>
<rect x="944.8" y="955.5" width="617.2" height="219.70000000000005" fill="none" stroke="#2b2b6e" stroke-width="1.7"/>
<text transform="translate(1028.21 1011.50) scale(1.0489 1)" font-family="DejaVu Sans, sans-serif" font-size="28.08" font-weight="normal" fill="#1414d8" stroke="#1414d8" stroke-width="0" xml:space="preserve" >AFM</text>
<text transform="translate(955.96 1129.00) scale(1.2612 1)" font-family="DejaVu Sans, sans-serif" font-size="28.08" font-weight="normal" fill="#b01c22" stroke="#b01c22" stroke-width="0" xml:space="preserve" >IM</text>
<text transform="translate(925.95 1218.80) scale(0.8321 1)" font-family="Liberation Sans, sans-serif" font-size="30.00" font-weight="normal" fill="#3a3a3a" stroke="#3a3a3a" stroke-width="0.45" xml:space="preserve" >0.0</text>
<text transform="translate(1001.57 1218.80) scale(0.8385 1)" font-family="Liberation Sans, sans-serif" font-size="30.00" font-weight="normal" fill="#3a3a3a" stroke="#3a3a3a" stroke-width="0.45" xml:space="preserve" >2.5</text>
<text transform="translate(1077.70 1218.80) scale(0.8321 1)" font-family="Liberation Sans, sans-serif" font-size="30.00" font-weight="normal" fill="#3a3a3a" stroke="#3a3a3a" stroke-width="0.45" xml:space="preserve" >5.0</text>
<text transform="translate(1153.32 1218.80) scale(0.8385 1)" font-family="Liberation Sans, sans-serif" font-size="30.00" font-weight="normal" fill="#3a3a3a" stroke="#3a3a3a" stroke-width="0.45" xml:space="preserve" >7.5</text>
<text transform="translate(1223.80 1218.80) scale(0.8106 1)" font-family="Liberation Sans, sans-serif" font-size="30.00" font-weight="normal" fill="#3a3a3a" stroke="#3a3a3a" stroke-width="0.45" xml:space="preserve" >10.0</text>
<text transform="translate(1299.67 1218.80) scale(0.8150 1)" font-family="Liberation Sans, sans-serif" font-size="30.00" font-weight="normal" fill="#3a3a3a" stroke="#3a3a3a" stroke-width="0.45" xml:space="preserve" >12.5</text>
<text transform="translate(1375.55 1218.80) scale(0.8106 1)" font-family="Liberation Sans, sans-serif" font-size="30.00" font-weight="normal" fill="#3a3a3a" stroke="#3a3a3a" stroke-width="0.45" xml:space="preserve" >15.0</text>
<text transform="translate(1451.42 1218.80) scale(0.8150 1)" font-family="Liberation Sans, sans-serif" font-size="30.00" font-weight="normal" fill="#3a3a3a" stroke="#3a3a3a" stroke-width="0.45" xml:space="preserve" >17.5</text>
<text transform="translate(1528.05 1218.80) scale(0.7975 1)" font-family="Liberation Sans, sans-serif" font-size="30.00" font-weight="normal" fill="#3a3a3a" stroke="#3a3a3a" stroke-width="0.45" xml:space="preserve" >20.0</text>
<text transform="translate(894.70 1158.50) scale(0.8737 1)" font-family="Liberation Sans, sans-serif" font-size="28.57" font-weight="normal" fill="#3a3a3a" stroke="#3a3a3a" stroke-width="0.45" xml:space="preserve" >0.0</text>
<text transform="translate(879.35 1117.90) scale(0.8989 1)" font-family="Liberation Sans, sans-serif" font-size="28.57" font-weight="normal" fill="#3a3a3a" stroke="#3a3a3a" stroke-width="0.45" xml:space="preserve" >10.0</text>
<text transform="translate(880.14 1077.30) scale(0.8844 1)" font-family="Liberation Sans, sans-serif" font-size="28.57" font-weight="normal" fill="#3a3a3a" stroke="#3a3a3a" stroke-width="0.45" xml:space="preserve" >20.0</text>
<text transform="translate(880.39 1036.70) scale(0.8797 1)" font-family="Liberation Sans, sans-serif" font-size="28.57" font-weight="normal" fill="#3a3a3a" stroke="#3a3a3a" stroke-width="0.45" xml:space="preserve" >30.0</text>
<text transform="translate(880.90 996.10) scale(0.8704 1)" font-family="Liberation Sans, sans-serif" font-size="28.57" font-weight="normal" fill="#3a3a3a" stroke="#3a3a3a" stroke-width="0.45" xml:space="preserve" >40.0</text>
<text transform="translate(1160.33 1267.30) scale(0.9574 1)" font-family="Liberation Sans, sans-serif" font-size="30.43" font-weight="normal" fill="#111" stroke="#111" stroke-width="0.45" xml:space="preserve" >X position, µm</text>
<text transform="translate(855.60 1144.34) rotate(-90) scale(0.9598 1)" font-family="Liberation Sans, sans-serif" font-size="30.43" font-weight="normal" fill="#111" stroke="#111" stroke-width="0.45" xml:space="preserve" >Height, nm</text>
<text transform="translate(1205.20 1312.50) scale(1.0013 1)" font-family="DejaVu Sans, sans-serif" font-size="32.13" font-weight="normal" fill="#111" stroke="#111" stroke-width="0" xml:space="preserve" >(d)</text>
</svg>
</body></html>
